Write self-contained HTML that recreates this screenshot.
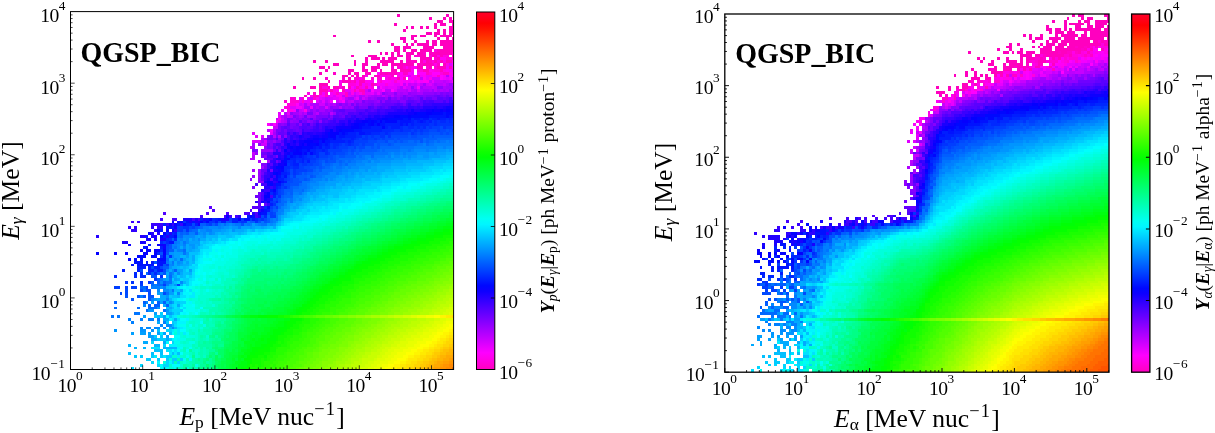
<!DOCTYPE html>
<html><head><meta charset="utf-8"><title>QGSP_BIC gamma-ray yield</title>
<style>html,body{margin:0;padding:0;background:#fff}svg{display:block}text{font-family:"Liberation Serif","Times New Roman",serif;fill:#000}</style>
</head><body>
<svg width="1215" height="433" viewBox="0 0 1215 433">
<rect width="1215" height="433" fill="#fff"/>
<clipPath id="c70"><rect x="70.50" y="11.60" width="383.10" height="357.90"/></clipPath><g clip-path="url(#c70)"><g transform="translate(70.50 369.50) scale(2.8880 -2.8632)" shape-rendering="crispEdges">
<path fill="#ff00bf" d="M86 97h3v1h-3zM90 97h1v1h-1zM94 97h1v1h-1zM98 97h1v1h-1zM100 97h2v1h-2zM77 98h1v1h-1zM83 98h2v1h-2zM86 98h1v1h-1zM89 98h1v1h-1zM91 98h2v1h-2zM94 98h1v1h-1zM96 98h1v1h-1zM99 98h1v1h-1zM102 98h1v1h-1zM86 99h3v1h-3zM100 99h1v1h-1zM104 99h1v1h-1zM89 100h1v1h-1zM94 100h3v1h-3zM98 100h1v1h-1zM100 100h2v1h-2zM80 101h1v1h-1zM84 101h1v1h-1zM96 101h1v1h-1zM113 101h1v1h-1zM115 101h1v1h-1zM94 102h2v1h-2zM97 102h1v1h-1zM99 102h1v1h-1zM101 102h1v1h-1zM106 102h1v1h-1zM86 103h1v1h-1zM96 103h1v1h-1zM98 103h2v1h-2zM103 103h1v1h-1zM107 103h1v1h-1zM109 103h1v1h-1zM112 103h1v1h-1zM88 104h1v1h-1zM96 104h2v1h-2zM101 104h2v1h-2zM104 104h2v1h-2zM107 104h1v1h-1zM111 104h2v1h-2zM114 104h4v1h-4zM122 104h2v1h-2zM128 104h1v1h-1zM86 105h2v1h-2zM89 105h1v1h-1zM101 105h1v1h-1zM104 105h2v1h-2zM114 105h1v1h-1zM120 105h2v1h-2zM124 105h1v1h-1zM127 105h3v1h-3zM131 105h1v1h-1zM91 106h2v1h-2zM98 106h1v1h-1zM101 106h2v1h-2zM106 106h1v1h-1zM108 106h2v1h-2zM111 106h4v1h-4zM116 106h3v1h-3zM120 106h1v1h-1zM122 106h3v1h-3zM129 106h1v1h-1zM84 107h1v1h-1zM88 107h1v1h-1zM98 107h1v1h-1zM102 107h1v1h-1zM108 107h4v1h-4zM114 107h1v1h-1zM117 107h1v1h-1zM119 107h1v1h-1zM121 107h1v1h-1zM123 107h1v1h-1zM126 107h1v1h-1zM128 107h1v1h-1zM130 107h2v1h-2zM102 108h1v1h-1zM104 108h3v1h-3zM108 108h1v1h-1zM110 108h3v1h-3zM116 108h2v1h-2zM121 108h4v1h-4zM127 108h1v1h-1zM132 108h1v1h-1zM97 109h1v1h-1zM103 109h3v1h-3zM111 109h1v1h-1zM113 109h2v1h-2zM116 109h2v1h-2zM121 109h2v1h-2zM125 109h2v1h-2zM128 109h1v1h-1zM132 109h1v1h-1zM107 110h1v1h-1zM109 110h1v1h-1zM111 110h1v1h-1zM113 110h1v1h-1zM116 110h3v1h-3zM120 110h2v1h-2zM124 110h1v1h-1zM126 110h6v1h-6zM112 111h2v1h-2zM115 111h1v1h-1zM118 111h2v1h-2zM121 111h4v1h-4zM128 111h5v1h-5zM112 112h2v1h-2zM115 112h3v1h-3zM122 112h4v1h-4zM129 112h4v1h-4zM111 113h1v1h-1zM116 113h1v1h-1zM118 113h1v1h-1zM120 113h4v1h-4zM125 113h2v1h-2zM128 113h5v1h-5zM103 114h1v1h-1zM106 114h1v1h-1zM115 114h1v1h-1zM119 114h1v1h-1zM123 114h1v1h-1zM125 114h2v1h-2zM128 114h5v1h-5zM114 115h2v1h-2zM118 115h1v1h-1zM127 115h1v1h-1zM130 115h1v1h-1zM132 115h1v1h-1zM91 116h1v1h-1zM118 116h2v1h-2zM121 116h2v1h-2zM126 116h1v1h-1zM128 116h4v1h-4zM123 117h2v1h-2zM126 117h2v1h-2zM129 117h1v1h-1zM131 117h2v1h-2zM115 118h1v1h-1zM127 118h1v1h-1zM129 118h1v1h-1zM131 118h2v1h-2zM116 119h1v1h-1zM118 119h1v1h-1zM121 119h1v1h-1zM123 119h1v1h-1zM126 119h1v1h-1zM131 119h2v1h-2zM112 120h1v1h-1zM126 120h1v1h-1zM128 120h2v1h-2zM132 120h1v1h-1zM127 121h2v1h-2zM131 121h2v1h-2zM124 122h1v1h-1zM129 122h1v1h-1zM131 122h1v1h-1zM113 123h1v1h-1zM130 123h1v1h-1z"/>
<path fill="#ff00ca" d="M81 95h1v1h-1zM84 95h2v1h-2zM88 95h1v1h-1zM95 95h1v1h-1zM84 96h1v1h-1zM86 96h1v1h-1zM88 96h1v1h-1zM92 96h1v1h-1zM95 96h1v1h-1zM101 96h1v1h-1zM105 102h1v1h-1zM111 102h1v1h-1zM120 102h1v1h-1zM127 102h1v1h-1zM91 103h1v1h-1zM102 103h1v1h-1zM108 103h1v1h-1zM110 103h2v1h-2zM115 103h2v1h-2zM123 103h1v1h-1zM129 103h2v1h-2zM115 106h1v1h-1zM121 106h1v1h-1zM125 106h1v1h-1zM127 106h1v1h-1zM107 107h1v1h-1zM116 107h1v1h-1zM118 107h1v1h-1zM124 107h1v1h-1zM122 110h1v1h-1zM125 110h1v1h-1zM127 111h1v1h-1z"/>
<path fill="#ff00d5" d="M74 93h1v1h-1zM76 93h3v1h-3zM80 93h1v1h-1zM83 93h1v1h-1zM76 94h2v1h-2zM80 94h1v1h-1zM84 94h1v1h-1zM97 100h1v1h-1zM107 100h1v1h-1zM112 100h1v1h-1zM88 101h1v1h-1zM94 101h1v1h-1zM98 101h2v1h-2zM101 101h1v1h-1zM104 101h1v1h-1zM106 101h2v1h-2zM110 101h1v1h-1zM106 105h1v1h-1zM111 105h1v1h-1zM113 105h1v1h-1zM115 105h1v1h-1zM117 105h1v1h-1zM123 105h1v1h-1zM126 105h1v1h-1zM126 108h1v1h-1zM130 108h1v1h-1zM119 109h2v1h-2zM132 110h1v1h-1z"/>
<path fill="#ff00e0" d="M74 91h2v1h-2zM75 92h3v1h-3zM87 98h2v1h-2zM93 98h1v1h-1zM100 98h1v1h-1zM104 98h1v1h-1zM93 99h1v1h-1zM96 99h3v1h-3zM102 99h1v1h-1zM105 99h1v1h-1zM109 99h1v1h-1zM113 103h1v1h-1zM124 103h1v1h-1zM128 103h1v1h-1zM120 104h2v1h-2zM126 104h2v1h-2zM132 104h1v1h-1zM125 107h1v1h-1zM127 107h1v1h-1zM131 108h1v1h-1zM124 109h1v1h-1zM129 109h2v1h-2zM126 111h1v1h-1z"/>
<path fill="#ff00eb" d="M75 90h2v1h-2zM81 90h1v1h-1zM82 96h1v1h-1zM91 96h1v1h-1zM94 96h1v1h-1zM97 96h1v1h-1zM100 96h1v1h-1zM91 97h1v1h-1zM97 97h1v1h-1zM99 97h1v1h-1zM100 101h1v1h-1zM109 101h1v1h-1zM111 101h2v1h-2zM119 101h2v1h-2zM124 101h1v1h-1zM107 102h4v1h-4zM113 102h1v1h-1zM115 102h1v1h-1zM125 104h1v1h-1zM129 104h1v1h-1zM118 105h1v1h-1zM126 106h1v1h-1zM130 106h1v1h-1zM122 107h1v1h-1zM129 107h1v1h-1zM127 109h1v1h-1z"/>
<path fill="#ff00f6" d="M72 87h1v1h-1zM85 94h1v1h-1zM93 94h1v1h-1zM83 95h1v1h-1zM87 95h1v1h-1zM92 95h2v1h-2zM99 99h1v1h-1zM106 99h1v1h-1zM114 99h1v1h-1zM93 100h1v1h-1zM99 100h1v1h-1zM102 100h3v1h-3zM108 100h1v1h-1zM110 100h1v1h-1zM113 100h2v1h-2zM116 100h1v1h-1zM122 100h2v1h-2zM102 102h1v1h-1zM114 102h1v1h-1zM118 102h1v1h-1zM122 102h1v1h-1zM125 102h2v1h-2zM132 102h1v1h-1zM131 103h1v1h-1zM118 104h1v1h-1zM124 104h1v1h-1zM130 104h1v1h-1zM116 105h1v1h-1zM119 105h1v1h-1zM132 107h1v1h-1zM128 108h2v1h-2z"/>
<path fill="#fe00ff" d="M68 85h1v1h-1zM70 85h1v1h-1zM71 86h1v1h-1zM78 92h1v1h-1zM90 93h1v1h-1zM94 93h1v1h-1zM89 97h1v1h-1zM92 97h1v1h-1zM104 97h1v1h-1zM108 97h1v1h-1zM111 97h1v1h-1zM97 98h1v1h-1zM103 98h1v1h-1zM107 98h1v1h-1zM120 98h1v1h-1zM106 100h1v1h-1zM109 100h1v1h-1zM118 100h1v1h-1zM120 100h1v1h-1zM114 101h1v1h-1zM117 101h1v1h-1zM122 101h1v1h-1zM128 101h1v1h-1zM116 102h1v1h-1zM119 102h1v1h-1zM128 102h1v1h-1zM106 103h1v1h-1zM114 103h1v1h-1zM117 103h1v1h-1zM120 103h3v1h-3zM125 103h3v1h-3zM132 106h1v1h-1z"/>
<path fill="#f300ff" d="M69 83h1v1h-1zM73 90h1v1h-1zM77 90h1v1h-1zM78 91h2v1h-2zM83 91h1v1h-1zM86 95h1v1h-1zM90 95h1v1h-1zM87 96h1v1h-1zM90 96h1v1h-1zM93 96h1v1h-1zM101 98h1v1h-1zM101 99h1v1h-1zM103 99h1v1h-1zM107 99h2v1h-2zM110 99h2v1h-2zM116 99h1v1h-1zM111 100h1v1h-1zM115 100h1v1h-1zM117 100h1v1h-1zM121 100h1v1h-1zM132 100h1v1h-1zM118 101h1v1h-1zM129 101h1v1h-1zM131 101h1v1h-1zM121 102h1v1h-1zM129 102h1v1h-1zM131 102h1v1h-1zM118 103h1v1h-1zM132 103h1v1h-1zM131 104h1v1h-1zM130 105h1v1h-1zM132 105h1v1h-1z"/>
<path fill="#e800ff" d="M64 81h1v1h-1zM66 81h1v1h-1zM63 82h1v1h-1zM69 82h1v1h-1zM72 88h1v1h-1zM72 89h1v1h-1zM75 89h1v1h-1zM79 93h1v1h-1zM81 93h2v1h-2zM85 93h1v1h-1zM87 93h1v1h-1zM93 93h1v1h-1zM79 94h1v1h-1zM82 94h1v1h-1zM86 94h1v1h-1zM91 94h2v1h-2zM94 94h1v1h-1zM99 94h1v1h-1zM99 96h1v1h-1zM104 96h1v1h-1zM106 96h1v1h-1zM95 97h2v1h-2zM98 98h1v1h-1zM108 98h1v1h-1zM110 98h3v1h-3zM115 98h1v1h-1zM112 99h2v1h-2zM119 100h1v1h-1zM125 100h1v1h-1zM123 101h1v1h-1zM130 101h1v1h-1zM123 102h2v1h-2z"/>
<path fill="#dd00ff" d="M63 79h3v1h-3zM67 79h1v1h-1zM72 86h1v1h-1zM76 91h2v1h-2zM80 91h1v1h-1zM88 91h1v1h-1zM80 92h1v1h-1zM82 92h1v1h-1zM87 94h1v1h-1zM90 94h1v1h-1zM89 95h1v1h-1zM91 95h1v1h-1zM96 95h1v1h-1zM102 96h2v1h-2zM105 97h3v1h-3zM112 97h1v1h-1zM109 98h1v1h-1zM120 99h1v1h-1zM124 99h1v1h-1zM117 102h1v1h-1zM131 106h1v1h-1z"/>
<path fill="#d200ff" d="M62 77h1v1h-1zM66 78h2v1h-2zM69 85h1v1h-1zM71 85h1v1h-1zM80 90h1v1h-1zM79 92h1v1h-1zM86 92h2v1h-2zM89 93h1v1h-1zM92 93h1v1h-1zM83 94h1v1h-1zM89 94h1v1h-1zM98 94h1v1h-1zM101 94h1v1h-1zM97 95h1v1h-1zM99 95h1v1h-1zM102 95h1v1h-1zM96 96h1v1h-1zM98 96h1v1h-1zM102 97h1v1h-1zM117 97h1v1h-1zM120 97h1v1h-1zM113 98h1v1h-1zM116 98h2v1h-2zM118 99h1v1h-1zM123 99h1v1h-1zM131 100h1v1h-1zM125 101h3v1h-3z"/>
<path fill="#c700ff" d="M63 75h1v1h-1zM68 83h1v1h-1zM70 84h2v1h-2zM71 87h1v1h-1zM73 87h1v1h-1zM75 88h1v1h-1zM79 90h1v1h-1zM86 93h1v1h-1zM97 93h1v1h-1zM88 94h1v1h-1zM94 95h1v1h-1zM108 95h1v1h-1zM105 96h1v1h-1zM107 96h1v1h-1zM106 98h1v1h-1zM119 98h1v1h-1zM125 98h1v1h-1zM115 99h1v1h-1zM117 99h1v1h-1zM119 99h1v1h-1zM121 99h1v1h-1zM125 99h1v1h-1zM129 99h1v1h-1zM124 100h1v1h-1zM126 100h3v1h-3zM130 100h1v1h-1zM121 101h1v1h-1zM132 101h1v1h-1z"/>
<path fill="#bc00ff" d="M62 73h2v1h-2zM63 74h1v1h-1zM70 81h1v1h-1zM72 81h1v1h-1zM73 86h1v1h-1zM73 88h1v1h-1zM76 88h1v1h-1zM74 89h1v1h-1zM79 89h1v1h-1zM81 89h1v1h-1zM85 89h1v1h-1zM90 89h1v1h-1zM85 91h1v1h-1zM93 91h1v1h-1zM83 92h1v1h-1zM89 92h1v1h-1zM91 92h1v1h-1zM88 93h1v1h-1zM96 93h1v1h-1zM95 94h1v1h-1zM102 94h1v1h-1zM98 95h1v1h-1zM101 95h1v1h-1zM103 95h1v1h-1zM111 95h1v1h-1zM109 97h2v1h-2zM113 97h3v1h-3zM126 97h1v1h-1zM114 98h1v1h-1zM122 98h3v1h-3zM126 98h1v1h-1zM127 99h2v1h-2zM129 100h1v1h-1zM130 102h1v1h-1z"/>
<path fill="#b100ff" d="M65 72h1v1h-1zM68 72h1v1h-1zM66 79h1v1h-1zM66 80h1v1h-1zM70 83h1v1h-1zM74 86h1v1h-1zM82 90h1v1h-1zM89 91h1v1h-1zM81 92h1v1h-1zM84 92h2v1h-2zM90 92h1v1h-1zM100 95h1v1h-1zM104 95h1v1h-1zM106 95h1v1h-1zM109 95h1v1h-1zM110 96h2v1h-2zM113 96h1v1h-1zM115 96h2v1h-2zM103 97h1v1h-1zM116 97h1v1h-1zM118 97h1v1h-1zM121 97h1v1h-1zM124 97h1v1h-1zM128 97h1v1h-1zM130 97h1v1h-1zM132 97h1v1h-1zM129 98h1v1h-1zM126 99h1v1h-1zM130 99h1v1h-1z"/>
<path fill="#a700ff" d="M63 69h1v1h-1zM65 69h1v1h-1zM66 70h1v1h-1zM63 77h1v1h-1zM63 78h1v1h-1zM70 82h1v1h-1zM74 87h1v1h-1zM74 88h1v1h-1zM79 88h1v1h-1zM82 88h1v1h-1zM77 89h2v1h-2zM80 89h1v1h-1zM84 89h1v1h-1zM84 90h1v1h-1zM86 90h2v1h-2zM81 91h2v1h-2zM84 91h1v1h-1zM86 91h2v1h-2zM88 92h1v1h-1zM96 92h1v1h-1zM95 93h1v1h-1zM100 93h1v1h-1zM96 94h2v1h-2zM100 94h1v1h-1zM104 94h1v1h-1zM105 95h1v1h-1zM107 95h1v1h-1zM113 95h1v1h-1zM109 96h1v1h-1zM114 96h1v1h-1zM120 96h2v1h-2zM119 97h1v1h-1zM122 97h2v1h-2zM127 97h1v1h-1zM129 97h1v1h-1zM121 98h1v1h-1zM130 98h2v1h-2zM122 99h1v1h-1zM132 99h1v1h-1z"/>
<path fill="#9c00ff" d="M63 67h1v1h-1zM65 67h1v1h-1zM65 68h1v1h-1zM64 75h1v1h-1zM66 76h4v1h-4zM70 79h1v1h-1zM67 80h1v1h-1zM76 86h1v1h-1zM77 87h1v1h-1zM80 88h1v1h-1zM83 88h2v1h-2zM91 89h1v1h-1zM89 90h1v1h-1zM91 91h2v1h-2zM95 91h1v1h-1zM97 91h1v1h-1zM92 92h1v1h-1zM94 92h1v1h-1zM98 92h1v1h-1zM98 93h2v1h-2zM106 93h1v1h-1zM103 94h1v1h-1zM105 94h1v1h-1zM109 94h1v1h-1zM113 94h1v1h-1zM110 95h1v1h-1zM112 95h1v1h-1zM114 95h1v1h-1zM117 95h1v1h-1zM118 96h2v1h-2zM125 97h1v1h-1zM118 98h1v1h-1zM131 99h1v1h-1z"/>
<path fill="#9100ff" d="M65 65h2v1h-2zM62 66h1v1h-1zM65 66h1v1h-1zM67 74h1v1h-1zM67 77h1v1h-1zM65 78h1v1h-1zM72 80h1v1h-1zM74 81h1v1h-1zM73 85h1v1h-1zM79 85h1v1h-1zM77 86h2v1h-2zM82 86h1v1h-1zM86 86h1v1h-1zM79 87h1v1h-1zM84 87h1v1h-1zM78 88h1v1h-1zM76 89h1v1h-1zM87 89h2v1h-2zM78 90h1v1h-1zM83 90h1v1h-1zM85 90h1v1h-1zM88 90h1v1h-1zM90 90h1v1h-1zM90 91h1v1h-1zM94 91h1v1h-1zM96 91h1v1h-1zM95 92h1v1h-1zM100 92h1v1h-1zM102 93h1v1h-1zM105 93h1v1h-1zM108 93h1v1h-1zM111 94h1v1h-1zM116 95h1v1h-1zM118 95h1v1h-1zM108 96h1v1h-1zM112 96h1v1h-1zM117 96h1v1h-1zM122 96h4v1h-4zM127 96h1v1h-1zM131 97h1v1h-1zM127 98h2v1h-2zM132 98h1v1h-1z"/>
<path fill="#8600ff" d="M63 63h1v1h-1zM66 71h2v1h-2zM64 76h1v1h-1zM69 78h1v1h-1zM68 79h2v1h-2zM68 81h1v1h-1zM72 85h1v1h-1zM74 85h1v1h-1zM83 86h1v1h-1zM76 87h1v1h-1zM78 87h1v1h-1zM81 87h1v1h-1zM90 88h1v1h-1zM86 89h1v1h-1zM93 92h1v1h-1zM101 92h2v1h-2zM105 92h1v1h-1zM103 93h2v1h-2zM114 93h2v1h-2zM106 94h3v1h-3zM112 94h1v1h-1zM114 94h1v1h-1zM116 94h1v1h-1zM119 94h1v1h-1zM119 95h1v1h-1zM122 95h1v1h-1zM126 96h1v1h-1zM129 96h1v1h-1zM131 96h1v1h-1z"/>
<path fill="#7b00ff" d="M65 61h1v1h-1zM69 69h1v1h-1zM67 70h1v1h-1zM66 74h1v1h-1zM71 74h1v1h-1zM63 76h1v1h-1zM69 77h1v1h-1zM71 79h2v1h-2zM70 80h1v1h-1zM71 81h1v1h-1zM71 82h1v1h-1zM71 83h2v1h-2zM74 83h1v1h-1zM72 84h1v1h-1zM76 84h1v1h-1zM76 85h2v1h-2zM80 86h1v1h-1zM75 87h1v1h-1zM80 87h1v1h-1zM82 87h1v1h-1zM85 87h1v1h-1zM89 87h1v1h-1zM77 88h1v1h-1zM85 88h4v1h-4zM82 89h2v1h-2zM89 89h1v1h-1zM100 91h3v1h-3zM97 92h1v1h-1zM99 92h1v1h-1zM103 92h1v1h-1zM106 92h1v1h-1zM101 93h1v1h-1zM111 93h2v1h-2zM115 94h1v1h-1zM118 94h1v1h-1zM120 94h1v1h-1zM122 94h1v1h-1zM125 94h2v1h-2zM115 95h1v1h-1zM120 95h2v1h-2zM123 95h3v1h-3zM129 95h1v1h-1zM131 95h2v1h-2zM128 96h1v1h-1zM130 96h1v1h-1zM132 96h1v1h-1z"/>
<path fill="#7000ff" d="M65 59h1v1h-1zM64 60h2v1h-2zM66 68h1v1h-1zM71 72h1v1h-1zM66 75h2v1h-2zM68 77h1v1h-1zM71 77h1v1h-1zM68 78h1v1h-1zM68 80h2v1h-2zM73 80h1v1h-1zM69 81h1v1h-1zM74 82h1v1h-1zM78 83h1v1h-1zM77 84h2v1h-2zM83 85h1v1h-1zM75 86h1v1h-1zM81 86h1v1h-1zM84 86h1v1h-1zM86 87h1v1h-1zM90 87h1v1h-1zM81 88h1v1h-1zM94 88h1v1h-1zM93 89h1v1h-1zM95 89h1v1h-1zM91 90h1v1h-1zM95 90h4v1h-4zM98 91h1v1h-1zM105 91h1v1h-1zM104 92h1v1h-1zM107 92h1v1h-1zM115 92h1v1h-1zM107 93h1v1h-1zM109 93h2v1h-2zM113 93h1v1h-1zM120 93h1v1h-1zM110 94h1v1h-1zM117 94h1v1h-1zM126 95h1v1h-1zM128 95h1v1h-1z"/>
<path fill="#6500ff" d="M65 57h1v1h-1zM67 57h1v1h-1zM65 58h1v1h-1zM66 66h1v1h-1zM66 69h2v1h-2zM67 73h2v1h-2zM69 75h1v1h-1zM70 76h1v1h-1zM72 76h1v1h-1zM73 78h1v1h-1zM72 82h2v1h-2zM79 82h1v1h-1zM73 83h1v1h-1zM77 83h1v1h-1zM79 83h1v1h-1zM73 84h1v1h-1zM75 84h1v1h-1zM78 85h1v1h-1zM88 86h1v1h-1zM89 88h1v1h-1zM93 88h1v1h-1zM92 89h1v1h-1zM94 89h1v1h-1zM92 90h1v1h-1zM99 91h1v1h-1zM109 91h1v1h-1zM108 92h4v1h-4zM116 93h1v1h-1zM119 93h1v1h-1zM123 94h2v1h-2zM129 94h1v1h-1zM132 94h1v1h-1zM127 95h1v1h-1zM130 95h1v1h-1z"/>
<path fill="#5a00ff" d="M48 56h1v1h-1zM63 56h3v1h-3zM66 67h1v1h-1zM69 71h1v1h-1zM69 73h1v1h-1zM70 74h1v1h-1zM68 75h1v1h-1zM70 78h1v1h-1zM73 81h1v1h-1zM75 83h2v1h-2zM74 84h1v1h-1zM79 84h1v1h-1zM82 84h2v1h-2zM75 85h1v1h-1zM81 85h1v1h-1zM84 85h1v1h-1zM79 86h1v1h-1zM85 86h1v1h-1zM87 86h1v1h-1zM83 87h1v1h-1zM87 87h2v1h-2zM91 88h2v1h-2zM98 89h1v1h-1zM93 90h2v1h-2zM99 90h3v1h-3zM104 90h1v1h-1zM104 91h1v1h-1zM106 91h1v1h-1zM108 91h1v1h-1zM112 92h1v1h-1zM114 92h1v1h-1zM118 92h2v1h-2zM121 92h1v1h-1zM117 93h2v1h-2zM121 93h1v1h-1zM126 93h3v1h-3zM130 93h1v1h-1zM121 94h1v1h-1zM127 94h2v1h-2zM130 94h1v1h-1z"/>
<path fill="#5000ff" d="M32 54h1v1h-1zM47 54h1v1h-1zM54 54h1v1h-1zM60 54h2v1h-2zM64 54h1v1h-1zM49 55h1v1h-1zM62 55h1v1h-1zM66 61h1v1h-1zM69 66h1v1h-1zM72 72h1v1h-1zM68 74h1v1h-1zM70 77h1v1h-1zM72 77h1v1h-1zM73 79h1v1h-1zM71 80h1v1h-1zM75 80h1v1h-1zM75 81h1v1h-1zM76 82h1v1h-1zM81 83h2v1h-2zM80 84h2v1h-2zM86 84h1v1h-1zM80 85h1v1h-1zM86 85h1v1h-1zM89 86h1v1h-1zM92 86h1v1h-1zM92 87h3v1h-3zM96 88h1v1h-1zM96 89h2v1h-2zM99 89h1v1h-1zM102 89h1v1h-1zM103 90h1v1h-1zM105 90h1v1h-1zM103 91h1v1h-1zM107 91h1v1h-1zM110 91h1v1h-1zM113 92h1v1h-1zM116 92h1v1h-1zM123 93h1v1h-1z"/>
<path fill="#4500ff" d="M31 52h1v1h-1zM35 52h2v1h-2zM42 52h1v1h-1zM44 52h1v1h-1zM45 53h1v1h-1zM53 53h1v1h-1zM55 53h1v1h-1zM57 53h1v1h-1zM64 53h1v1h-1zM66 59h1v1h-1zM66 60h1v1h-1zM69 60h1v1h-1zM64 64h1v1h-1zM66 64h2v1h-2zM67 68h1v1h-1zM68 70h1v1h-1zM68 71h1v1h-1zM69 74h1v1h-1zM73 75h1v1h-1zM71 78h2v1h-2zM77 80h1v1h-1zM78 82h1v1h-1zM83 83h1v1h-1zM86 83h1v1h-1zM84 84h1v1h-1zM82 85h1v1h-1zM87 85h2v1h-2zM90 86h1v1h-1zM91 87h1v1h-1zM95 88h1v1h-1zM99 88h2v1h-2zM101 89h1v1h-1zM102 90h1v1h-1zM107 90h2v1h-2zM113 91h1v1h-1zM115 91h2v1h-2zM120 92h1v1h-1zM122 93h1v1h-1zM124 93h2v1h-2zM129 93h1v1h-1zM131 94h1v1h-1z"/>
<path fill="#3a00ff" d="M28 50h4v1h-4zM33 50h1v1h-1zM35 50h1v1h-1zM38 50h1v1h-1zM21 51h1v1h-1zM23 51h1v1h-1zM68 57h1v1h-1zM67 62h2v1h-2zM69 63h1v1h-1zM70 67h1v1h-1zM69 72h1v1h-1zM73 76h1v1h-1zM74 77h1v1h-1zM75 79h1v1h-1zM78 80h1v1h-1zM77 81h1v1h-1zM75 82h1v1h-1zM80 83h1v1h-1zM84 83h2v1h-2zM87 83h1v1h-1zM85 84h1v1h-1zM87 84h1v1h-1zM85 85h1v1h-1zM89 85h3v1h-3zM91 86h1v1h-1zM95 86h1v1h-1zM95 87h1v1h-1zM98 87h1v1h-1zM101 87h1v1h-1zM97 88h1v1h-1zM101 88h2v1h-2zM100 89h1v1h-1zM103 89h3v1h-3zM107 89h2v1h-2zM106 90h1v1h-1zM109 90h3v1h-3zM111 91h2v1h-2zM114 91h1v1h-1zM119 91h1v1h-1zM121 91h1v1h-1zM117 92h1v1h-1zM122 92h3v1h-3zM131 93h2v1h-2z"/>
<path fill="#2f00ff" d="M21 48h2v1h-2zM29 48h1v1h-1zM36 48h1v1h-1zM20 49h1v1h-1zM22 49h1v1h-1zM28 49h1v1h-1zM30 49h2v1h-2zM65 55h1v1h-1zM66 56h1v1h-1zM70 65h1v1h-1zM67 66h1v1h-1zM67 67h2v1h-2zM68 68h1v1h-1zM69 70h1v1h-1zM71 71h1v1h-1zM70 72h1v1h-1zM70 73h1v1h-1zM73 74h1v1h-1zM71 76h1v1h-1zM73 77h1v1h-1zM78 78h1v1h-1zM76 80h1v1h-1zM80 80h1v1h-1zM76 81h1v1h-1zM78 81h1v1h-1zM81 81h2v1h-2zM77 82h1v1h-1zM81 82h1v1h-1zM84 82h1v1h-1zM89 84h2v1h-2zM92 85h1v1h-1zM95 85h1v1h-1zM93 86h2v1h-2zM97 86h1v1h-1zM96 87h2v1h-2zM100 87h1v1h-1zM98 88h1v1h-1zM104 88h1v1h-1zM106 89h1v1h-1zM109 89h1v1h-1zM112 90h1v1h-1zM115 90h1v1h-1zM117 91h2v1h-2zM120 91h1v1h-1zM125 92h6v1h-6z"/>
<path fill="#2400ff" d="M9 46h1v1h-1zM24 46h2v1h-2zM28 46h2v1h-2zM33 46h1v1h-1zM28 47h1v1h-1zM30 47h1v1h-1zM34 47h1v1h-1zM58 53h1v1h-1zM65 53h1v1h-1zM63 54h1v1h-1zM64 58h1v1h-1zM67 58h1v1h-1zM66 62h1v1h-1zM67 63h2v1h-2zM70 63h1v1h-1zM71 65h1v1h-1zM69 68h1v1h-1zM68 69h1v1h-1zM70 71h1v1h-1zM73 73h1v1h-1zM72 74h1v1h-1zM70 75h3v1h-3zM75 76h1v1h-1zM74 78h1v1h-1zM76 78h1v1h-1zM74 79h1v1h-1zM76 79h1v1h-1zM78 79h1v1h-1zM74 80h1v1h-1zM79 80h1v1h-1zM81 80h1v1h-1zM80 81h1v1h-1zM80 82h1v1h-1zM82 82h2v1h-2zM85 82h2v1h-2zM91 83h1v1h-1zM88 84h1v1h-1zM91 84h1v1h-1zM93 85h1v1h-1zM103 88h1v1h-1zM107 88h1v1h-1zM113 90h2v1h-2zM117 90h1v1h-1zM119 90h2v1h-2zM122 91h4v1h-4zM127 91h2v1h-2zM131 92h1v1h-1z"/>
<path fill="#1900ff" d="M18 44h2v1h-2zM24 44h2v1h-2zM26 45h2v1h-2zM29 45h1v1h-1zM31 45h2v1h-2zM41 51h1v1h-1zM43 51h2v1h-2zM39 52h3v1h-3zM43 52h1v1h-1zM46 52h1v1h-1zM52 52h3v1h-3zM68 59h1v1h-1zM67 61h1v1h-1zM70 64h1v1h-1zM67 65h1v1h-1zM68 66h1v1h-1zM70 66h1v1h-1zM69 67h1v1h-1zM70 69h2v1h-2zM70 70h1v1h-1zM71 73h2v1h-2zM74 75h1v1h-1zM77 78h1v1h-1zM81 78h1v1h-1zM79 81h1v1h-1zM83 81h1v1h-1zM86 81h1v1h-1zM87 82h1v1h-1zM88 83h2v1h-2zM94 85h1v1h-1zM96 85h1v1h-1zM96 86h1v1h-1zM98 86h1v1h-1zM99 87h1v1h-1zM102 87h1v1h-1zM104 87h2v1h-2zM105 88h2v1h-2zM108 88h1v1h-1zM110 89h7v1h-7zM116 90h1v1h-1zM121 90h2v1h-2zM126 91h1v1h-1zM129 91h1v1h-1zM132 92h1v1h-1z"/>
<path fill="#0e00ff" d="M26 42h1v1h-1zM32 42h1v1h-1zM20 43h1v1h-1zM30 43h3v1h-3zM36 49h1v1h-1zM34 50h1v1h-1zM44 50h1v1h-1zM66 55h1v1h-1zM66 58h1v1h-1zM67 59h1v1h-1zM68 64h1v1h-1zM69 65h1v1h-1zM71 66h1v1h-1zM72 68h1v1h-1zM72 69h1v1h-1zM72 71h2v1h-2zM73 72h1v1h-1zM74 74h1v1h-1zM75 75h1v1h-1zM76 76h1v1h-1zM75 77h1v1h-1zM77 77h1v1h-1zM75 78h1v1h-1zM79 78h1v1h-1zM77 79h1v1h-1zM79 79h2v1h-2zM84 79h2v1h-2zM82 80h2v1h-2zM84 81h2v1h-2zM87 81h2v1h-2zM88 82h1v1h-1zM92 83h1v1h-1zM92 84h5v1h-5zM97 85h1v1h-1zM99 86h2v1h-2zM103 87h1v1h-1zM106 87h2v1h-2zM109 88h3v1h-3zM117 89h2v1h-2zM118 90h1v1h-1zM123 90h2v1h-2zM126 90h2v1h-2zM129 90h1v1h-1zM132 90h1v1h-1zM130 91h3v1h-3z"/>
<path fill="#0400ff" d="M9 40h1v1h-1zM15 40h1v1h-1zM19 40h1v1h-1zM25 40h2v1h-2zM29 40h1v1h-1zM32 40h1v1h-1zM24 41h1v1h-1zM26 41h2v1h-2zM29 41h2v1h-2zM32 41h1v1h-1zM27 47h1v1h-1zM32 47h1v1h-1zM30 48h1v1h-1zM33 48h1v1h-1zM35 48h1v1h-1zM48 52h1v1h-1zM58 52h1v1h-1zM54 53h1v1h-1zM68 58h1v1h-1zM67 60h2v1h-2zM68 61h1v1h-1zM70 62h1v1h-1zM72 65h1v1h-1zM71 68h1v1h-1zM73 70h1v1h-1zM74 71h1v1h-1zM75 73h1v1h-1zM77 75h3v1h-3zM74 76h1v1h-1zM78 76h1v1h-1zM76 77h1v1h-1zM78 77h2v1h-2zM80 78h1v1h-1zM82 78h1v1h-1zM85 78h1v1h-1zM81 79h3v1h-3zM87 79h1v1h-1zM84 80h2v1h-2zM87 80h1v1h-1zM90 81h2v1h-2zM90 82h3v1h-3zM90 83h1v1h-1zM93 83h1v1h-1zM97 84h3v1h-3zM98 85h2v1h-2zM104 85h1v1h-1zM106 85h1v1h-1zM101 86h2v1h-2zM104 86h1v1h-1zM107 86h1v1h-1zM108 87h2v1h-2zM112 88h2v1h-2zM117 88h1v1h-1zM119 89h1v1h-1zM123 89h2v1h-2zM125 90h1v1h-1zM128 90h1v1h-1zM130 90h2v1h-2z"/>
<path fill="#0007ff" d="M20 38h1v1h-1zM22 38h1v1h-1zM24 38h1v1h-1zM30 38h3v1h-3zM23 39h3v1h-3zM28 39h2v1h-2zM32 39h1v1h-1zM31 46h1v1h-1zM36 46h1v1h-1zM36 50h1v1h-1zM39 50h1v1h-1zM35 51h1v1h-1zM37 51h2v1h-2zM45 51h1v1h-1zM47 51h1v1h-1zM62 53h1v1h-1zM65 54h1v1h-1zM68 56h1v1h-1zM69 64h1v1h-1zM68 65h1v1h-1zM71 67h1v1h-1zM70 68h1v1h-1zM73 69h1v1h-1zM71 70h2v1h-2zM74 72h1v1h-1zM74 73h1v1h-1zM76 74h1v1h-1zM81 75h1v1h-1zM83 75h1v1h-1zM77 76h1v1h-1zM79 76h1v1h-1zM82 76h1v1h-1zM80 77h4v1h-4zM83 78h2v1h-2zM86 80h1v1h-1zM88 80h1v1h-1zM91 80h1v1h-1zM89 81h1v1h-1zM89 82h1v1h-1zM94 82h1v1h-1zM94 83h4v1h-4zM100 84h1v1h-1zM108 84h1v1h-1zM100 85h2v1h-2zM103 85h1v1h-1zM103 86h1v1h-1zM105 86h1v1h-1zM109 86h4v1h-4zM110 87h5v1h-5zM117 87h1v1h-1zM114 88h3v1h-3zM118 88h6v1h-6zM130 88h1v1h-1zM120 89h3v1h-3zM125 89h4v1h-4zM130 89h3v1h-3z"/>
<path fill="#0012ff" d="M21 36h1v1h-1zM23 36h6v1h-6zM30 36h2v1h-2zM22 37h3v1h-3zM26 37h1v1h-1zM28 37h1v1h-1zM30 37h3v1h-3zM34 44h2v1h-2zM31 48h1v1h-1zM33 49h2v1h-2zM40 51h1v1h-1zM42 51h1v1h-1zM47 52h1v1h-1zM51 52h1v1h-1zM60 52h2v1h-2zM63 53h1v1h-1zM66 54h2v1h-2zM67 55h1v1h-1zM70 61h1v1h-1zM69 62h1v1h-1zM71 64h2v1h-2zM73 65h1v1h-1zM72 67h1v1h-1zM74 67h1v1h-1zM77 74h1v1h-1zM79 74h1v1h-1zM76 75h1v1h-1zM80 75h1v1h-1zM80 76h2v1h-2zM84 77h1v1h-1zM86 77h1v1h-1zM86 78h1v1h-1zM88 78h1v1h-1zM86 79h1v1h-1zM88 79h2v1h-2zM89 80h2v1h-2zM93 81h2v1h-2zM93 82h1v1h-1zM95 82h1v1h-1zM100 82h2v1h-2zM98 83h3v1h-3zM101 84h3v1h-3zM102 85h1v1h-1zM105 85h1v1h-1zM107 85h2v1h-2zM114 85h1v1h-1zM116 85h1v1h-1zM106 86h1v1h-1zM108 86h1v1h-1zM114 86h4v1h-4zM121 86h1v1h-1zM115 87h2v1h-2zM119 87h2v1h-2zM122 87h2v1h-2zM127 87h1v1h-1zM124 88h6v1h-6zM131 88h2v1h-2zM129 89h1v1h-1z"/>
<path fill="#001dff" d="M18 34h1v1h-1zM23 34h1v1h-1zM27 34h2v1h-2zM30 34h2v1h-2zM23 35h3v1h-3zM27 35h1v1h-1zM29 35h2v1h-2zM25 42h1v1h-1zM31 42h1v1h-1zM27 43h1v1h-1zM26 46h1v1h-1zM32 46h1v1h-1zM34 46h2v1h-2zM36 47h1v1h-1zM35 49h1v1h-1zM32 50h1v1h-1zM37 50h1v1h-1zM40 50h2v1h-2zM43 50h1v1h-1zM46 51h1v1h-1zM50 51h1v1h-1zM52 51h2v1h-2zM56 51h2v1h-2zM45 52h1v1h-1zM50 52h1v1h-1zM56 52h2v1h-2zM63 52h1v1h-1zM61 53h1v1h-1zM68 55h1v1h-1zM69 57h1v1h-1zM69 59h1v1h-1zM70 60h1v1h-1zM71 63h1v1h-1zM74 65h1v1h-1zM72 66h2v1h-2zM73 68h2v1h-2zM77 71h2v1h-2zM77 72h1v1h-1zM80 72h1v1h-1zM82 72h1v1h-1zM76 73h2v1h-2zM80 73h1v1h-1zM75 74h1v1h-1zM78 74h1v1h-1zM80 74h1v1h-1zM84 75h1v1h-1zM83 76h2v1h-2zM87 76h1v1h-1zM85 77h1v1h-1zM88 77h2v1h-2zM87 78h1v1h-1zM89 78h1v1h-1zM90 79h5v1h-5zM96 79h1v1h-1zM92 80h2v1h-2zM97 80h1v1h-1zM92 81h1v1h-1zM95 81h4v1h-4zM96 82h3v1h-3zM102 82h2v1h-2zM101 83h7v1h-7zM104 84h4v1h-4zM109 84h1v1h-1zM111 84h3v1h-3zM109 85h5v1h-5zM115 85h1v1h-1zM118 85h1v1h-1zM113 86h1v1h-1zM118 86h1v1h-1zM120 86h1v1h-1zM122 86h1v1h-1zM124 86h1v1h-1zM118 87h1v1h-1zM121 87h1v1h-1zM125 87h2v1h-2zM128 87h2v1h-2zM131 87h1v1h-1z"/>
<path fill="#0028ff" d="M15 32h1v1h-1zM22 32h1v1h-1zM24 32h2v1h-2zM31 32h1v1h-1zM22 33h1v1h-1zM24 33h1v1h-1zM27 33h1v1h-1zM29 33h1v1h-1zM30 40h1v1h-1zM31 41h1v1h-1zM31 44h1v1h-1zM33 44h1v1h-1zM33 45h1v1h-1zM36 45h1v1h-1zM33 47h1v1h-1zM35 47h1v1h-1zM49 52h1v1h-1zM64 52h1v1h-1zM67 53h1v1h-1zM67 56h1v1h-1zM71 58h1v1h-1zM69 61h1v1h-1zM71 61h1v1h-1zM71 62h1v1h-1zM72 63h1v1h-1zM73 67h1v1h-1zM75 68h1v1h-1zM74 69h1v1h-1zM74 70h2v1h-2zM77 70h2v1h-2zM76 71h1v1h-1zM75 72h2v1h-2zM79 72h1v1h-1zM78 73h2v1h-2zM81 73h2v1h-2zM81 74h1v1h-1zM85 74h1v1h-1zM82 75h1v1h-1zM85 75h1v1h-1zM88 75h1v1h-1zM85 76h2v1h-2zM88 76h1v1h-1zM87 77h1v1h-1zM91 77h1v1h-1zM91 78h2v1h-2zM96 78h1v1h-1zM95 79h1v1h-1zM97 79h1v1h-1zM94 80h3v1h-3zM98 80h1v1h-1zM99 81h2v1h-2zM99 82h1v1h-1zM104 82h3v1h-3zM109 82h1v1h-1zM108 83h4v1h-4zM114 83h1v1h-1zM110 84h1v1h-1zM114 84h1v1h-1zM117 84h2v1h-2zM120 84h1v1h-1zM122 84h1v1h-1zM117 85h1v1h-1zM119 85h5v1h-5zM126 85h1v1h-1zM119 86h1v1h-1zM123 86h1v1h-1zM126 86h1v1h-1zM128 86h2v1h-2zM131 86h1v1h-1zM124 87h1v1h-1zM130 87h1v1h-1zM132 87h1v1h-1z"/>
<path fill="#0033ff" d="M19 30h1v1h-1zM21 30h1v1h-1zM24 30h1v1h-1zM27 30h1v1h-1zM29 31h1v1h-1zM31 39h1v1h-1zM34 39h1v1h-1zM34 45h1v1h-1zM40 48h1v1h-1zM39 49h2v1h-2zM39 51h1v1h-1zM48 51h2v1h-2zM59 51h2v1h-2zM64 51h1v1h-1zM66 52h1v1h-1zM70 57h1v1h-1zM69 58h1v1h-1zM72 60h1v1h-1zM74 63h1v1h-1zM73 64h1v1h-1zM74 66h1v1h-1zM77 68h1v1h-1zM75 69h1v1h-1zM77 69h1v1h-1zM76 70h1v1h-1zM75 71h1v1h-1zM80 71h2v1h-2zM78 72h1v1h-1zM81 72h1v1h-1zM83 73h2v1h-2zM82 74h2v1h-2zM89 75h1v1h-1zM90 77h1v1h-1zM92 77h1v1h-1zM90 78h1v1h-1zM93 78h1v1h-1zM95 78h1v1h-1zM97 78h1v1h-1zM99 80h1v1h-1zM101 80h2v1h-2zM105 80h1v1h-1zM102 81h1v1h-1zM104 81h1v1h-1zM107 81h2v1h-2zM110 81h1v1h-1zM107 82h2v1h-2zM110 82h1v1h-1zM118 82h1v1h-1zM112 83h2v1h-2zM115 83h3v1h-3zM119 83h1v1h-1zM121 83h1v1h-1zM115 84h2v1h-2zM119 84h1v1h-1zM121 84h1v1h-1zM124 84h1v1h-1zM129 84h1v1h-1zM124 85h2v1h-2zM127 85h6v1h-6zM125 86h1v1h-1zM127 86h1v1h-1zM130 86h1v1h-1zM132 86h1v1h-1z"/>
<path fill="#003eff" d="M15 28h2v1h-2zM19 28h1v1h-1zM21 28h2v1h-2zM26 28h1v1h-1zM24 29h1v1h-1zM32 29h1v1h-1zM37 29h1v1h-1zM33 36h1v1h-1zM33 43h1v1h-1zM32 44h1v1h-1zM37 48h2v1h-2zM37 49h2v1h-2zM42 49h1v1h-1zM48 50h1v1h-1zM58 51h1v1h-1zM55 52h1v1h-1zM59 52h1v1h-1zM62 52h1v1h-1zM65 52h1v1h-1zM69 53h2v1h-2zM69 54h1v1h-1zM69 56h1v1h-1zM71 56h1v1h-1zM70 58h1v1h-1zM71 59h1v1h-1zM72 61h1v1h-1zM72 62h1v1h-1zM73 63h1v1h-1zM75 66h1v1h-1zM75 67h1v1h-1zM77 67h1v1h-1zM78 68h1v1h-1zM78 69h4v1h-4zM79 70h2v1h-2zM79 71h1v1h-1zM82 71h2v1h-2zM83 72h2v1h-2zM85 73h1v1h-1zM84 74h1v1h-1zM86 74h3v1h-3zM86 75h2v1h-2zM91 75h1v1h-1zM89 76h5v1h-5zM93 77h3v1h-3zM98 77h1v1h-1zM94 78h1v1h-1zM98 78h2v1h-2zM101 78h1v1h-1zM98 79h5v1h-5zM100 80h1v1h-1zM103 80h2v1h-2zM106 80h1v1h-1zM108 80h1v1h-1zM101 81h1v1h-1zM103 81h1v1h-1zM105 81h2v1h-2zM111 82h6v1h-6zM119 82h1v1h-1zM121 82h1v1h-1zM118 83h1v1h-1zM120 83h1v1h-1zM122 83h2v1h-2zM127 83h1v1h-1zM132 83h1v1h-1zM123 84h1v1h-1zM125 84h3v1h-3zM130 84h2v1h-2z"/>
<path fill="#0049ff" d="M17 26h1v1h-1zM19 26h1v1h-1zM27 26h1v1h-1zM32 26h1v1h-1zM19 27h1v1h-1zM24 27h1v1h-1zM26 27h2v1h-2zM24 34h1v1h-1zM29 34h1v1h-1zM32 34h1v1h-1zM28 35h1v1h-1zM31 35h1v1h-1zM33 41h1v1h-1zM33 42h1v1h-1zM41 49h1v1h-1zM42 50h1v1h-1zM47 50h1v1h-1zM50 50h1v1h-1zM51 51h1v1h-1zM55 51h1v1h-1zM67 52h1v1h-1zM66 53h1v1h-1zM70 54h1v1h-1zM69 55h1v1h-1zM70 59h1v1h-1zM71 60h1v1h-1zM73 61h1v1h-1zM73 62h1v1h-1zM75 63h1v1h-1zM74 64h2v1h-2zM75 65h2v1h-2zM76 66h1v1h-1zM76 68h1v1h-1zM79 68h1v1h-1zM76 69h1v1h-1zM82 69h2v1h-2zM81 70h2v1h-2zM84 71h2v1h-2zM85 72h1v1h-1zM88 72h1v1h-1zM86 73h3v1h-3zM90 73h1v1h-1zM89 74h2v1h-2zM90 75h1v1h-1zM92 75h3v1h-3zM94 76h2v1h-2zM97 76h1v1h-1zM96 77h2v1h-2zM100 77h2v1h-2zM100 78h1v1h-1zM102 78h3v1h-3zM103 79h3v1h-3zM109 79h1v1h-1zM107 80h1v1h-1zM109 80h3v1h-3zM113 80h1v1h-1zM109 81h1v1h-1zM111 81h6v1h-6zM118 81h2v1h-2zM117 82h1v1h-1zM120 82h1v1h-1zM122 82h2v1h-2zM128 82h1v1h-1zM130 82h1v1h-1zM124 83h3v1h-3zM128 83h2v1h-2zM131 83h1v1h-1zM128 84h1v1h-1zM132 84h1v1h-1z"/>
<path fill="#0053ff" d="M21 24h1v1h-1zM27 24h1v1h-1zM19 25h1v1h-1zM23 25h1v1h-1zM25 25h1v1h-1zM27 25h2v1h-2zM28 32h2v1h-2zM28 33h1v1h-1zM30 33h1v1h-1zM32 33h1v1h-1zM32 36h1v1h-1zM29 37h1v1h-1zM31 40h1v1h-1zM33 40h1v1h-1zM34 42h1v1h-1zM34 43h1v1h-1zM43 49h1v1h-1zM59 50h1v1h-1zM54 51h1v1h-1zM65 51h1v1h-1zM67 51h1v1h-1zM68 54h1v1h-1zM70 56h1v1h-1zM72 58h1v1h-1zM72 59h1v1h-1zM76 64h3v1h-3zM77 65h3v1h-3zM77 66h2v1h-2zM81 66h1v1h-1zM76 67h1v1h-1zM83 67h1v1h-1zM81 68h1v1h-1zM83 70h2v1h-2zM86 70h1v1h-1zM86 71h1v1h-1zM86 72h1v1h-1zM89 72h3v1h-3zM89 73h1v1h-1zM91 73h1v1h-1zM91 74h1v1h-1zM93 74h2v1h-2zM95 75h1v1h-1zM97 75h1v1h-1zM96 76h1v1h-1zM98 76h1v1h-1zM100 76h1v1h-1zM99 77h1v1h-1zM104 77h1v1h-1zM106 77h1v1h-1zM106 78h1v1h-1zM110 78h1v1h-1zM106 79h3v1h-3zM112 79h1v1h-1zM114 79h1v1h-1zM121 79h1v1h-1zM112 80h1v1h-1zM114 80h8v1h-8zM117 81h1v1h-1zM120 81h4v1h-4zM125 81h1v1h-1zM124 82h4v1h-4zM129 82h1v1h-1zM131 82h2v1h-2zM130 83h1v1h-1z"/>
<path fill="#005eff" d="M27 22h1v1h-1zM29 22h2v1h-2zM33 22h1v1h-1zM15 23h1v1h-1zM25 23h1v1h-1zM30 23h1v1h-1zM32 23h1v1h-1zM28 30h1v1h-1zM30 30h1v1h-1zM32 30h1v1h-1zM30 31h1v1h-1zM36 34h1v1h-1zM32 35h2v1h-2zM34 41h2v1h-2zM35 45h1v1h-1zM38 47h1v1h-1zM40 47h1v1h-1zM43 47h1v1h-1zM39 48h1v1h-1zM41 48h1v1h-1zM44 49h1v1h-1zM45 50h2v1h-2zM49 50h1v1h-1zM62 51h2v1h-2zM68 51h1v1h-1zM68 52h1v1h-1zM70 55h2v1h-2zM71 57h1v1h-1zM73 60h1v1h-1zM74 61h1v1h-1zM76 61h1v1h-1zM74 62h3v1h-3zM76 63h1v1h-1zM79 66h2v1h-2zM82 66h1v1h-1zM78 67h4v1h-4zM84 67h1v1h-1zM80 68h1v1h-1zM82 68h2v1h-2zM84 69h1v1h-1zM86 69h1v1h-1zM85 70h1v1h-1zM87 70h1v1h-1zM88 71h2v1h-2zM87 72h1v1h-1zM93 72h1v1h-1zM92 73h1v1h-1zM92 74h1v1h-1zM95 74h4v1h-4zM96 75h1v1h-1zM99 75h1v1h-1zM99 76h1v1h-1zM101 76h5v1h-5zM102 77h2v1h-2zM105 77h1v1h-1zM105 78h1v1h-1zM107 78h3v1h-3zM111 78h1v1h-1zM110 79h2v1h-2zM113 79h1v1h-1zM115 79h2v1h-2zM119 79h1v1h-1zM123 79h1v1h-1zM123 80h4v1h-4zM124 81h1v1h-1zM126 81h7v1h-7z"/>
<path fill="#0069ff" d="M26 20h1v1h-1zM32 20h1v1h-1zM15 21h1v1h-1zM23 21h1v1h-1zM27 21h3v1h-3zM24 28h2v1h-2zM28 29h1v1h-1zM30 29h2v1h-2zM34 32h1v1h-1zM26 33h1v1h-1zM33 38h1v1h-1zM38 38h1v1h-1zM39 41h1v1h-1zM38 46h1v1h-1zM39 47h1v1h-1zM42 48h2v1h-2zM45 49h1v1h-1zM53 50h1v1h-1zM68 53h1v1h-1zM72 56h1v1h-1zM72 57h2v1h-2zM73 58h2v1h-2zM73 59h1v1h-1zM74 60h3v1h-3zM75 61h1v1h-1zM80 62h1v1h-1zM77 63h2v1h-2zM79 64h1v1h-1zM82 67h1v1h-1zM84 68h2v1h-2zM85 69h1v1h-1zM88 70h2v1h-2zM87 71h1v1h-1zM90 71h1v1h-1zM93 71h1v1h-1zM95 71h1v1h-1zM92 72h1v1h-1zM94 72h1v1h-1zM96 72h1v1h-1zM93 73h5v1h-5zM100 74h1v1h-1zM104 74h1v1h-1zM98 75h1v1h-1zM100 75h5v1h-5zM106 76h1v1h-1zM108 76h1v1h-1zM107 77h7v1h-7zM112 78h8v1h-8zM123 78h1v1h-1zM117 79h2v1h-2zM120 79h1v1h-1zM122 79h1v1h-1zM124 79h2v1h-2zM127 79h1v1h-1zM122 80h1v1h-1zM127 80h6v1h-6z"/>
<path fill="#0074ff" d="M14 18h1v1h-1zM16 18h1v1h-1zM22 19h2v1h-2zM33 26h1v1h-1zM25 27h1v1h-1zM35 27h1v1h-1zM33 30h2v1h-2zM31 31h1v1h-1zM34 31h1v1h-1zM31 33h1v1h-1zM34 33h1v1h-1zM33 37h1v1h-1zM35 37h1v1h-1zM39 40h1v1h-1zM36 42h1v1h-1zM36 44h1v1h-1zM39 44h1v1h-1zM37 46h1v1h-1zM37 47h1v1h-1zM51 50h1v1h-1zM57 50h2v1h-2zM61 50h1v1h-1zM66 50h2v1h-2zM61 51h1v1h-1zM66 51h1v1h-1zM69 51h1v1h-1zM69 52h1v1h-1zM71 52h1v1h-1zM71 53h1v1h-1zM71 54h1v1h-1zM76 58h1v1h-1zM74 59h1v1h-1zM76 59h1v1h-1zM79 61h1v1h-1zM77 62h3v1h-3zM79 63h3v1h-3zM80 64h2v1h-2zM80 65h3v1h-3zM83 66h1v1h-1zM85 67h2v1h-2zM86 68h3v1h-3zM87 69h4v1h-4zM90 70h1v1h-1zM92 70h2v1h-2zM91 71h2v1h-2zM94 71h1v1h-1zM95 72h1v1h-1zM97 72h2v1h-2zM98 73h4v1h-4zM99 74h1v1h-1zM101 74h1v1h-1zM105 75h5v1h-5zM107 76h1v1h-1zM109 76h5v1h-5zM117 76h1v1h-1zM114 77h5v1h-5zM120 78h2v1h-2zM124 78h2v1h-2zM126 79h1v1h-1zM128 79h2v1h-2zM131 79h1v1h-1z"/>
<path fill="#007fff" d="M21 16h1v1h-1zM32 16h1v1h-1zM20 17h1v1h-1zM24 17h1v1h-1zM27 17h2v1h-2zM30 17h1v1h-1zM28 24h1v1h-1zM33 24h1v1h-1zM24 25h1v1h-1zM28 28h3v1h-3zM32 28h1v1h-1zM29 29h1v1h-1zM33 29h1v1h-1zM35 36h1v1h-1zM33 39h1v1h-1zM37 41h2v1h-2zM35 42h1v1h-1zM35 43h2v1h-2zM39 43h1v1h-1zM37 44h1v1h-1zM38 45h1v1h-1zM41 47h2v1h-2zM47 48h2v1h-2zM46 49h2v1h-2zM51 49h1v1h-1zM58 49h1v1h-1zM52 50h1v1h-1zM54 50h1v1h-1zM56 50h1v1h-1zM60 50h1v1h-1zM62 50h1v1h-1zM65 50h1v1h-1zM70 51h1v1h-1zM70 52h1v1h-1zM72 54h1v1h-1zM72 55h2v1h-2zM73 56h1v1h-1zM74 57h1v1h-1zM75 59h1v1h-1zM77 61h2v1h-2zM81 62h1v1h-1zM82 63h1v1h-1zM82 64h1v1h-1zM83 65h2v1h-2zM84 66h3v1h-3zM88 66h1v1h-1zM87 67h1v1h-1zM89 68h1v1h-1zM92 68h1v1h-1zM91 69h3v1h-3zM91 70h1v1h-1zM94 70h1v1h-1zM96 70h1v1h-1zM96 71h3v1h-3zM99 72h2v1h-2zM103 72h1v1h-1zM102 73h1v1h-1zM104 73h2v1h-2zM102 74h2v1h-2zM105 74h4v1h-4zM110 74h1v1h-1zM110 75h1v1h-1zM112 75h2v1h-2zM115 75h1v1h-1zM114 76h3v1h-3zM118 76h1v1h-1zM123 76h1v1h-1zM119 77h8v1h-8zM129 77h1v1h-1zM122 78h1v1h-1zM126 78h7v1h-7zM130 79h1v1h-1zM132 79h1v1h-1z"/>
<path fill="#008aff" d="M24 14h1v1h-1zM26 14h2v1h-2zM29 14h2v1h-2zM32 14h1v1h-1zM35 14h1v1h-1zM31 15h1v1h-1zM33 15h2v1h-2zM25 22h1v1h-1zM26 23h1v1h-1zM34 23h1v1h-1zM37 26h1v1h-1zM30 27h1v1h-1zM32 27h2v1h-2zM31 30h1v1h-1zM38 30h1v1h-1zM35 33h1v1h-1zM37 33h1v1h-1zM33 34h1v1h-1zM35 34h1v1h-1zM34 36h1v1h-1zM37 37h1v1h-1zM36 38h1v1h-1zM35 39h1v1h-1zM37 42h1v1h-1zM39 42h1v1h-1zM37 43h1v1h-1zM40 44h1v1h-1zM37 45h1v1h-1zM40 45h1v1h-1zM44 45h1v1h-1zM39 46h4v1h-4zM44 47h1v1h-1zM46 47h1v1h-1zM48 47h1v1h-1zM45 48h2v1h-2zM48 49h3v1h-3zM52 49h1v1h-1zM55 50h1v1h-1zM64 50h1v1h-1zM69 50h1v1h-1zM73 54h1v1h-1zM74 56h1v1h-1zM75 58h1v1h-1zM77 59h1v1h-1zM79 59h1v1h-1zM77 60h2v1h-2zM80 61h1v1h-1zM82 62h1v1h-1zM83 63h1v1h-1zM83 64h3v1h-3zM85 65h1v1h-1zM87 66h1v1h-1zM90 66h1v1h-1zM88 67h4v1h-4zM90 68h2v1h-2zM93 68h1v1h-1zM94 69h2v1h-2zM95 70h1v1h-1zM97 70h3v1h-3zM99 71h3v1h-3zM101 72h2v1h-2zM105 72h2v1h-2zM103 73h1v1h-1zM106 73h6v1h-6zM109 74h1v1h-1zM112 74h2v1h-2zM115 74h1v1h-1zM117 74h1v1h-1zM111 75h1v1h-1zM114 75h1v1h-1zM116 75h4v1h-4zM119 76h4v1h-4zM124 76h3v1h-3zM127 77h2v1h-2zM130 77h2v1h-2z"/>
<path fill="#0095ff" d="M15 13h1v1h-1zM24 13h2v1h-2zM28 13h1v1h-1zM27 20h2v1h-2zM33 20h1v1h-1zM30 21h1v1h-1zM29 24h1v1h-1zM33 25h1v1h-1zM31 28h1v1h-1zM36 29h1v1h-1zM32 31h1v1h-1zM34 35h1v1h-1zM37 36h1v1h-1zM34 37h1v1h-1zM38 37h1v1h-1zM34 40h2v1h-2zM40 40h1v1h-1zM36 41h1v1h-1zM42 42h1v1h-1zM38 43h1v1h-1zM41 43h2v1h-2zM38 44h1v1h-1zM39 45h1v1h-1zM42 45h1v1h-1zM46 46h1v1h-1zM45 47h1v1h-1zM49 47h1v1h-1zM49 48h3v1h-3zM56 48h1v1h-1zM53 49h2v1h-2zM56 49h2v1h-2zM62 49h1v1h-1zM68 50h1v1h-1zM70 50h1v1h-1zM71 51h1v1h-1zM72 52h1v1h-1zM72 53h1v1h-1zM75 56h1v1h-1zM75 57h1v1h-1zM77 58h1v1h-1zM78 59h1v1h-1zM79 60h2v1h-2zM81 61h1v1h-1zM83 62h2v1h-2zM84 63h2v1h-2zM86 64h2v1h-2zM86 65h3v1h-3zM89 66h1v1h-1zM91 66h1v1h-1zM92 67h1v1h-1zM95 67h1v1h-1zM94 68h2v1h-2zM97 68h1v1h-1zM96 69h4v1h-4zM102 69h1v1h-1zM100 70h4v1h-4zM102 71h4v1h-4zM104 72h1v1h-1zM107 72h4v1h-4zM112 73h3v1h-3zM117 73h1v1h-1zM111 74h1v1h-1zM114 74h1v1h-1zM116 74h1v1h-1zM118 74h2v1h-2zM122 74h2v1h-2zM120 75h4v1h-4zM126 75h1v1h-1zM127 76h3v1h-3zM131 76h1v1h-1zM132 77h1v1h-1z"/>
<path fill="#00a0ff" d="M27 11h2v1h-2zM33 11h1v1h-1zM21 12h1v1h-1zM24 12h2v1h-2zM27 12h1v1h-1zM30 12h1v1h-1zM32 12h1v1h-1zM25 18h1v1h-1zM32 18h1v1h-1zM29 19h1v1h-1zM33 19h2v1h-2zM28 23h1v1h-1zM31 23h1v1h-1zM35 23h1v1h-1zM30 26h2v1h-2zM34 26h2v1h-2zM34 27h1v1h-1zM33 31h1v1h-1zM36 31h1v1h-1zM33 32h1v1h-1zM35 32h1v1h-1zM37 34h2v1h-2zM41 34h1v1h-1zM38 36h1v1h-1zM40 37h1v1h-1zM35 38h1v1h-1zM37 38h1v1h-1zM39 38h1v1h-1zM36 39h2v1h-2zM40 39h1v1h-1zM36 40h3v1h-3zM41 41h1v1h-1zM41 42h1v1h-1zM44 43h1v1h-1zM41 44h4v1h-4zM43 45h1v1h-1zM43 46h1v1h-1zM45 46h1v1h-1zM47 47h1v1h-1zM44 48h1v1h-1zM52 48h2v1h-2zM55 49h1v1h-1zM59 49h3v1h-3zM63 49h1v1h-1zM66 49h1v1h-1zM63 50h1v1h-1zM74 55h2v1h-2zM77 56h1v1h-1zM76 57h1v1h-1zM78 57h1v1h-1zM78 58h2v1h-2zM80 59h1v1h-1zM81 60h1v1h-1zM83 61h1v1h-1zM86 63h2v1h-2zM88 64h4v1h-4zM89 65h4v1h-4zM92 66h2v1h-2zM95 66h1v1h-1zM93 67h2v1h-2zM96 67h2v1h-2zM96 68h1v1h-1zM98 68h1v1h-1zM100 68h1v1h-1zM100 69h2v1h-2zM104 69h2v1h-2zM104 70h2v1h-2zM106 71h5v1h-5zM111 72h4v1h-4zM115 73h2v1h-2zM118 73h6v1h-6zM120 74h2v1h-2zM124 74h4v1h-4zM124 75h2v1h-2zM127 75h3v1h-3zM130 76h1v1h-1zM132 76h1v1h-1z"/>
<path fill="#00aaff" d="M25 9h2v1h-2zM32 9h1v1h-1zM28 10h2v1h-2zM33 10h1v1h-1zM30 16h1v1h-1zM32 17h2v1h-2zM36 17h1v1h-1zM34 21h1v1h-1zM32 22h1v1h-1zM37 22h1v1h-1zM30 24h3v1h-3zM31 25h2v1h-2zM38 27h1v1h-1zM34 29h1v1h-1zM35 30h1v1h-1zM37 31h1v1h-1zM36 32h1v1h-1zM33 33h1v1h-1zM38 33h1v1h-1zM34 34h1v1h-1zM35 35h2v1h-2zM36 36h1v1h-1zM39 36h2v1h-2zM36 37h1v1h-1zM34 38h1v1h-1zM42 38h1v1h-1zM42 39h1v1h-1zM40 41h1v1h-1zM42 41h1v1h-1zM38 42h1v1h-1zM40 42h1v1h-1zM43 42h1v1h-1zM40 43h1v1h-1zM43 43h1v1h-1zM41 45h1v1h-1zM45 45h2v1h-2zM44 46h1v1h-1zM50 47h1v1h-1zM52 47h1v1h-1zM54 48h1v1h-1zM57 48h3v1h-3zM64 49h2v1h-2zM67 49h1v1h-1zM70 49h1v1h-1zM73 53h1v1h-1zM74 54h1v1h-1zM76 56h1v1h-1zM78 56h1v1h-1zM77 57h1v1h-1zM79 57h1v1h-1zM80 58h2v1h-2zM81 59h2v1h-2zM82 60h1v1h-1zM84 60h1v1h-1zM82 61h1v1h-1zM84 61h2v1h-2zM85 62h3v1h-3zM88 63h2v1h-2zM91 63h1v1h-1zM94 64h1v1h-1zM93 65h4v1h-4zM94 66h1v1h-1zM96 66h2v1h-2zM98 67h1v1h-1zM100 67h2v1h-2zM99 68h1v1h-1zM101 68h4v1h-4zM106 68h1v1h-1zM103 69h1v1h-1zM106 69h3v1h-3zM106 70h5v1h-5zM111 71h5v1h-5zM115 72h5v1h-5zM124 73h1v1h-1zM128 74h2v1h-2zM130 75h3v1h-3z"/>
<path fill="#00b5ff" d="M22 7h1v1h-1zM25 7h1v1h-1zM32 7h5v1h-5zM20 8h1v1h-1zM29 8h2v1h-2zM34 14h1v1h-1zM36 14h1v1h-1zM35 15h1v1h-1zM35 19h1v1h-1zM33 23h1v1h-1zM34 24h1v1h-1zM37 25h1v1h-1zM33 28h1v1h-1zM35 29h1v1h-1zM38 29h1v1h-1zM39 30h1v1h-1zM38 32h1v1h-1zM36 33h1v1h-1zM41 33h1v1h-1zM37 35h1v1h-1zM39 35h1v1h-1zM39 37h1v1h-1zM42 37h1v1h-1zM40 38h1v1h-1zM38 39h2v1h-2zM43 41h2v1h-2zM48 45h1v1h-1zM47 46h4v1h-4zM51 47h1v1h-1zM53 47h2v1h-2zM58 47h1v1h-1zM55 48h1v1h-1zM60 48h1v1h-1zM63 48h1v1h-1zM68 49h1v1h-1zM71 50h1v1h-1zM72 51h1v1h-1zM73 52h1v1h-1zM74 53h1v1h-1zM76 55h2v1h-2zM80 57h1v1h-1zM82 58h1v1h-1zM84 59h1v1h-1zM83 60h1v1h-1zM85 60h1v1h-1zM86 61h3v1h-3zM88 62h2v1h-2zM90 63h1v1h-1zM92 63h2v1h-2zM92 64h2v1h-2zM95 64h2v1h-2zM97 65h4v1h-4zM98 66h3v1h-3zM102 66h2v1h-2zM99 67h1v1h-1zM102 67h5v1h-5zM105 68h1v1h-1zM107 68h1v1h-1zM109 69h3v1h-3zM111 70h5v1h-5zM116 71h6v1h-6zM120 72h6v1h-6zM125 73h6v1h-6zM130 74h3v1h-3z"/>
<path fill="#00c0ff" d="M20 5h1v1h-1zM28 5h1v1h-1zM31 5h1v1h-1zM35 5h1v1h-1zM37 5h1v1h-1zM29 6h3v1h-3zM34 12h1v1h-1zM30 13h1v1h-1zM30 18h1v1h-1zM34 18h1v1h-1zM34 20h1v1h-1zM33 21h1v1h-1zM35 21h1v1h-1zM34 22h1v1h-1zM35 25h2v1h-2zM36 27h2v1h-2zM34 28h1v1h-1zM36 30h1v1h-1zM39 32h1v1h-1zM39 33h2v1h-2zM39 34h1v1h-1zM38 35h1v1h-1zM40 35h1v1h-1zM41 36h1v1h-1zM41 37h1v1h-1zM41 38h1v1h-1zM41 39h1v1h-1zM41 40h3v1h-3zM44 42h1v1h-1zM45 43h1v1h-1zM46 44h1v1h-1zM47 45h1v1h-1zM50 45h1v1h-1zM54 46h2v1h-2zM55 47h3v1h-3zM59 47h1v1h-1zM62 48h1v1h-1zM69 49h1v1h-1zM72 50h1v1h-1zM75 53h1v1h-1zM75 54h1v1h-1zM79 56h2v1h-2zM81 57h1v1h-1zM83 58h1v1h-1zM83 59h1v1h-1zM85 59h3v1h-3zM86 60h1v1h-1zM88 60h1v1h-1zM91 60h2v1h-2zM89 61h4v1h-4zM90 62h4v1h-4zM94 63h2v1h-2zM97 63h1v1h-1zM97 64h4v1h-4zM101 65h1v1h-1zM101 66h1v1h-1zM104 66h3v1h-3zM107 67h1v1h-1zM109 67h1v1h-1zM108 68h4v1h-4zM112 69h4v1h-4zM117 69h1v1h-1zM116 70h6v1h-6zM122 71h4v1h-4zM126 72h4v1h-4zM131 73h2v1h-2z"/>
<path fill="#00cbff" d="M26 3h2v1h-2zM30 3h1v1h-1zM33 3h1v1h-1zM35 3h2v1h-2zM38 3h1v1h-1zM22 4h1v1h-1zM24 4h1v1h-1zM28 4h1v1h-1zM31 4h1v1h-1zM33 4h2v1h-2zM30 10h3v1h-3zM34 10h1v1h-1zM29 11h1v1h-1zM31 11h1v1h-1zM33 16h1v1h-1zM35 16h1v1h-1zM29 18h1v1h-1zM31 18h1v1h-1zM31 19h1v1h-1zM37 19h1v1h-1zM38 20h1v1h-1zM37 23h1v1h-1zM34 25h1v1h-1zM35 28h2v1h-2zM40 29h1v1h-1zM40 30h1v1h-1zM35 31h1v1h-1zM39 31h2v1h-2zM37 32h1v1h-1zM41 32h1v1h-1zM44 40h1v1h-1zM45 42h1v1h-1zM45 44h1v1h-1zM47 44h1v1h-1zM49 44h1v1h-1zM49 45h1v1h-1zM52 45h2v1h-2zM51 46h3v1h-3zM56 46h1v1h-1zM60 47h1v1h-1zM61 48h1v1h-1zM65 48h2v1h-2zM73 51h1v1h-1zM76 53h1v1h-1zM76 54h3v1h-3zM78 55h2v1h-2zM82 55h1v1h-1zM81 56h1v1h-1zM82 57h2v1h-2zM84 58h3v1h-3zM88 58h1v1h-1zM88 59h1v1h-1zM87 60h1v1h-1zM89 60h2v1h-2zM93 61h2v1h-2zM94 62h2v1h-2zM98 62h1v1h-1zM96 63h1v1h-1zM98 63h3v1h-3zM101 64h3v1h-3zM102 65h6v1h-6zM107 66h1v1h-1zM108 67h1v1h-1zM110 67h3v1h-3zM112 68h5v1h-5zM116 69h1v1h-1zM118 69h5v1h-5zM122 70h2v1h-2zM126 71h3v1h-3zM130 72h3v1h-3z"/>
<path fill="#00d6ff" d="M24 1h1v1h-1zM30 1h1v1h-1zM32 1h2v1h-2zM28 2h1v1h-1zM33 2h1v1h-1zM35 2h1v1h-1zM37 2h1v1h-1zM32 8h1v1h-1zM28 9h1v1h-1zM35 9h1v1h-1zM33 13h2v1h-2zM36 16h1v1h-1zM36 19h1v1h-1zM35 20h3v1h-3zM37 21h1v1h-1zM35 22h1v1h-1zM36 23h1v1h-1zM38 23h2v1h-2zM35 24h1v1h-1zM36 26h1v1h-1zM38 26h1v1h-1zM37 30h1v1h-1zM38 31h1v1h-1zM40 34h1v1h-1zM42 34h1v1h-1zM41 35h2v1h-2zM43 36h1v1h-1zM43 38h1v1h-1zM43 39h1v1h-1zM46 42h2v1h-2zM46 43h1v1h-1zM48 44h1v1h-1zM50 44h1v1h-1zM54 45h1v1h-1zM64 48h1v1h-1zM67 48h1v1h-1zM69 48h1v1h-1zM71 49h1v1h-1zM73 50h1v1h-1zM74 52h3v1h-3zM77 53h1v1h-1zM80 54h2v1h-2zM80 55h2v1h-2zM82 56h1v1h-1zM84 56h1v1h-1zM84 57h5v1h-5zM87 58h1v1h-1zM89 58h1v1h-1zM89 59h4v1h-4zM93 60h4v1h-4zM95 61h4v1h-4zM96 62h2v1h-2zM99 62h1v1h-1zM101 63h5v1h-5zM104 64h4v1h-4zM108 65h3v1h-3zM108 66h6v1h-6zM113 67h5v1h-5zM117 68h4v1h-4zM123 69h2v1h-2zM124 70h5v1h-5zM129 71h3v1h-3z"/>
<path fill="#00e1ff" d="M21 0h1v1h-1zM32 0h1v1h-1zM33 6h2v1h-2zM36 6h1v1h-1zM28 7h3v1h-3zM37 14h1v1h-1zM36 15h1v1h-1zM35 17h1v1h-1zM37 17h1v1h-1zM35 18h1v1h-1zM36 21h1v1h-1zM39 21h1v1h-1zM36 22h1v1h-1zM38 22h1v1h-1zM36 24h1v1h-1zM38 25h2v1h-2zM41 27h1v1h-1zM41 31h1v1h-1zM40 32h1v1h-1zM42 32h1v1h-1zM42 33h1v1h-1zM43 35h1v1h-1zM42 36h1v1h-1zM43 37h1v1h-1zM44 39h1v1h-1zM45 40h1v1h-1zM45 41h1v1h-1zM47 43h2v1h-2zM51 44h1v1h-1zM53 44h1v1h-1zM51 45h1v1h-1zM56 45h2v1h-2zM57 46h2v1h-2zM61 47h2v1h-2zM65 47h1v1h-1zM68 48h1v1h-1zM70 48h2v1h-2zM74 51h2v1h-2zM77 52h3v1h-3zM78 53h3v1h-3zM79 54h1v1h-1zM82 54h1v1h-1zM83 55h3v1h-3zM83 56h1v1h-1zM85 56h2v1h-2zM88 56h1v1h-1zM89 57h2v1h-2zM90 58h5v1h-5zM93 59h2v1h-2zM96 59h1v1h-1zM97 60h2v1h-2zM99 61h3v1h-3zM100 62h5v1h-5zM106 62h1v1h-1zM106 63h1v1h-1zM108 64h3v1h-3zM111 65h3v1h-3zM114 66h2v1h-2zM118 67h3v1h-3zM121 68h5v1h-5zM125 69h3v1h-3zM129 69h1v1h-1zM129 70h3v1h-3zM132 71h1v1h-1z"/>
<path fill="#00ecff" d="M29 4h1v1h-1zM32 4h1v1h-1zM37 4h1v1h-1zM34 5h1v1h-1zM36 5h1v1h-1zM31 12h1v1h-1zM37 12h1v1h-1zM39 12h1v1h-1zM35 13h1v1h-1zM37 13h1v1h-1zM38 14h1v1h-1zM36 18h1v1h-1zM41 25h2v1h-2zM42 26h1v1h-1zM39 27h1v1h-1zM37 28h1v1h-1zM39 29h1v1h-1zM41 29h1v1h-1zM41 30h1v1h-1zM42 31h1v1h-1zM44 37h1v1h-1zM44 38h1v1h-1zM45 39h1v1h-1zM47 40h1v1h-1zM46 41h3v1h-3zM48 42h1v1h-1zM49 43h1v1h-1zM52 44h1v1h-1zM55 45h1v1h-1zM63 47h2v1h-2zM66 47h1v1h-1zM72 49h1v1h-1zM74 50h1v1h-1zM76 51h1v1h-1zM80 52h1v1h-1zM81 53h1v1h-1zM83 54h4v1h-4zM86 55h4v1h-4zM87 56h1v1h-1zM89 56h4v1h-4zM91 57h2v1h-2zM95 58h3v1h-3zM95 59h1v1h-1zM97 59h2v1h-2zM99 60h4v1h-4zM102 61h3v1h-3zM105 62h1v1h-1zM107 62h1v1h-1zM107 63h4v1h-4zM111 64h3v1h-3zM114 65h3v1h-3zM116 66h6v1h-6zM121 67h4v1h-4zM126 68h3v1h-3zM128 69h1v1h-1zM130 69h2v1h-2zM132 70h1v1h-1z"/>
<path fill="#00f6ff" d="M30 2h1v1h-1zM34 2h1v1h-1zM41 3h1v1h-1zM37 7h1v1h-1zM34 8h3v1h-3zM35 10h1v1h-1zM37 10h1v1h-1zM39 14h1v1h-1zM37 15h1v1h-1zM37 16h3v1h-3zM34 17h1v1h-1zM40 17h1v1h-1zM39 19h1v1h-1zM41 23h1v1h-1zM37 24h2v1h-2zM40 25h1v1h-1zM39 26h2v1h-2zM38 28h1v1h-1zM40 28h1v1h-1zM43 29h1v1h-1zM43 32h2v1h-2zM43 34h1v1h-1zM44 35h1v1h-1zM45 37h1v1h-1zM45 38h1v1h-1zM47 39h1v1h-1zM46 40h1v1h-1zM50 41h1v1h-1zM51 43h3v1h-3zM54 44h1v1h-1zM59 45h1v1h-1zM59 46h3v1h-3zM64 46h1v1h-1zM67 47h2v1h-2zM72 48h1v1h-1zM75 50h1v1h-1zM77 51h3v1h-3zM81 52h2v1h-2zM82 53h4v1h-4zM87 54h3v1h-3zM91 54h1v1h-1zM90 55h3v1h-3zM94 56h2v1h-2zM93 57h4v1h-4zM98 58h2v1h-2zM101 58h1v1h-1zM99 59h5v1h-5zM103 60h4v1h-4zM105 61h3v1h-3zM108 62h3v1h-3zM111 63h2v1h-2zM115 63h1v1h-1zM114 64h3v1h-3zM117 65h4v1h-4zM122 66h2v1h-2zM125 67h3v1h-3zM129 68h3v1h-3zM132 69h1v1h-1z"/>
<path fill="#00fffd" d="M31 1h1v1h-1zM35 1h3v1h-3zM38 5h1v1h-1zM35 6h1v1h-1zM37 6h1v1h-1zM33 9h1v1h-1zM36 10h1v1h-1zM36 11h2v1h-2zM35 12h1v1h-1zM38 13h2v1h-2zM38 17h2v1h-2zM33 18h1v1h-1zM38 19h1v1h-1zM40 19h1v1h-1zM43 19h1v1h-1zM39 20h1v1h-1zM38 21h1v1h-1zM45 21h1v1h-1zM39 22h1v1h-1zM42 22h1v1h-1zM39 24h1v1h-1zM40 27h1v1h-1zM39 28h1v1h-1zM42 29h1v1h-1zM42 30h3v1h-3zM43 31h1v1h-1zM46 31h1v1h-1zM44 33h1v1h-1zM46 33h1v1h-1zM44 34h1v1h-1zM44 36h1v1h-1zM46 37h3v1h-3zM49 38h1v1h-1zM46 39h1v1h-1zM48 39h1v1h-1zM51 40h1v1h-1zM49 42h3v1h-3zM55 42h1v1h-1zM50 43h1v1h-1zM54 43h1v1h-1zM58 43h1v1h-1zM55 44h2v1h-2zM58 44h1v1h-1zM58 45h1v1h-1zM60 45h2v1h-2zM62 46h2v1h-2zM65 46h1v1h-1zM68 46h1v1h-1zM69 47h5v1h-5zM73 49h4v1h-4zM78 49h1v1h-1zM76 50h3v1h-3zM80 51h5v1h-5zM83 52h3v1h-3zM87 52h1v1h-1zM86 53h3v1h-3zM90 54h1v1h-1zM93 55h1v1h-1zM93 56h1v1h-1zM96 56h3v1h-3zM97 57h4v1h-4zM100 58h1v1h-1zM102 58h2v1h-2zM104 59h2v1h-2zM107 60h1v1h-1zM108 61h3v1h-3zM111 62h2v1h-2zM113 63h2v1h-2zM116 63h2v1h-2zM117 64h3v1h-3zM121 64h1v1h-1zM121 65h4v1h-4zM124 66h3v1h-3zM128 66h1v1h-1zM128 67h3v1h-3zM132 68h1v1h-1z"/>
<path fill="#00fff2" d="M31 0h1v1h-1zM33 0h1v1h-1zM36 0h1v1h-1zM39 3h1v1h-1zM40 4h1v1h-1zM40 6h1v1h-1zM38 7h1v1h-1zM41 7h1v1h-1zM36 9h2v1h-2zM40 12h1v1h-1zM38 15h2v1h-2zM41 15h1v1h-1zM45 16h1v1h-1zM40 20h3v1h-3zM44 20h1v1h-1zM40 21h3v1h-3zM40 22h2v1h-2zM40 23h1v1h-1zM41 26h1v1h-1zM43 27h1v1h-1zM47 27h1v1h-1zM41 28h1v1h-1zM44 29h1v1h-1zM46 29h1v1h-1zM45 30h1v1h-1zM46 32h1v1h-1zM43 33h1v1h-1zM45 33h1v1h-1zM48 33h1v1h-1zM45 34h1v1h-1zM49 34h1v1h-1zM45 35h1v1h-1zM45 36h2v1h-2zM49 37h1v1h-1zM46 38h2v1h-2zM50 38h1v1h-1zM52 38h1v1h-1zM49 39h1v1h-1zM51 39h1v1h-1zM53 39h1v1h-1zM48 40h3v1h-3zM52 40h2v1h-2zM55 40h1v1h-1zM49 41h1v1h-1zM51 41h1v1h-1zM53 41h3v1h-3zM52 42h3v1h-3zM56 42h2v1h-2zM59 42h1v1h-1zM55 43h3v1h-3zM59 43h1v1h-1zM57 44h1v1h-1zM59 44h2v1h-2zM65 44h1v1h-1zM62 45h5v1h-5zM68 45h2v1h-2zM71 45h2v1h-2zM66 46h2v1h-2zM69 46h5v1h-5zM74 47h1v1h-1zM73 48h4v1h-4zM77 49h1v1h-1zM80 49h1v1h-1zM79 50h5v1h-5zM85 51h2v1h-2zM86 52h1v1h-1zM88 52h1v1h-1zM89 53h3v1h-3zM92 54h1v1h-1zM94 54h2v1h-2zM94 55h4v1h-4zM99 56h2v1h-2zM101 57h1v1h-1zM104 58h1v1h-1zM106 59h2v1h-2zM108 60h3v1h-3zM111 61h1v1h-1zM113 62h5v1h-5zM118 63h3v1h-3zM120 64h1v1h-1zM122 64h1v1h-1zM125 65h3v1h-3zM127 66h1v1h-1zM129 66h1v1h-1zM131 67h2v1h-2z"/>
<path fill="#00ffe7" d="M43 1h1v1h-1zM37 8h2v1h-2zM41 9h2v1h-2zM38 10h2v1h-2zM40 11h1v1h-1zM36 13h1v1h-1zM46 15h1v1h-1zM42 19h1v1h-1zM43 20h1v1h-1zM42 23h1v1h-1zM40 24h1v1h-1zM43 25h1v1h-1zM43 26h2v1h-2zM42 27h1v1h-1zM44 27h1v1h-1zM42 28h1v1h-1zM48 29h1v1h-1zM46 30h1v1h-1zM44 31h2v1h-2zM48 31h2v1h-2zM51 31h1v1h-1zM45 32h1v1h-1zM47 33h1v1h-1zM49 33h1v1h-1zM46 34h3v1h-3zM50 34h1v1h-1zM46 35h2v1h-2zM50 35h1v1h-1zM47 36h2v1h-2zM50 36h3v1h-3zM50 37h4v1h-4zM48 38h1v1h-1zM51 38h1v1h-1zM53 38h2v1h-2zM50 39h1v1h-1zM54 39h4v1h-4zM54 40h1v1h-1zM56 40h2v1h-2zM52 41h1v1h-1zM56 41h2v1h-2zM60 41h1v1h-1zM58 42h1v1h-1zM60 42h1v1h-1zM60 43h3v1h-3zM64 43h1v1h-1zM61 44h4v1h-4zM66 44h3v1h-3zM70 44h1v1h-1zM67 45h1v1h-1zM70 45h1v1h-1zM74 46h2v1h-2zM75 47h5v1h-5zM77 48h5v1h-5zM79 49h1v1h-1zM81 49h3v1h-3zM84 50h2v1h-2zM87 50h1v1h-1zM87 51h2v1h-2zM90 51h1v1h-1zM89 52h3v1h-3zM92 53h3v1h-3zM93 54h1v1h-1zM96 54h2v1h-2zM98 55h2v1h-2zM101 56h2v1h-2zM102 57h4v1h-4zM105 58h3v1h-3zM108 59h3v1h-3zM111 60h1v1h-1zM112 61h4v1h-4zM118 62h2v1h-2zM121 63h2v1h-2zM123 64h4v1h-4zM128 65h2v1h-2zM130 66h3v1h-3z"/>
<path fill="#00ffdc" d="M35 0h1v1h-1zM40 0h1v1h-1zM32 2h1v1h-1zM39 2h1v1h-1zM34 3h1v1h-1zM40 5h1v1h-1zM39 8h3v1h-3zM38 11h1v1h-1zM41 11h2v1h-2zM36 12h1v1h-1zM38 12h1v1h-1zM40 13h1v1h-1zM40 14h3v1h-3zM45 14h1v1h-1zM43 15h1v1h-1zM40 16h1v1h-1zM41 17h1v1h-1zM45 17h1v1h-1zM37 18h1v1h-1zM41 19h1v1h-1zM44 19h1v1h-1zM46 20h1v1h-1zM43 22h1v1h-1zM49 22h1v1h-1zM42 24h2v1h-2zM46 26h1v1h-1zM46 27h1v1h-1zM48 27h1v1h-1zM44 28h1v1h-1zM45 29h1v1h-1zM47 29h1v1h-1zM48 30h1v1h-1zM50 30h2v1h-2zM47 31h1v1h-1zM47 32h1v1h-1zM49 32h2v1h-2zM50 33h1v1h-1zM53 33h2v1h-2zM51 34h3v1h-3zM48 35h2v1h-2zM52 35h1v1h-1zM54 35h1v1h-1zM49 36h1v1h-1zM53 36h3v1h-3zM54 37h3v1h-3zM55 38h3v1h-3zM52 39h1v1h-1zM58 40h2v1h-2zM58 41h2v1h-2zM61 41h1v1h-1zM61 42h4v1h-4zM69 42h1v1h-1zM63 43h1v1h-1zM65 43h3v1h-3zM70 43h2v1h-2zM69 44h1v1h-1zM71 44h3v1h-3zM73 45h4v1h-4zM76 46h3v1h-3zM80 47h2v1h-2zM82 48h2v1h-2zM84 49h3v1h-3zM86 50h1v1h-1zM88 50h2v1h-2zM89 51h1v1h-1zM91 51h2v1h-2zM92 52h3v1h-3zM95 53h2v1h-2zM98 54h2v1h-2zM100 55h3v1h-3zM103 56h2v1h-2zM106 57h1v1h-1zM108 58h2v1h-2zM111 59h1v1h-1zM112 60h3v1h-3zM116 61h3v1h-3zM120 62h3v1h-3zM123 63h3v1h-3zM127 64h2v1h-2zM130 65h3v1h-3z"/>
<path fill="#00ffd2" d="M34 0h1v1h-1zM34 1h1v1h-1zM38 1h1v1h-1zM35 4h2v1h-2zM38 4h1v1h-1zM41 4h1v1h-1zM43 4h1v1h-1zM39 5h1v1h-1zM43 5h1v1h-1zM38 6h1v1h-1zM43 6h1v1h-1zM40 7h1v1h-1zM38 9h1v1h-1zM40 9h1v1h-1zM43 10h1v1h-1zM39 11h1v1h-1zM43 11h1v1h-1zM47 11h1v1h-1zM43 12h1v1h-1zM42 13h2v1h-2zM43 14h1v1h-1zM40 15h1v1h-1zM43 16h2v1h-2zM42 17h3v1h-3zM38 18h1v1h-1zM40 18h1v1h-1zM45 20h1v1h-1zM47 20h1v1h-1zM43 21h2v1h-2zM44 22h3v1h-3zM43 23h2v1h-2zM46 23h1v1h-1zM48 23h1v1h-1zM41 24h1v1h-1zM45 24h2v1h-2zM44 25h6v1h-6zM45 26h1v1h-1zM47 26h2v1h-2zM50 26h1v1h-1zM45 27h1v1h-1zM49 27h1v1h-1zM51 27h1v1h-1zM43 28h1v1h-1zM47 28h1v1h-1zM49 29h1v1h-1zM52 29h1v1h-1zM49 30h1v1h-1zM53 31h1v1h-1zM48 32h1v1h-1zM51 32h1v1h-1zM53 32h2v1h-2zM56 32h1v1h-1zM51 33h2v1h-2zM54 34h1v1h-1zM51 35h1v1h-1zM53 35h1v1h-1zM55 35h2v1h-2zM56 36h2v1h-2zM57 37h1v1h-1zM58 38h1v1h-1zM58 39h2v1h-2zM60 40h2v1h-2zM66 40h1v1h-1zM62 41h1v1h-1zM64 41h2v1h-2zM68 41h1v1h-1zM65 42h4v1h-4zM70 42h3v1h-3zM68 43h2v1h-2zM72 43h2v1h-2zM74 44h4v1h-4zM77 45h2v1h-2zM80 45h1v1h-1zM79 46h2v1h-2zM82 46h2v1h-2zM82 47h3v1h-3zM84 48h3v1h-3zM87 49h1v1h-1zM90 50h2v1h-2zM93 51h1v1h-1zM95 52h2v1h-2zM97 53h2v1h-2zM100 54h2v1h-2zM103 55h2v1h-2zM105 56h3v1h-3zM107 57h2v1h-2zM110 58h1v1h-1zM112 59h4v1h-4zM115 60h4v1h-4zM119 61h3v1h-3zM123 62h2v1h-2zM126 63h3v1h-3zM129 64h2v1h-2zM132 64h1v1h-1z"/>
<path fill="#00ffc7" d="M38 2h1v1h-1zM40 2h1v1h-1zM39 4h1v1h-1zM44 4h1v1h-1zM46 4h1v1h-1zM41 5h1v1h-1zM42 6h1v1h-1zM44 6h1v1h-1zM42 7h1v1h-1zM44 7h1v1h-1zM43 8h1v1h-1zM39 9h1v1h-1zM43 9h1v1h-1zM40 10h2v1h-2zM47 10h1v1h-1zM41 12h1v1h-1zM41 13h1v1h-1zM45 13h1v1h-1zM44 14h1v1h-1zM42 15h1v1h-1zM44 15h2v1h-2zM41 16h2v1h-2zM48 17h1v1h-1zM39 18h1v1h-1zM41 18h1v1h-1zM47 19h1v1h-1zM49 19h1v1h-1zM47 22h2v1h-2zM45 23h1v1h-1zM47 23h1v1h-1zM44 24h1v1h-1zM47 24h1v1h-1zM51 25h1v1h-1zM49 26h1v1h-1zM51 26h1v1h-1zM50 27h1v1h-1zM52 27h1v1h-1zM45 28h2v1h-2zM48 28h1v1h-1zM50 29h2v1h-2zM47 30h1v1h-1zM52 30h1v1h-1zM50 31h1v1h-1zM52 31h1v1h-1zM52 32h1v1h-1zM55 32h1v1h-1zM55 33h2v1h-2zM55 34h2v1h-2zM57 35h2v1h-2zM58 36h1v1h-1zM58 37h2v1h-2zM59 38h2v1h-2zM60 39h4v1h-4zM62 40h4v1h-4zM68 40h1v1h-1zM63 41h1v1h-1zM66 41h2v1h-2zM69 41h4v1h-4zM73 42h3v1h-3zM74 43h4v1h-4zM78 44h1v1h-1zM79 45h1v1h-1zM81 45h2v1h-2zM81 46h1v1h-1zM85 47h2v1h-2zM87 48h3v1h-3zM88 49h4v1h-4zM92 50h3v1h-3zM94 51h3v1h-3zM97 52h2v1h-2zM99 53h2v1h-2zM102 54h2v1h-2zM105 55h2v1h-2zM108 56h1v1h-1zM109 57h3v1h-3zM111 58h3v1h-3zM116 59h1v1h-1zM119 60h2v1h-2zM122 61h3v1h-3zM125 62h3v1h-3zM129 63h2v1h-2zM131 64h1v1h-1z"/>
<path fill="#00ffbc" d="M37 0h2v1h-2zM41 1h1v1h-1zM44 1h1v1h-1zM36 2h1v1h-1zM41 2h1v1h-1zM46 5h1v1h-1zM39 6h1v1h-1zM46 6h1v1h-1zM39 7h1v1h-1zM46 7h1v1h-1zM42 8h1v1h-1zM42 10h1v1h-1zM44 10h1v1h-1zM46 10h1v1h-1zM44 11h1v1h-1zM42 12h1v1h-1zM44 12h3v1h-3zM46 14h2v1h-2zM48 15h2v1h-2zM48 16h1v1h-1zM46 17h1v1h-1zM42 18h1v1h-1zM45 19h2v1h-2zM46 21h3v1h-3zM50 22h1v1h-1zM49 23h3v1h-3zM50 25h1v1h-1zM53 26h1v1h-1zM49 28h4v1h-4zM54 28h1v1h-1zM53 29h2v1h-2zM53 30h4v1h-4zM54 31h2v1h-2zM57 32h1v1h-1zM57 33h1v1h-1zM57 34h2v1h-2zM59 35h1v1h-1zM60 37h2v1h-2zM61 38h1v1h-1zM64 38h1v1h-1zM64 39h2v1h-2zM68 39h3v1h-3zM67 40h1v1h-1zM69 40h5v1h-5zM73 41h4v1h-4zM76 42h3v1h-3zM80 42h1v1h-1zM78 43h3v1h-3zM79 44h3v1h-3zM83 45h1v1h-1zM84 46h3v1h-3zM87 47h3v1h-3zM90 48h2v1h-2zM92 49h2v1h-2zM95 49h1v1h-1zM95 50h2v1h-2zM97 51h2v1h-2zM99 52h2v1h-2zM101 53h3v1h-3zM104 54h2v1h-2zM107 55h2v1h-2zM109 56h2v1h-2zM112 57h2v1h-2zM114 58h3v1h-3zM117 59h4v1h-4zM121 60h2v1h-2zM125 61h2v1h-2zM128 62h2v1h-2zM131 63h2v1h-2z"/>
<path fill="#00ffb1" d="M43 0h1v1h-1zM40 1h1v1h-1zM42 2h1v1h-1zM37 3h1v1h-1zM40 3h1v1h-1zM42 3h1v1h-1zM45 4h1v1h-1zM42 5h1v1h-1zM44 5h2v1h-2zM47 5h1v1h-1zM45 6h1v1h-1zM47 6h1v1h-1zM43 7h1v1h-1zM45 9h1v1h-1zM45 10h1v1h-1zM46 11h1v1h-1zM47 12h2v1h-2zM44 13h1v1h-1zM46 13h3v1h-3zM48 14h1v1h-1zM47 15h1v1h-1zM46 16h2v1h-2zM49 16h1v1h-1zM49 17h1v1h-1zM43 18h1v1h-1zM48 19h1v1h-1zM51 19h1v1h-1zM48 20h3v1h-3zM49 21h2v1h-2zM52 23h1v1h-1zM48 24h1v1h-1zM52 24h1v1h-1zM52 25h1v1h-1zM54 25h1v1h-1zM52 26h1v1h-1zM54 26h1v1h-1zM53 27h1v1h-1zM56 28h1v1h-1zM55 29h2v1h-2zM57 30h1v1h-1zM58 33h2v1h-2zM59 34h1v1h-1zM60 35h1v1h-1zM59 36h4v1h-4zM62 37h2v1h-2zM65 37h1v1h-1zM68 37h1v1h-1zM62 38h2v1h-2zM66 38h5v1h-5zM74 38h1v1h-1zM66 39h2v1h-2zM71 39h4v1h-4zM76 39h1v1h-1zM74 40h3v1h-3zM77 41h1v1h-1zM79 42h1v1h-1zM81 43h2v1h-2zM82 44h3v1h-3zM84 45h3v1h-3zM87 46h2v1h-2zM90 47h1v1h-1zM92 48h2v1h-2zM94 49h1v1h-1zM97 50h2v1h-2zM99 51h1v1h-1zM101 52h2v1h-2zM104 53h2v1h-2zM106 54h2v1h-2zM109 55h2v1h-2zM111 56h2v1h-2zM114 57h2v1h-2zM117 58h3v1h-3zM121 59h2v1h-2zM123 60h3v1h-3zM127 61h3v1h-3zM130 62h3v1h-3z"/>
<path fill="#00ffa7" d="M41 0h2v1h-2zM39 1h1v1h-1zM43 2h3v1h-3zM47 2h1v1h-1zM43 3h1v1h-1zM45 3h1v1h-1zM45 7h1v1h-1zM48 7h1v1h-1zM44 8h5v1h-5zM44 9h1v1h-1zM47 9h1v1h-1zM48 10h1v1h-1zM45 11h1v1h-1zM50 11h1v1h-1zM49 14h2v1h-2zM52 16h1v1h-1zM47 17h1v1h-1zM50 17h2v1h-2zM44 18h1v1h-1zM50 19h1v1h-1zM52 19h1v1h-1zM51 20h1v1h-1zM51 21h2v1h-2zM51 22h2v1h-2zM53 23h2v1h-2zM49 24h2v1h-2zM53 25h1v1h-1zM55 25h1v1h-1zM54 27h3v1h-3zM53 28h1v1h-1zM56 31h3v1h-3zM58 32h2v1h-2zM60 34h1v1h-1zM61 35h2v1h-2zM63 36h2v1h-2zM66 36h1v1h-1zM64 37h1v1h-1zM66 37h2v1h-2zM69 37h1v1h-1zM71 37h1v1h-1zM65 38h1v1h-1zM71 38h3v1h-3zM75 38h1v1h-1zM75 39h1v1h-1zM77 40h3v1h-3zM78 41h3v1h-3zM81 42h3v1h-3zM83 43h2v1h-2zM85 44h2v1h-2zM87 45h2v1h-2zM89 46h2v1h-2zM91 47h2v1h-2zM94 48h2v1h-2zM96 49h2v1h-2zM99 50h2v1h-2zM100 51h3v1h-3zM103 52h2v1h-2zM106 53h2v1h-2zM108 54h3v1h-3zM111 55h1v1h-1zM113 56h3v1h-3zM116 57h4v1h-4zM120 58h3v1h-3zM123 59h3v1h-3zM126 60h3v1h-3zM130 61h2v1h-2z"/>
<path fill="#00ff9c" d="M39 0h1v1h-1zM44 0h1v1h-1zM48 0h1v1h-1zM42 1h1v1h-1zM45 1h2v1h-2zM48 2h1v1h-1zM48 3h1v1h-1zM47 4h1v1h-1zM50 5h1v1h-1zM41 6h1v1h-1zM48 6h2v1h-2zM47 7h1v1h-1zM46 9h1v1h-1zM48 9h1v1h-1zM49 10h1v1h-1zM51 10h1v1h-1zM49 13h1v1h-1zM50 16h1v1h-1zM52 17h2v1h-2zM45 18h2v1h-2zM53 19h1v1h-1zM52 20h2v1h-2zM54 21h1v1h-1zM53 22h3v1h-3zM56 23h1v1h-1zM51 24h1v1h-1zM53 24h2v1h-2zM57 25h1v1h-1zM55 26h2v1h-2zM57 27h1v1h-1zM55 28h1v1h-1zM57 29h1v1h-1zM58 30h2v1h-2zM61 32h1v1h-1zM60 33h2v1h-2zM61 34h1v1h-1zM65 34h1v1h-1zM63 35h1v1h-1zM65 35h2v1h-2zM69 35h1v1h-1zM65 36h1v1h-1zM67 36h7v1h-7zM70 37h1v1h-1zM72 37h5v1h-5zM76 38h1v1h-1zM77 39h3v1h-3zM80 40h2v1h-2zM81 41h3v1h-3zM85 43h2v1h-2zM87 44h2v1h-2zM89 45h2v1h-2zM91 46h3v1h-3zM93 47h3v1h-3zM96 48h2v1h-2zM98 49h2v1h-2zM101 50h1v1h-1zM103 51h2v1h-2zM105 52h3v1h-3zM108 53h2v1h-2zM111 54h1v1h-1zM112 55h4v1h-4zM116 56h2v1h-2zM120 57h2v1h-2zM123 58h2v1h-2zM126 59h2v1h-2zM129 60h3v1h-3zM132 61h1v1h-1z"/>
<path fill="#00ff91" d="M46 0h1v1h-1zM48 1h1v1h-1zM44 3h1v1h-1zM46 3h1v1h-1zM42 4h1v1h-1zM49 8h1v1h-1zM51 8h2v1h-2zM50 10h1v1h-1zM48 11h1v1h-1zM49 12h1v1h-1zM50 13h2v1h-2zM51 14h2v1h-2zM50 15h1v1h-1zM52 15h2v1h-2zM51 16h1v1h-1zM47 18h2v1h-2zM54 19h1v1h-1zM54 20h1v1h-1zM53 21h1v1h-1zM55 21h1v1h-1zM55 23h1v1h-1zM55 24h1v1h-1zM56 25h1v1h-1zM58 27h1v1h-1zM57 28h2v1h-2zM58 29h2v1h-2zM59 31h2v1h-2zM60 32h1v1h-1zM62 33h1v1h-1zM62 34h1v1h-1zM68 34h1v1h-1zM64 35h1v1h-1zM67 35h2v1h-2zM70 35h1v1h-1zM72 35h3v1h-3zM74 36h2v1h-2zM77 37h2v1h-2zM77 38h3v1h-3zM80 39h3v1h-3zM82 40h1v1h-1zM84 41h1v1h-1zM84 42h3v1h-3zM87 43h2v1h-2zM89 44h2v1h-2zM91 45h2v1h-2zM94 46h1v1h-1zM96 47h1v1h-1zM98 48h2v1h-2zM100 49h3v1h-3zM102 50h2v1h-2zM105 51h2v1h-2zM108 52h2v1h-2zM110 53h2v1h-2zM112 54h3v1h-3zM116 55h2v1h-2zM118 56h3v1h-3zM122 57h2v1h-2zM125 58h3v1h-3zM128 59h4v1h-4zM132 60h1v1h-1z"/>
<path fill="#00ff86" d="M45 0h1v1h-1zM47 0h1v1h-1zM46 2h1v1h-1zM49 2h1v1h-1zM49 4h1v1h-1zM48 5h1v1h-1zM49 9h4v1h-4zM49 11h1v1h-1zM51 11h1v1h-1zM50 12h3v1h-3zM52 13h1v1h-1zM53 14h1v1h-1zM51 15h1v1h-1zM53 16h1v1h-1zM54 17h1v1h-1zM49 18h1v1h-1zM55 19h1v1h-1zM55 20h2v1h-2zM56 22h1v1h-1zM56 24h2v1h-2zM58 25h1v1h-1zM57 26h2v1h-2zM60 30h1v1h-1zM62 32h1v1h-1zM63 33h2v1h-2zM66 33h1v1h-1zM68 33h3v1h-3zM72 33h1v1h-1zM63 34h2v1h-2zM66 34h2v1h-2zM69 34h5v1h-5zM71 35h1v1h-1zM75 35h3v1h-3zM76 36h2v1h-2zM79 37h1v1h-1zM80 38h2v1h-2zM83 39h1v1h-1zM83 40h2v1h-2zM85 41h2v1h-2zM87 42h3v1h-3zM89 43h2v1h-2zM91 44h2v1h-2zM93 45h3v1h-3zM95 46h2v1h-2zM97 47h2v1h-2zM100 48h2v1h-2zM103 49h1v1h-1zM104 50h2v1h-2zM107 51h2v1h-2zM110 52h2v1h-2zM112 53h3v1h-3zM115 54h3v1h-3zM118 55h2v1h-2zM121 56h2v1h-2zM124 57h3v1h-3zM128 58h2v1h-2zM132 59h1v1h-1z"/>
<path fill="#00ff7c" d="M49 1h1v1h-1zM47 3h1v1h-1zM49 3h1v1h-1zM51 4h1v1h-1zM49 5h1v1h-1zM50 6h1v1h-1zM49 7h1v1h-1zM51 7h1v1h-1zM50 8h1v1h-1zM52 11h1v1h-1zM54 14h2v1h-2zM54 15h1v1h-1zM54 16h2v1h-2zM55 17h2v1h-2zM50 18h1v1h-1zM56 19h1v1h-1zM56 21h2v1h-2zM57 22h1v1h-1zM57 23h2v1h-2zM59 27h1v1h-1zM59 28h2v1h-2zM60 29h1v1h-1zM61 30h3v1h-3zM68 30h1v1h-1zM61 31h6v1h-6zM63 32h8v1h-8zM72 32h1v1h-1zM74 32h1v1h-1zM65 33h1v1h-1zM67 33h1v1h-1zM71 33h1v1h-1zM73 33h1v1h-1zM75 33h2v1h-2zM74 34h4v1h-4zM78 35h2v1h-2zM78 36h3v1h-3zM80 37h3v1h-3zM82 38h2v1h-2zM84 39h2v1h-2zM85 40h2v1h-2zM87 41h2v1h-2zM90 42h1v1h-1zM91 43h3v1h-3zM93 44h2v1h-2zM96 45h2v1h-2zM97 46h2v1h-2zM99 47h2v1h-2zM102 48h2v1h-2zM104 49h2v1h-2zM106 50h3v1h-3zM109 51h2v1h-2zM112 52h2v1h-2zM115 53h2v1h-2zM118 54h2v1h-2zM120 55h3v1h-3zM123 56h3v1h-3zM127 57h3v1h-3zM130 58h3v1h-3z"/>
<path fill="#00ff71" d="M49 0h2v1h-2zM47 1h1v1h-1zM48 4h1v1h-1zM50 7h1v1h-1zM52 7h1v1h-1zM52 10h1v1h-1zM54 11h1v1h-1zM53 12h1v1h-1zM53 13h3v1h-3zM55 15h1v1h-1zM51 18h2v1h-2zM58 20h1v1h-1zM58 21h1v1h-1zM58 22h1v1h-1zM59 23h1v1h-1zM58 24h1v1h-1zM59 25h2v1h-2zM59 26h2v1h-2zM60 27h1v1h-1zM62 27h2v1h-2zM61 28h1v1h-1zM63 28h1v1h-1zM66 28h1v1h-1zM61 29h6v1h-6zM68 29h2v1h-2zM64 30h4v1h-4zM69 30h3v1h-3zM73 30h1v1h-1zM67 31h6v1h-6zM74 31h1v1h-1zM71 32h1v1h-1zM73 32h1v1h-1zM75 32h2v1h-2zM74 33h1v1h-1zM77 33h1v1h-1zM78 34h2v1h-2zM80 35h2v1h-2zM81 36h3v1h-3zM83 37h2v1h-2zM84 38h2v1h-2zM86 39h1v1h-1zM87 40h3v1h-3zM89 41h3v1h-3zM91 42h2v1h-2zM94 43h2v1h-2zM95 44h2v1h-2zM98 45h1v1h-1zM99 46h2v1h-2zM101 47h3v1h-3zM104 48h3v1h-3zM106 49h3v1h-3zM109 50h2v1h-2zM111 51h3v1h-3zM114 52h2v1h-2zM117 53h3v1h-3zM120 54h3v1h-3zM123 55h3v1h-3zM126 56h3v1h-3zM130 57h3v1h-3z"/>
<path fill="#00ff66" d="M50 2h1v1h-1zM51 3h1v1h-1zM52 4h1v1h-1zM51 5h2v1h-2zM51 6h2v1h-2zM53 9h2v1h-2zM53 10h1v1h-1zM53 11h1v1h-1zM54 12h1v1h-1zM56 14h1v1h-1zM56 15h1v1h-1zM56 16h2v1h-2zM57 17h1v1h-1zM53 18h1v1h-1zM57 19h1v1h-1zM59 19h1v1h-1zM57 20h1v1h-1zM59 21h1v1h-1zM60 23h1v1h-1zM59 24h2v1h-2zM61 25h2v1h-2zM61 26h4v1h-4zM67 26h1v1h-1zM61 27h1v1h-1zM66 27h3v1h-3zM62 28h1v1h-1zM64 28h2v1h-2zM67 28h4v1h-4zM72 28h1v1h-1zM67 29h1v1h-1zM70 29h3v1h-3zM74 29h1v1h-1zM72 30h1v1h-1zM74 30h2v1h-2zM73 31h1v1h-1zM75 31h3v1h-3zM77 32h2v1h-2zM78 33h2v1h-2zM80 34h2v1h-2zM82 35h1v1h-1zM84 36h1v1h-1zM85 37h1v1h-1zM86 38h2v1h-2zM87 39h3v1h-3zM90 40h2v1h-2zM92 41h2v1h-2zM93 42h3v1h-3zM96 43h1v1h-1zM97 44h2v1h-2zM99 45h2v1h-2zM101 46h3v1h-3zM104 47h2v1h-2zM107 48h2v1h-2zM109 49h2v1h-2zM111 50h2v1h-2zM114 51h3v1h-3zM116 52h4v1h-4zM120 53h2v1h-2zM123 54h2v1h-2zM126 55h3v1h-3zM129 56h4v1h-4z"/>
<path fill="#00ff5b" d="M50 1h1v1h-1zM51 2h1v1h-1zM50 3h1v1h-1zM50 4h1v1h-1zM53 7h1v1h-1zM53 8h2v1h-2zM55 9h1v1h-1zM54 10h3v1h-3zM55 11h2v1h-2zM55 12h2v1h-2zM56 13h2v1h-2zM57 14h1v1h-1zM57 15h1v1h-1zM58 16h1v1h-1zM58 17h1v1h-1zM58 19h1v1h-1zM59 20h2v1h-2zM62 21h1v1h-1zM59 22h3v1h-3zM61 23h3v1h-3zM61 24h3v1h-3zM63 25h5v1h-5zM65 26h2v1h-2zM68 26h2v1h-2zM64 27h2v1h-2zM69 27h4v1h-4zM71 28h1v1h-1zM73 28h3v1h-3zM73 29h1v1h-1zM75 29h3v1h-3zM76 30h2v1h-2zM78 31h2v1h-2zM79 32h3v1h-3zM80 33h2v1h-2zM82 34h2v1h-2zM83 35h2v1h-2zM85 36h1v1h-1zM86 37h3v1h-3zM88 38h2v1h-2zM90 39h2v1h-2zM92 40h2v1h-2zM94 41h2v1h-2zM96 42h2v1h-2zM97 43h2v1h-2zM99 44h2v1h-2zM101 45h3v1h-3zM104 46h2v1h-2zM106 47h3v1h-3zM109 48h2v1h-2zM111 49h3v1h-3zM113 50h3v1h-3zM117 51h2v1h-2zM120 52h2v1h-2zM122 53h3v1h-3zM125 54h3v1h-3zM129 55h3v1h-3z"/>
<path fill="#00ff51" d="M51 0h1v1h-1zM51 1h1v1h-1zM53 1h1v1h-1zM52 3h2v1h-2zM53 5h1v1h-1zM53 6h1v1h-1zM55 6h1v1h-1zM54 7h2v1h-2zM55 8h1v1h-1zM57 10h1v1h-1zM57 11h1v1h-1zM57 12h1v1h-1zM58 14h1v1h-1zM58 15h1v1h-1zM59 16h1v1h-1zM59 17h1v1h-1zM54 18h2v1h-2zM60 19h1v1h-1zM61 20h1v1h-1zM64 20h1v1h-1zM60 21h2v1h-2zM63 21h3v1h-3zM62 22h3v1h-3zM67 22h2v1h-2zM64 23h3v1h-3zM68 23h1v1h-1zM64 24h7v1h-7zM68 25h4v1h-4zM73 25h1v1h-1zM70 26h5v1h-5zM73 27h3v1h-3zM76 28h1v1h-1zM78 29h1v1h-1zM78 30h2v1h-2zM80 31h2v1h-2zM82 32h1v1h-1zM82 33h2v1h-2zM84 34h1v1h-1zM85 35h2v1h-2zM86 36h3v1h-3zM89 37h2v1h-2zM90 38h2v1h-2zM92 39h2v1h-2zM94 40h2v1h-2zM96 41h1v1h-1zM98 42h1v1h-1zM99 43h3v1h-3zM101 44h3v1h-3zM104 45h2v1h-2zM106 46h2v1h-2zM109 47h2v1h-2zM111 48h1v1h-1zM114 49h2v1h-2zM116 50h3v1h-3zM119 51h3v1h-3zM122 52h3v1h-3zM125 53h2v1h-2zM128 54h3v1h-3zM132 55h1v1h-1z"/>
<path fill="#00ff46" d="M52 0h2v1h-2zM52 1h1v1h-1zM52 2h2v1h-2zM53 4h2v1h-2zM54 5h1v1h-1zM54 6h1v1h-1zM57 6h1v1h-1zM56 7h1v1h-1zM56 8h2v1h-2zM56 9h2v1h-2zM58 13h2v1h-2zM59 14h1v1h-1zM59 15h2v1h-2zM60 16h1v1h-1zM60 17h1v1h-1zM56 18h1v1h-1zM61 19h4v1h-4zM66 19h1v1h-1zM62 20h2v1h-2zM65 20h1v1h-1zM66 21h2v1h-2zM69 21h1v1h-1zM65 22h2v1h-2zM69 22h1v1h-1zM67 23h1v1h-1zM69 23h3v1h-3zM71 24h3v1h-3zM72 25h1v1h-1zM74 25h2v1h-2zM75 26h1v1h-1zM76 27h2v1h-2zM77 28h3v1h-3zM79 29h2v1h-2zM80 30h2v1h-2zM82 31h1v1h-1zM83 32h2v1h-2zM84 33h2v1h-2zM85 34h3v1h-3zM87 35h2v1h-2zM89 36h1v1h-1zM91 37h1v1h-1zM92 38h2v1h-2zM94 39h1v1h-1zM96 40h1v1h-1zM97 41h2v1h-2zM99 42h2v1h-2zM102 43h2v1h-2zM104 44h2v1h-2zM106 45h3v1h-3zM108 46h3v1h-3zM111 47h2v1h-2zM112 48h4v1h-4zM116 49h3v1h-3zM119 50h3v1h-3zM122 51h3v1h-3zM125 52h3v1h-3zM127 53h4v1h-4zM131 54h2v1h-2z"/>
<path fill="#00ff3b" d="M54 0h1v1h-1zM54 1h1v1h-1zM54 2h2v1h-2zM54 3h2v1h-2zM57 3h1v1h-1zM55 4h1v1h-1zM55 5h3v1h-3zM56 6h1v1h-1zM57 7h1v1h-1zM59 8h1v1h-1zM58 9h2v1h-2zM58 10h1v1h-1zM58 11h2v1h-2zM58 12h3v1h-3zM60 13h1v1h-1zM60 14h1v1h-1zM61 15h1v1h-1zM61 16h2v1h-2zM61 17h3v1h-3zM65 17h1v1h-1zM57 18h2v1h-2zM65 19h1v1h-1zM67 19h1v1h-1zM66 20h4v1h-4zM68 21h1v1h-1zM70 21h1v1h-1zM70 22h4v1h-4zM72 23h3v1h-3zM74 24h2v1h-2zM76 25h2v1h-2zM76 26h3v1h-3zM78 27h2v1h-2zM80 28h1v1h-1zM81 29h2v1h-2zM82 30h1v1h-1zM83 31h2v1h-2zM85 32h1v1h-1zM86 33h1v1h-1zM88 34h1v1h-1zM89 35h2v1h-2zM90 36h3v1h-3zM92 37h2v1h-2zM94 38h2v1h-2zM95 39h3v1h-3zM97 40h3v1h-3zM99 41h2v1h-2zM101 42h2v1h-2zM104 43h2v1h-2zM106 44h2v1h-2zM109 45h2v1h-2zM111 46h2v1h-2zM113 47h3v1h-3zM116 48h2v1h-2zM119 49h2v1h-2zM122 50h2v1h-2zM125 51h2v1h-2zM128 52h2v1h-2zM131 53h2v1h-2z"/>
<path fill="#00ff30" d="M55 0h1v1h-1zM55 1h1v1h-1zM56 2h1v1h-1zM56 4h2v1h-2zM58 6h1v1h-1zM58 7h1v1h-1zM58 8h1v1h-1zM60 10h1v1h-1zM60 11h1v1h-1zM61 12h1v1h-1zM61 13h2v1h-2zM61 14h3v1h-3zM62 15h2v1h-2zM65 15h1v1h-1zM63 16h5v1h-5zM64 17h1v1h-1zM66 17h2v1h-2zM68 19h4v1h-4zM70 20h4v1h-4zM71 21h3v1h-3zM74 22h2v1h-2zM75 23h2v1h-2zM76 24h2v1h-2zM78 25h1v1h-1zM79 26h1v1h-1zM80 27h2v1h-2zM81 28h2v1h-2zM83 29h1v1h-1zM83 30h2v1h-2zM85 31h1v1h-1zM86 32h1v1h-1zM87 33h3v1h-3zM89 34h2v1h-2zM91 35h2v1h-2zM93 36h1v1h-1zM94 37h2v1h-2zM96 38h2v1h-2zM98 39h1v1h-1zM100 40h2v1h-2zM101 41h3v1h-3zM103 42h3v1h-3zM106 43h2v1h-2zM108 44h2v1h-2zM111 45h2v1h-2zM113 46h2v1h-2zM116 47h2v1h-2zM118 48h3v1h-3zM121 49h3v1h-3zM124 50h3v1h-3zM127 51h3v1h-3zM130 52h3v1h-3z"/>
<path fill="#00ff26" d="M56 0h1v1h-1zM56 1h2v1h-2zM56 3h1v1h-1zM59 3h1v1h-1zM58 5h2v1h-2zM59 7h2v1h-2zM60 8h1v1h-1zM59 10h1v1h-1zM61 10h1v1h-1zM61 11h1v1h-1zM63 11h1v1h-1zM62 12h1v1h-1zM65 12h1v1h-1zM63 13h4v1h-4zM64 14h3v1h-3zM64 15h1v1h-1zM66 15h3v1h-3zM68 16h2v1h-2zM68 17h3v1h-3zM59 18h1v1h-1zM72 19h3v1h-3zM74 20h1v1h-1zM74 21h3v1h-3zM76 22h1v1h-1zM77 23h2v1h-2zM78 24h2v1h-2zM79 25h2v1h-2zM80 26h2v1h-2zM82 27h1v1h-1zM83 28h1v1h-1zM84 29h1v1h-1zM85 30h2v1h-2zM86 31h2v1h-2zM87 32h3v1h-3zM90 33h1v1h-1zM91 34h2v1h-2zM93 35h1v1h-1zM94 36h2v1h-2zM96 37h2v1h-2zM98 38h2v1h-2zM99 39h2v1h-2zM102 40h2v1h-2zM104 41h2v1h-2zM106 42h2v1h-2zM108 43h2v1h-2zM110 44h3v1h-3zM113 45h2v1h-2zM115 46h3v1h-3zM118 47h3v1h-3zM121 48h3v1h-3zM124 49h3v1h-3zM127 50h3v1h-3zM130 51h2v1h-2z"/>
<path fill="#00ff1b" d="M57 0h1v1h-1zM57 2h2v1h-2zM58 3h1v1h-1zM58 4h1v1h-1zM60 4h1v1h-1zM59 6h2v1h-2zM61 7h1v1h-1zM61 8h1v1h-1zM63 8h1v1h-1zM60 9h4v1h-4zM62 10h1v1h-1zM64 10h1v1h-1zM62 11h1v1h-1zM64 11h2v1h-2zM63 12h2v1h-2zM66 12h2v1h-2zM67 13h2v1h-2zM67 14h2v1h-2zM69 15h2v1h-2zM70 16h2v1h-2zM71 17h3v1h-3zM60 18h2v1h-2zM75 19h1v1h-1zM75 20h2v1h-2zM77 21h1v1h-1zM77 22h3v1h-3zM79 23h2v1h-2zM80 24h2v1h-2zM81 25h2v1h-2zM82 26h1v1h-1zM83 27h1v1h-1zM84 28h2v1h-2zM85 29h2v1h-2zM87 30h2v1h-2zM88 31h2v1h-2zM90 32h2v1h-2zM91 33h2v1h-2zM93 34h2v1h-2zM94 35h3v1h-3zM96 36h2v1h-2zM98 37h1v1h-1zM100 38h2v1h-2zM101 39h2v1h-2zM104 40h2v1h-2zM106 41h2v1h-2zM108 42h2v1h-2zM110 43h2v1h-2zM113 44h2v1h-2zM115 45h2v1h-2zM118 46h2v1h-2zM121 47h2v1h-2zM124 48h2v1h-2zM127 49h2v1h-2zM130 50h2v1h-2zM132 51h1v1h-1z"/>
<path fill="#00ff10" d="M58 0h1v1h-1zM58 1h3v1h-3zM59 2h2v1h-2zM59 4h1v1h-1zM60 5h2v1h-2zM61 6h2v1h-2zM62 7h1v1h-1zM62 8h1v1h-1zM64 8h2v1h-2zM64 9h4v1h-4zM63 10h1v1h-1zM65 10h1v1h-1zM67 10h1v1h-1zM66 11h3v1h-3zM68 12h2v1h-2zM69 13h1v1h-1zM69 14h3v1h-3zM71 15h3v1h-3zM72 16h2v1h-2zM74 17h2v1h-2zM62 18h3v1h-3zM76 19h2v1h-2zM77 20h1v1h-1zM78 21h1v1h-1zM81 23h1v1h-1zM82 24h1v1h-1zM83 25h1v1h-1zM83 26h2v1h-2zM84 27h2v1h-2zM86 28h1v1h-1zM87 29h1v1h-1zM89 30h1v1h-1zM90 31h1v1h-1zM92 32h1v1h-1zM93 33h2v1h-2zM95 34h1v1h-1zM97 35h1v1h-1zM98 36h1v1h-1zM99 37h2v1h-2zM102 38h1v1h-1zM103 39h3v1h-3zM106 40h2v1h-2zM108 41h2v1h-2zM110 42h2v1h-2zM112 43h3v1h-3zM115 44h3v1h-3zM117 45h3v1h-3zM120 46h3v1h-3zM123 47h3v1h-3zM126 48h3v1h-3zM129 49h3v1h-3zM132 50h1v1h-1z"/>
<path fill="#00ff05" d="M59 0h1v1h-1zM61 2h1v1h-1zM60 3h2v1h-2zM61 4h1v1h-1zM62 5h2v1h-2zM63 6h2v1h-2zM63 7h4v1h-4zM66 8h2v1h-2zM68 9h1v1h-1zM66 10h1v1h-1zM68 10h3v1h-3zM69 11h2v1h-2zM70 12h3v1h-3zM70 13h4v1h-4zM72 14h3v1h-3zM74 15h1v1h-1zM74 16h1v1h-1zM65 18h3v1h-3zM78 19h1v1h-1zM78 20h2v1h-2zM79 21h2v1h-2zM80 22h2v1h-2zM82 23h1v1h-1zM83 24h1v1h-1zM84 25h1v1h-1zM85 26h1v1h-1zM86 27h2v1h-2zM87 28h2v1h-2zM88 29h2v1h-2zM90 30h2v1h-2zM91 31h2v1h-2zM93 32h2v1h-2zM95 33h1v1h-1zM96 34h2v1h-2zM98 35h2v1h-2zM99 36h2v1h-2zM101 37h3v1h-3zM103 38h3v1h-3zM106 39h2v1h-2zM108 40h2v1h-2zM110 41h2v1h-2zM112 42h3v1h-3zM115 43h2v1h-2zM118 44h2v1h-2zM120 45h3v1h-3zM123 46h3v1h-3zM126 47h3v1h-3zM129 48h2v1h-2zM132 49h1v1h-1z"/>
<path fill="#05ff00" d="M60 0h2v1h-2zM61 1h1v1h-1zM62 2h1v1h-1zM62 3h1v1h-1zM62 4h3v1h-3zM67 4h1v1h-1zM64 5h3v1h-3zM65 6h4v1h-4zM67 7h2v1h-2zM68 8h2v1h-2zM69 9h2v1h-2zM71 10h1v1h-1zM71 11h1v1h-1zM73 12h1v1h-1zM74 13h1v1h-1zM75 14h1v1h-1zM75 15h2v1h-2zM75 16h3v1h-3zM76 17h4v1h-4zM68 18h4v1h-4zM79 19h1v1h-1zM80 20h2v1h-2zM81 21h2v1h-2zM82 22h2v1h-2zM83 23h2v1h-2zM84 24h2v1h-2zM85 25h2v1h-2zM86 26h3v1h-3zM88 27h2v1h-2zM89 28h2v1h-2zM90 29h3v1h-3zM92 30h2v1h-2zM93 31h4v1h-4zM95 32h2v1h-2zM96 33h3v1h-3zM98 34h3v1h-3zM100 35h3v1h-3zM101 36h4v1h-4zM104 37h3v1h-3zM106 38h3v1h-3zM108 39h3v1h-3zM110 40h3v1h-3zM112 41h4v1h-4zM115 42h4v1h-4zM117 43h4v1h-4zM120 44h4v1h-4zM123 45h3v1h-3zM126 46h3v1h-3zM129 47h3v1h-3zM131 48h2v1h-2z"/>
<path fill="#10ff00" d="M63 1h1v1h-1zM65 1h1v1h-1zM63 2h3v1h-3zM63 3h3v1h-3zM67 3h1v1h-1zM65 4h2v1h-2zM67 5h2v1h-2zM69 6h2v1h-2zM69 7h2v1h-2zM70 8h3v1h-3zM71 9h1v1h-1zM73 9h1v1h-1zM72 10h2v1h-2zM72 11h3v1h-3zM74 12h3v1h-3zM75 13h2v1h-2zM76 14h3v1h-3zM77 15h2v1h-2zM78 16h2v1h-2zM80 17h1v1h-1zM72 18h2v1h-2zM80 19h3v1h-3zM82 20h2v1h-2zM83 21h2v1h-2zM84 22h2v1h-2zM85 23h3v1h-3zM86 24h3v1h-3zM87 25h4v1h-4zM89 26h3v1h-3zM90 27h4v1h-4zM91 28h3v1h-3zM93 29h3v1h-3zM94 30h4v1h-4zM97 31h1v1h-1zM97 32h4v1h-4zM99 33h4v1h-4zM101 34h4v1h-4zM103 35h4v1h-4zM105 36h3v1h-3zM107 37h3v1h-3zM109 38h3v1h-3zM111 39h3v1h-3zM113 40h4v1h-4zM116 41h4v1h-4zM119 42h4v1h-4zM121 43h4v1h-4zM124 44h4v1h-4zM126 45h4v1h-4zM129 46h4v1h-4zM132 47h1v1h-1z"/>
<path fill="#1bff00" d="M62 0h4v1h-4zM62 1h1v1h-1zM64 1h1v1h-1zM66 1h1v1h-1zM66 2h1v1h-1zM66 3h1v1h-1zM68 3h1v1h-1zM68 4h2v1h-2zM69 5h2v1h-2zM71 7h1v1h-1zM73 8h2v1h-2zM72 9h1v1h-1zM74 9h1v1h-1zM74 10h2v1h-2zM75 11h2v1h-2zM77 12h2v1h-2zM77 13h3v1h-3zM79 14h1v1h-1zM79 15h2v1h-2zM80 16h3v1h-3zM81 17h2v1h-2zM74 18h2v1h-2zM83 19h2v1h-2zM84 20h2v1h-2zM85 21h3v1h-3zM86 22h2v1h-2zM88 23h2v1h-2zM89 24h3v1h-3zM91 25h2v1h-2zM92 26h3v1h-3zM94 27h2v1h-2zM94 28h4v1h-4zM96 29h2v1h-2zM98 30h2v1h-2zM98 31h4v1h-4zM101 32h3v1h-3zM103 33h3v1h-3zM105 34h3v1h-3zM107 35h3v1h-3zM108 36h4v1h-4zM110 37h4v1h-4zM112 38h5v1h-5zM114 39h5v1h-5zM117 40h4v1h-4zM120 41h4v1h-4zM123 42h4v1h-4zM125 43h4v1h-4zM128 44h3v1h-3zM130 45h3v1h-3z"/>
<path fill="#26ff00" d="M66 0h3v1h-3zM67 1h2v1h-2zM70 1h1v1h-1zM67 2h3v1h-3zM69 3h2v1h-2zM70 4h2v1h-2zM71 5h3v1h-3zM71 6h4v1h-4zM72 7h4v1h-4zM75 8h1v1h-1zM75 9h2v1h-2zM76 10h3v1h-3zM77 11h3v1h-3zM79 12h1v1h-1zM80 13h2v1h-2zM80 14h3v1h-3zM81 15h3v1h-3zM83 16h2v1h-2zM83 17h3v1h-3zM76 18h1v1h-1zM85 19h2v1h-2zM86 20h4v1h-4zM88 21h2v1h-2zM88 22h4v1h-4zM90 23h3v1h-3zM92 24h2v1h-2zM93 25h4v1h-4zM95 26h2v1h-2zM96 27h3v1h-3zM98 28h2v1h-2zM98 29h4v1h-4zM100 30h4v1h-4zM102 31h4v1h-4zM104 32h4v1h-4zM106 33h3v1h-3zM108 34h3v1h-3zM110 35h3v1h-3zM112 36h4v1h-4zM114 37h4v1h-4zM117 38h3v1h-3zM119 39h4v1h-4zM121 40h4v1h-4zM124 41h4v1h-4zM127 42h3v1h-3zM129 43h3v1h-3zM131 44h2v1h-2z"/>
<path fill="#31ff00" d="M69 0h2v1h-2zM69 1h1v1h-1zM70 2h2v1h-2zM71 3h3v1h-3zM72 4h3v1h-3zM74 5h1v1h-1zM75 6h2v1h-2zM76 7h2v1h-2zM76 8h3v1h-3zM77 9h3v1h-3zM79 10h2v1h-2zM80 11h2v1h-2zM80 12h2v1h-2zM82 13h2v1h-2zM83 14h2v1h-2zM84 15h2v1h-2zM85 16h2v1h-2zM86 17h2v1h-2zM77 18h2v1h-2zM87 19h3v1h-3zM91 19h1v1h-1zM90 20h2v1h-2zM90 21h4v1h-4zM92 22h3v1h-3zM93 23h4v1h-4zM94 24h3v1h-3zM97 25h2v1h-2zM97 26h3v1h-3zM99 27h3v1h-3zM100 28h4v1h-4zM102 29h4v1h-4zM104 30h3v1h-3zM106 31h3v1h-3zM108 32h3v1h-3zM109 33h4v1h-4zM111 34h4v1h-4zM113 35h5v1h-5zM116 36h3v1h-3zM118 37h4v1h-4zM120 38h4v1h-4zM123 39h4v1h-4zM125 40h4v1h-4zM128 41h3v1h-3zM130 42h3v1h-3zM132 43h1v1h-1z"/>
<path fill="#3bff00" d="M71 0h3v1h-3zM71 1h3v1h-3zM72 2h3v1h-3zM74 3h2v1h-2zM75 4h2v1h-2zM75 5h3v1h-3zM77 6h2v1h-2zM78 7h2v1h-2zM79 8h3v1h-3zM80 9h3v1h-3zM81 10h2v1h-2zM82 11h2v1h-2zM82 12h3v1h-3zM84 13h2v1h-2zM85 14h2v1h-2zM86 15h2v1h-2zM87 16h3v1h-3zM88 17h2v1h-2zM79 18h2v1h-2zM90 19h1v1h-1zM92 19h1v1h-1zM92 20h3v1h-3zM94 21h2v1h-2zM95 22h3v1h-3zM97 23h2v1h-2zM97 24h3v1h-3zM99 25h3v1h-3zM100 26h4v1h-4zM102 27h3v1h-3zM104 28h3v1h-3zM106 29h3v1h-3zM107 30h3v1h-3zM109 31h3v1h-3zM111 32h3v1h-3zM113 33h4v1h-4zM115 34h4v1h-4zM118 35h3v1h-3zM119 36h4v1h-4zM122 37h4v1h-4zM124 38h4v1h-4zM127 39h3v1h-3zM129 40h3v1h-3zM131 41h2v1h-2z"/>
<path fill="#46ff00" d="M74 0h2v1h-2zM74 1h3v1h-3zM75 2h3v1h-3zM76 3h3v1h-3zM77 4h2v1h-2zM78 5h3v1h-3zM79 6h2v1h-2zM80 7h2v1h-2zM82 8h2v1h-2zM83 9h2v1h-2zM83 10h2v1h-2zM84 11h2v1h-2zM85 12h2v1h-2zM86 13h2v1h-2zM87 14h2v1h-2zM88 15h3v1h-3zM90 16h2v1h-2zM90 17h3v1h-3zM81 18h3v1h-3zM93 19h3v1h-3zM95 20h2v1h-2zM96 21h3v1h-3zM98 22h2v1h-2zM99 23h3v1h-3zM100 24h4v1h-4zM102 25h3v1h-3zM104 26h3v1h-3zM105 27h4v1h-4zM107 28h3v1h-3zM109 29h3v1h-3zM110 30h3v1h-3zM112 31h4v1h-4zM114 32h4v1h-4zM117 33h3v1h-3zM119 34h3v1h-3zM121 35h4v1h-4zM123 36h3v1h-3zM126 37h2v1h-2zM128 38h2v1h-2zM130 39h3v1h-3zM132 40h1v1h-1z"/>
<path fill="#51ff00" d="M76 0h2v1h-2zM77 1h3v1h-3zM78 2h1v1h-1zM79 3h2v1h-2zM79 4h3v1h-3zM81 5h1v1h-1zM81 6h3v1h-3zM82 7h3v1h-3zM84 8h2v1h-2zM85 9h1v1h-1zM85 10h3v1h-3zM86 11h2v1h-2zM87 12h3v1h-3zM88 13h3v1h-3zM89 14h3v1h-3zM91 15h2v1h-2zM92 16h3v1h-3zM93 17h3v1h-3zM84 18h1v1h-1zM96 19h3v1h-3zM97 20h3v1h-3zM99 21h3v1h-3zM100 22h4v1h-4zM102 23h3v1h-3zM104 24h3v1h-3zM105 25h3v1h-3zM107 26h3v1h-3zM109 27h3v1h-3zM110 28h3v1h-3zM112 29h3v1h-3zM113 30h4v1h-4zM116 31h4v1h-4zM118 32h3v1h-3zM120 33h3v1h-3zM122 34h4v1h-4zM125 35h2v1h-2zM126 36h3v1h-3zM128 37h3v1h-3zM130 38h3v1h-3z"/>
<path fill="#5cff00" d="M78 0h1v1h-1zM80 1h1v1h-1zM79 2h3v1h-3zM81 3h2v1h-2zM82 4h2v1h-2zM82 5h2v1h-2zM84 6h2v1h-2zM85 7h1v1h-1zM86 8h1v1h-1zM86 9h3v1h-3zM88 10h2v1h-2zM88 11h3v1h-3zM90 12h2v1h-2zM91 13h3v1h-3zM92 14h3v1h-3zM93 15h4v1h-4zM95 16h3v1h-3zM96 17h3v1h-3zM85 18h3v1h-3zM99 19h3v1h-3zM100 20h3v1h-3zM102 21h2v1h-2zM104 22h2v1h-2zM105 23h3v1h-3zM107 24h3v1h-3zM108 25h3v1h-3zM110 26h2v1h-2zM112 27h2v1h-2zM113 28h3v1h-3zM115 29h3v1h-3zM117 30h3v1h-3zM120 31h3v1h-3zM121 32h4v1h-4zM123 33h4v1h-4zM126 34h2v1h-2zM127 35h3v1h-3zM129 36h3v1h-3zM131 37h2v1h-2z"/>
<path fill="#67ff00" d="M79 0h2v1h-2zM81 1h2v1h-2zM82 2h2v1h-2zM83 3h2v1h-2zM84 4h2v1h-2zM84 5h2v1h-2zM86 6h1v1h-1zM86 7h3v1h-3zM87 8h3v1h-3zM89 9h3v1h-3zM90 10h3v1h-3zM91 11h3v1h-3zM92 12h3v1h-3zM94 13h3v1h-3zM95 14h2v1h-2zM97 15h2v1h-2zM98 16h3v1h-3zM99 17h2v1h-2zM88 18h3v1h-3zM102 19h2v1h-2zM103 20h3v1h-3zM104 21h3v1h-3zM106 22h3v1h-3zM108 23h2v1h-2zM110 24h2v1h-2zM111 25h3v1h-3zM112 26h4v1h-4zM114 27h4v1h-4zM116 28h4v1h-4zM118 29h4v1h-4zM120 30h4v1h-4zM123 31h3v1h-3zM125 32h3v1h-3zM127 33h2v1h-2zM128 34h3v1h-3zM130 35h3v1h-3zM132 36h1v1h-1z"/>
<path fill="#72ff00" d="M81 0h3v1h-3zM83 1h2v1h-2zM84 2h2v1h-2zM85 3h2v1h-2zM86 4h2v1h-2zM86 5h3v1h-3zM87 6h3v1h-3zM89 7h3v1h-3zM90 8h3v1h-3zM92 9h2v1h-2zM93 10h2v1h-2zM94 11h2v1h-2zM95 12h3v1h-3zM97 13h2v1h-2zM97 14h3v1h-3zM99 15h3v1h-3zM101 16h2v1h-2zM101 17h3v1h-3zM91 18h2v1h-2zM104 19h3v1h-3zM106 20h3v1h-3zM107 21h3v1h-3zM109 22h3v1h-3zM110 23h3v1h-3zM112 24h3v1h-3zM114 25h3v1h-3zM116 26h3v1h-3zM118 27h3v1h-3zM120 28h3v1h-3zM122 29h3v1h-3zM124 30h2v1h-2zM126 31h2v1h-2zM128 32h2v1h-2zM129 33h3v1h-3zM131 34h2v1h-2z"/>
<path fill="#7cff00" d="M84 0h2v1h-2zM85 1h2v1h-2zM86 2h1v1h-1zM87 3h2v1h-2zM88 4h3v1h-3zM89 5h3v1h-3zM90 6h3v1h-3zM92 7h1v1h-1zM93 8h3v1h-3zM94 9h2v1h-2zM95 10h3v1h-3zM96 11h2v1h-2zM98 12h2v1h-2zM99 13h2v1h-2zM100 14h3v1h-3zM102 15h2v1h-2zM103 16h3v1h-3zM104 17h3v1h-3zM93 18h3v1h-3zM107 19h3v1h-3zM109 20h2v1h-2zM110 21h2v1h-2zM112 22h2v1h-2zM113 23h3v1h-3zM115 24h3v1h-3zM117 25h3v1h-3zM119 26h3v1h-3zM121 27h3v1h-3zM123 28h3v1h-3zM125 29h2v1h-2zM126 30h3v1h-3zM128 31h3v1h-3zM130 32h2v1h-2zM132 33h1v1h-1z"/>
<path fill="#87ff00" d="M86 0h2v1h-2zM87 1h2v1h-2zM87 2h4v1h-4zM89 3h3v1h-3zM91 4h2v1h-2zM92 5h2v1h-2zM93 6h2v1h-2zM93 7h3v1h-3zM96 8h1v1h-1zM96 9h2v1h-2zM98 10h2v1h-2zM98 11h3v1h-3zM100 12h2v1h-2zM101 13h3v1h-3zM103 14h2v1h-2zM104 15h2v1h-2zM106 16h2v1h-2zM107 17h2v1h-2zM96 18h3v1h-3zM110 19h2v1h-2zM111 20h3v1h-3zM112 21h3v1h-3zM114 22h4v1h-4zM116 23h3v1h-3zM118 24h3v1h-3zM120 25h3v1h-3zM122 26h3v1h-3zM124 27h3v1h-3zM126 28h2v1h-2zM127 29h3v1h-3zM129 30h3v1h-3zM131 31h2v1h-2zM132 32h1v1h-1z"/>
<path fill="#92ff00" d="M88 0h3v1h-3zM89 1h3v1h-3zM91 2h1v1h-1zM92 3h2v1h-2zM93 4h2v1h-2zM94 5h2v1h-2zM95 6h2v1h-2zM96 7h2v1h-2zM97 8h2v1h-2zM98 9h3v1h-3zM100 10h2v1h-2zM101 11h3v1h-3zM102 12h3v1h-3zM104 13h2v1h-2zM105 14h3v1h-3zM106 15h3v1h-3zM108 16h2v1h-2zM109 17h3v1h-3zM99 18h3v1h-3zM112 19h3v1h-3zM114 20h3v1h-3zM115 21h4v1h-4zM118 22h3v1h-3zM119 23h3v1h-3zM121 24h3v1h-3zM123 25h3v1h-3zM125 26h2v1h-2zM127 27h2v1h-2zM128 28h3v1h-3zM130 29h2v1h-2zM132 30h1v1h-1z"/>
<path fill="#9dff00" d="M91 0h1v1h-1zM92 1h1v1h-1zM92 2h3v1h-3zM94 3h2v1h-2zM95 4h2v1h-2zM96 5h2v1h-2zM97 6h2v1h-2zM98 7h3v1h-3zM99 8h3v1h-3zM101 9h2v1h-2zM102 10h2v1h-2zM104 11h2v1h-2zM105 12h2v1h-2zM106 13h3v1h-3zM108 14h2v1h-2zM109 15h2v1h-2zM110 16h3v1h-3zM112 17h2v1h-2zM102 18h2v1h-2zM115 19h3v1h-3zM117 20h3v1h-3zM119 21h3v1h-3zM121 22h2v1h-2zM122 23h3v1h-3zM124 24h3v1h-3zM126 25h2v1h-2zM127 26h3v1h-3zM129 27h2v1h-2zM131 28h2v1h-2zM132 29h1v1h-1z"/>
<path fill="#a8ff00" d="M92 0h2v1h-2zM93 1h2v1h-2zM95 2h2v1h-2zM96 3h1v1h-1zM97 4h2v1h-2zM98 5h2v1h-2zM99 6h3v1h-3zM101 7h1v1h-1zM102 8h2v1h-2zM103 9h2v1h-2zM104 10h3v1h-3zM106 11h2v1h-2zM107 12h3v1h-3zM109 13h2v1h-2zM110 14h2v1h-2zM111 15h3v1h-3zM113 16h2v1h-2zM114 17h3v1h-3zM104 18h3v1h-3zM118 19h3v1h-3zM120 20h2v1h-2zM122 21h3v1h-3zM123 22h3v1h-3zM125 23h2v1h-2zM127 24h2v1h-2zM128 25h2v1h-2zM130 26h2v1h-2zM131 27h2v1h-2z"/>
<path fill="#b2ff00" d="M94 0h3v1h-3zM95 1h2v1h-2zM97 2h1v1h-1zM97 3h3v1h-3zM99 4h2v1h-2zM100 5h2v1h-2zM102 6h2v1h-2zM102 7h3v1h-3zM104 8h2v1h-2zM105 9h3v1h-3zM107 10h2v1h-2zM108 11h2v1h-2zM110 12h2v1h-2zM111 13h2v1h-2zM112 14h3v1h-3zM114 15h3v1h-3zM115 16h3v1h-3zM117 17h3v1h-3zM107 18h3v1h-3zM121 19h3v1h-3zM122 20h3v1h-3zM125 21h2v1h-2zM126 22h2v1h-2zM127 23h3v1h-3zM129 24h2v1h-2zM130 25h3v1h-3zM132 26h1v1h-1z"/>
<path fill="#bdff00" d="M97 0h2v1h-2zM97 1h3v1h-3zM98 2h3v1h-3zM100 3h1v1h-1zM101 4h2v1h-2zM102 5h2v1h-2zM104 6h2v1h-2zM105 7h2v1h-2zM106 8h2v1h-2zM108 9h2v1h-2zM109 10h2v1h-2zM110 11h3v1h-3zM112 12h2v1h-2zM113 13h3v1h-3zM115 14h3v1h-3zM117 15h3v1h-3zM118 16h3v1h-3zM120 17h3v1h-3zM110 18h2v1h-2zM124 19h2v1h-2zM125 20h3v1h-3zM127 21h2v1h-2zM128 22h3v1h-3zM130 23h2v1h-2zM131 24h2v1h-2z"/>
<path fill="#c8ff00" d="M99 0h1v1h-1zM100 1h2v1h-2zM101 2h2v1h-2zM101 3h4v1h-4zM103 4h3v1h-3zM104 5h3v1h-3zM106 6h2v1h-2zM107 7h2v1h-2zM108 8h3v1h-3zM110 9h2v1h-2zM111 10h3v1h-3zM113 11h2v1h-2zM114 12h3v1h-3zM116 13h3v1h-3zM118 14h3v1h-3zM120 15h2v1h-2zM121 16h3v1h-3zM123 17h3v1h-3zM112 18h3v1h-3zM126 19h3v1h-3zM128 20h2v1h-2zM129 21h2v1h-2zM131 22h2v1h-2zM132 23h1v1h-1z"/>
<path fill="#d3ff00" d="M100 0h3v1h-3zM102 1h2v1h-2zM103 2h2v1h-2zM105 3h1v1h-1zM106 4h2v1h-2zM107 5h2v1h-2zM108 6h2v1h-2zM109 7h2v1h-2zM111 8h2v1h-2zM112 9h2v1h-2zM114 10h2v1h-2zM115 11h3v1h-3zM117 12h3v1h-3zM119 13h3v1h-3zM121 14h2v1h-2zM122 15h3v1h-3zM124 16h2v1h-2zM126 17h2v1h-2zM115 18h3v1h-3zM129 19h2v1h-2zM130 20h2v1h-2zM131 21h2v1h-2z"/>
<path fill="#deff00" d="M103 0h2v1h-2zM104 1h2v1h-2zM105 2h2v1h-2zM106 3h3v1h-3zM108 4h2v1h-2zM109 5h2v1h-2zM110 6h2v1h-2zM111 7h3v1h-3zM113 8h3v1h-3zM114 9h3v1h-3zM116 10h3v1h-3zM118 11h3v1h-3zM120 12h2v1h-2zM122 13h2v1h-2zM123 14h3v1h-3zM125 15h2v1h-2zM126 16h3v1h-3zM128 17h2v1h-2zM118 18h2v1h-2zM131 19h2v1h-2zM132 20h1v1h-1z"/>
<path fill="#e8ff00" d="M105 0h2v1h-2zM106 1h2v1h-2zM107 2h3v1h-3zM109 3h2v1h-2zM110 4h2v1h-2zM111 5h2v1h-2zM112 6h3v1h-3zM114 7h3v1h-3zM116 8h3v1h-3zM117 9h3v1h-3zM119 10h3v1h-3zM121 11h3v1h-3zM122 12h3v1h-3zM124 13h3v1h-3zM126 14h2v1h-2zM127 15h2v1h-2zM129 16h1v1h-1zM130 17h2v1h-2zM120 18h3v1h-3z"/>
<path fill="#f3ff00" d="M107 0h2v1h-2zM108 1h2v1h-2zM110 2h2v1h-2zM111 3h2v1h-2zM112 4h3v1h-3zM113 5h3v1h-3zM115 6h3v1h-3zM117 7h3v1h-3zM119 8h2v1h-2zM120 9h3v1h-3zM122 10h3v1h-3zM124 11h2v1h-2zM125 12h2v1h-2zM127 13h2v1h-2zM128 14h2v1h-2zM129 15h2v1h-2zM130 16h3v1h-3zM132 17h1v1h-1zM123 18h3v1h-3z"/>
<path fill="#feff00" d="M109 0h2v1h-2zM110 1h2v1h-2zM112 2h2v1h-2zM113 3h3v1h-3zM115 4h2v1h-2zM116 5h3v1h-3zM118 6h2v1h-2zM120 7h2v1h-2zM121 8h3v1h-3zM123 9h2v1h-2zM125 10h2v1h-2zM126 11h2v1h-2zM127 12h2v1h-2zM129 13h2v1h-2zM130 14h2v1h-2zM131 15h2v1h-2zM126 18h2v1h-2z"/>
<path fill="#fff500" d="M111 0h2v1h-2zM112 1h2v1h-2zM114 2h2v1h-2zM116 3h1v1h-1zM117 4h2v1h-2zM119 5h2v1h-2zM120 6h2v1h-2zM122 7h2v1h-2zM124 8h2v1h-2zM125 9h2v1h-2zM127 10h1v1h-1zM128 11h2v1h-2zM129 12h2v1h-2zM131 13h1v1h-1zM132 14h1v1h-1zM128 18h2v1h-2z"/>
<path fill="#ffea00" d="M113 0h2v1h-2zM114 1h2v1h-2zM116 2h2v1h-2zM117 3h3v1h-3zM119 4h2v1h-2zM121 5h2v1h-2zM122 6h2v1h-2zM124 7h2v1h-2zM126 8h1v1h-1zM127 9h2v1h-2zM128 10h2v1h-2zM130 11h1v1h-1zM131 12h2v1h-2zM132 13h1v1h-1zM130 18h2v1h-2z"/>
<path fill="#ffe000" d="M115 0h2v1h-2zM116 1h3v1h-3zM118 2h2v1h-2zM120 3h2v1h-2zM121 4h2v1h-2zM123 5h2v1h-2zM124 6h2v1h-2zM126 7h2v1h-2zM127 8h2v1h-2zM129 9h1v1h-1zM130 10h1v1h-1zM131 11h2v1h-2zM132 18h1v1h-1z"/>
<path fill="#ffd500" d="M117 0h2v1h-2zM119 1h2v1h-2zM120 2h2v1h-2zM122 3h2v1h-2zM123 4h2v1h-2zM125 5h1v1h-1zM126 6h2v1h-2zM128 7h1v1h-1zM129 8h2v1h-2zM130 9h2v1h-2zM131 10h2v1h-2z"/>
<path fill="#ffca00" d="M119 0h2v1h-2zM121 1h2v1h-2zM122 2h2v1h-2zM124 3h1v1h-1zM125 4h2v1h-2zM126 5h2v1h-2zM128 6h1v1h-1zM129 7h2v1h-2zM131 8h1v1h-1zM132 9h1v1h-1z"/>
<path fill="#ffbf00" d="M121 0h2v1h-2zM123 1h1v1h-1zM124 2h2v1h-2zM125 3h2v1h-2zM127 4h1v1h-1zM128 5h2v1h-2zM129 6h2v1h-2zM131 7h2v1h-2zM132 8h1v1h-1z"/>
<path fill="#ffb400" d="M123 0h2v1h-2zM124 1h2v1h-2zM126 2h1v1h-1zM127 3h2v1h-2zM128 4h2v1h-2zM130 5h2v1h-2zM131 6h2v1h-2z"/>
<path fill="#ffa900" d="M125 0h1v1h-1zM126 1h2v1h-2zM127 2h2v1h-2zM129 3h2v1h-2zM130 4h2v1h-2zM132 5h1v1h-1z"/>
<path fill="#ff9f00" d="M126 0h2v1h-2zM128 1h1v1h-1zM129 2h2v1h-2zM131 3h1v1h-1zM132 4h1v1h-1z"/>
<path fill="#ff9400" d="M128 0h2v1h-2zM129 1h2v1h-2zM131 2h2v1h-2zM132 3h1v1h-1z"/>
<path fill="#ff8900" d="M130 0h2v1h-2zM131 1h2v1h-2z"/>
<path fill="#ff7e00" d="M132 0h1v1h-1z"/>
</g></g>
<path d="M70.50 369.50v-4.2M92.23 369.50v-2.1M104.95 369.50v-2.1M113.97 369.50v-2.1M120.97 369.50v-2.1M126.68 369.50v-2.1M131.52 369.50v-2.1M135.70 369.50v-2.1M139.40 369.50v-2.1M142.70 369.50v-4.2M164.43 369.50v-2.1M177.15 369.50v-2.1M186.17 369.50v-2.1M193.17 369.50v-2.1M198.88 369.50v-2.1M203.72 369.50v-2.1M207.90 369.50v-2.1M211.60 369.50v-2.1M214.90 369.50v-4.2M236.63 369.50v-2.1M249.35 369.50v-2.1M258.37 369.50v-2.1M265.37 369.50v-2.1M271.08 369.50v-2.1M275.92 369.50v-2.1M280.10 369.50v-2.1M283.80 369.50v-2.1M287.10 369.50v-4.2M308.83 369.50v-2.1M321.55 369.50v-2.1M330.57 369.50v-2.1M337.57 369.50v-2.1M343.28 369.50v-2.1M348.12 369.50v-2.1M352.30 369.50v-2.1M356.00 369.50v-2.1M359.30 369.50v-4.2M381.03 369.50v-2.1M393.75 369.50v-2.1M402.77 369.50v-2.1M409.77 369.50v-2.1M415.48 369.50v-2.1M420.32 369.50v-2.1M424.50 369.50v-2.1M428.20 369.50v-2.1M431.50 369.50v-4.2M453.23 369.50v-2.1M70.50 369.50h4.2M70.50 347.95h2.1M70.50 335.35h2.1M70.50 326.40h2.1M70.50 319.47h2.1M70.50 313.80h2.1M70.50 309.01h2.1M70.50 304.86h2.1M70.50 301.20h2.1M70.50 297.92h4.2M70.50 276.37h2.1M70.50 263.77h2.1M70.50 254.82h2.1M70.50 247.89h2.1M70.50 242.22h2.1M70.50 237.43h2.1M70.50 233.28h2.1M70.50 229.62h2.1M70.50 226.34h4.2M70.50 204.79h2.1M70.50 192.19h2.1M70.50 183.24h2.1M70.50 176.31h2.1M70.50 170.64h2.1M70.50 165.85h2.1M70.50 161.70h2.1M70.50 158.04h2.1M70.50 154.76h4.2M70.50 133.21h2.1M70.50 120.61h2.1M70.50 111.66h2.1M70.50 104.73h2.1M70.50 99.06h2.1M70.50 94.27h2.1M70.50 90.12h2.1M70.50 86.46h2.1M70.50 83.18h4.2M70.50 61.63h2.1M70.50 49.03h2.1M70.50 40.08h2.1M70.50 33.15h2.1M70.50 27.48h2.1M70.50 22.69h2.1M70.50 18.54h2.1M70.50 14.88h2.1" stroke="#111" stroke-width="0.75" fill="none"/>
<rect x="70.50" y="11.60" width="383.10" height="357.90" fill="none" stroke="#000" stroke-width="1.00"/>
<text x="65.5" y="380.0" font-size="19.6" text-anchor="end"><tspan letter-spacing="-0.5">10</tspan><tspan dy="-12.2" font-size="13.3" letter-spacing="0.6">−1</tspan></text>
<text x="65.5" y="308.4" font-size="19.6" text-anchor="end"><tspan letter-spacing="-0.5">10</tspan><tspan dy="-12.2" font-size="13.3">0</tspan></text>
<text x="65.5" y="236.8" font-size="19.6" text-anchor="end"><tspan letter-spacing="-0.5">10</tspan><tspan dy="-12.2" font-size="13.3">1</tspan></text>
<text x="65.5" y="165.3" font-size="19.6" text-anchor="end"><tspan letter-spacing="-0.5">10</tspan><tspan dy="-12.2" font-size="13.3">2</tspan></text>
<text x="65.5" y="93.7" font-size="19.6" text-anchor="end"><tspan letter-spacing="-0.5">10</tspan><tspan dy="-12.2" font-size="13.3">3</tspan></text>
<text x="65.5" y="22.1" font-size="19.6" text-anchor="end"><tspan letter-spacing="-0.5">10</tspan><tspan dy="-12.2" font-size="13.3">4</tspan></text>
<text x="70.0" y="392.0" font-size="19.6" text-anchor="middle"><tspan letter-spacing="-0.5">10</tspan><tspan dy="-12.2" font-size="13.3">0</tspan></text>
<text x="142.2" y="392.0" font-size="19.6" text-anchor="middle"><tspan letter-spacing="-0.5">10</tspan><tspan dy="-12.2" font-size="13.3">1</tspan></text>
<text x="214.5" y="392.0" font-size="19.6" text-anchor="middle"><tspan letter-spacing="-0.5">10</tspan><tspan dy="-12.2" font-size="13.3">2</tspan></text>
<text x="286.7" y="392.0" font-size="19.6" text-anchor="middle"><tspan letter-spacing="-0.5">10</tspan><tspan dy="-12.2" font-size="13.3">3</tspan></text>
<text x="358.9" y="392.0" font-size="19.6" text-anchor="middle"><tspan letter-spacing="-0.5">10</tspan><tspan dy="-12.2" font-size="13.3">4</tspan></text>
<text x="431.1" y="392.0" font-size="19.6" text-anchor="middle"><tspan letter-spacing="-0.5">10</tspan><tspan dy="-12.2" font-size="13.3">5</tspan></text>
<linearGradient id="cb0" x1="0" y1="0" x2="0" y2="1"><stop offset="0.0000" stop-color="#ff0029"/><stop offset="0.0156" stop-color="#ff0019"/><stop offset="0.0312" stop-color="#ff0003"/><stop offset="0.0469" stop-color="#ff1200"/><stop offset="0.0625" stop-color="#ff2800"/><stop offset="0.0781" stop-color="#ff3d00"/><stop offset="0.0938" stop-color="#ff5300"/><stop offset="0.1094" stop-color="#ff6900"/><stop offset="0.1250" stop-color="#ff7e00"/><stop offset="0.1406" stop-color="#ff9400"/><stop offset="0.1562" stop-color="#ffa900"/><stop offset="0.1719" stop-color="#ffbf00"/><stop offset="0.1875" stop-color="#ffd500"/><stop offset="0.2031" stop-color="#ffea00"/><stop offset="0.2188" stop-color="#feff00"/><stop offset="0.2344" stop-color="#e8ff00"/><stop offset="0.2500" stop-color="#d3ff00"/><stop offset="0.2656" stop-color="#bdff00"/><stop offset="0.2812" stop-color="#a8ff00"/><stop offset="0.2969" stop-color="#92ff00"/><stop offset="0.3125" stop-color="#7cff00"/><stop offset="0.3281" stop-color="#67ff00"/><stop offset="0.3438" stop-color="#51ff00"/><stop offset="0.3594" stop-color="#3bff00"/><stop offset="0.3750" stop-color="#26ff00"/><stop offset="0.3906" stop-color="#10ff00"/><stop offset="0.4062" stop-color="#00ff05"/><stop offset="0.4219" stop-color="#00ff1b"/><stop offset="0.4375" stop-color="#00ff30"/><stop offset="0.4531" stop-color="#00ff46"/><stop offset="0.4688" stop-color="#00ff5b"/><stop offset="0.4844" stop-color="#00ff71"/><stop offset="0.5000" stop-color="#00ff86"/><stop offset="0.5156" stop-color="#00ff9c"/><stop offset="0.5312" stop-color="#00ffb1"/><stop offset="0.5469" stop-color="#00ffc7"/><stop offset="0.5625" stop-color="#00ffdc"/><stop offset="0.5781" stop-color="#00fff2"/><stop offset="0.5938" stop-color="#00f6ff"/><stop offset="0.6094" stop-color="#00e1ff"/><stop offset="0.6250" stop-color="#00cbff"/><stop offset="0.6406" stop-color="#00b5ff"/><stop offset="0.6562" stop-color="#00a0ff"/><stop offset="0.6719" stop-color="#008aff"/><stop offset="0.6875" stop-color="#0074ff"/><stop offset="0.7031" stop-color="#005eff"/><stop offset="0.7188" stop-color="#0049ff"/><stop offset="0.7344" stop-color="#0033ff"/><stop offset="0.7500" stop-color="#001dff"/><stop offset="0.7656" stop-color="#0007ff"/><stop offset="0.7812" stop-color="#0e00ff"/><stop offset="0.7969" stop-color="#2400ff"/><stop offset="0.8125" stop-color="#3a00ff"/><stop offset="0.8281" stop-color="#5000ff"/><stop offset="0.8438" stop-color="#6500ff"/><stop offset="0.8594" stop-color="#7b00ff"/><stop offset="0.8750" stop-color="#9100ff"/><stop offset="0.8906" stop-color="#a700ff"/><stop offset="0.9062" stop-color="#bc00ff"/><stop offset="0.9219" stop-color="#d200ff"/><stop offset="0.9375" stop-color="#e800ff"/><stop offset="0.9531" stop-color="#fe00ff"/><stop offset="0.9688" stop-color="#ff00eb"/><stop offset="0.9844" stop-color="#ff00d5"/><stop offset="1.0000" stop-color="#ff00bf"/></linearGradient>
<rect x="476.50" y="12.00" width="18.30" height="357.50" fill="url(#cb0)" stroke="#000" stroke-width="1.00"/>
<text x="498.9" y="379.3" font-size="19.6" text-anchor="start"><tspan letter-spacing="-0.5">10</tspan><tspan dy="-12.2" font-size="13.3" letter-spacing="0.6">−6</tspan></text>
<text x="498.9" y="307.8" font-size="19.6" text-anchor="start"><tspan letter-spacing="-0.5">10</tspan><tspan dy="-12.2" font-size="13.3" letter-spacing="0.6">−4</tspan></text>
<text x="498.9" y="236.3" font-size="19.6" text-anchor="start"><tspan letter-spacing="-0.5">10</tspan><tspan dy="-12.2" font-size="13.3" letter-spacing="0.6">−2</tspan></text>
<text x="498.9" y="164.8" font-size="19.6" text-anchor="start"><tspan letter-spacing="-0.5">10</tspan><tspan dy="-12.2" font-size="13.3">0</tspan></text>
<text x="498.9" y="93.3" font-size="19.6" text-anchor="start"><tspan letter-spacing="-0.5">10</tspan><tspan dy="-12.2" font-size="13.3">2</tspan></text>
<text x="498.9" y="21.8" font-size="19.6" text-anchor="start"><tspan letter-spacing="-0.5">10</tspan><tspan dy="-12.2" font-size="13.3">4</tspan></text>
<path d="M494.80 298.00h-4M494.80 226.50h-4M494.80 155.00h-4M494.80 83.50h-4" stroke="#000" stroke-width="0.80" fill="none"/>
<text x="262.1" y="424.8" font-size="25.6" text-anchor="middle"><tspan font-style="italic">E</tspan><tspan dy="3.3" font-size="17.4" font-style="normal">p</tspan><tspan dy="-3.3"> [MeV nuc</tspan><tspan dy="-9.5" font-size="18.4" letter-spacing="1.2">−1</tspan><tspan dy="9.5">]</tspan></text>
<text transform="translate(19.0 190.6) rotate(-90)" font-size="25.6" text-anchor="middle"><tspan font-style="italic">E</tspan><tspan dy="3.3" font-size="17.4" font-style="italic">γ</tspan><tspan dy="-3.3"> [MeV]</tspan></text>
<text transform="translate(80.5 62.3) scale(1 1.05)" font-size="28.0" font-weight="bold">QGSP_BIC</text>
<text transform="translate(554.3 190.8) rotate(-90)" font-size="19.4" text-anchor="middle"><tspan font-weight="bold" font-style="italic">Y</tspan><tspan dy="2.9" font-size="13.6" font-weight="normal" font-style="italic">p</tspan><tspan dy="-2.9">(</tspan><tspan font-weight="bold" font-style="italic">E</tspan><tspan dy="2.9" font-size="13.6" font-weight="normal" font-style="italic">γ</tspan><tspan dy="-2.9">|</tspan><tspan font-weight="bold" font-style="italic">E</tspan><tspan dy="2.9" font-size="13.6" font-weight="normal" font-style="normal">p</tspan><tspan dy="-2.9">) [ph MeV</tspan><tspan dy="-6.6" font-size="14.0" letter-spacing="1.0">−1</tspan><tspan dy="6.6"> proton</tspan><tspan dy="-6.6" font-size="14.0" letter-spacing="1.0">−1</tspan><tspan dy="6.6">]</tspan></text>
<clipPath id="c724"><rect x="724.80" y="14.00" width="384.20" height="358.20"/></clipPath><g clip-path="url(#c724)"><g transform="translate(724.80 372.20) scale(2.8960 -2.8656)" shape-rendering="crispEdges">
<path fill="#ff00bf" d="M73 97h3v1h-3zM77 98h1v1h-1zM81 98h2v1h-2zM73 99h1v1h-1zM77 99h1v1h-1zM80 99h1v1h-1zM82 99h2v1h-2zM90 99h1v1h-1zM82 100h2v1h-2zM86 100h1v1h-1zM84 101h1v1h-1zM85 102h3v1h-3zM90 102h2v1h-2zM79 103h1v1h-1zM83 103h1v1h-1zM86 103h1v1h-1zM88 103h1v1h-1zM90 103h1v1h-1zM93 103h1v1h-1zM95 103h1v1h-1zM97 103h1v1h-1zM83 104h1v1h-1zM86 104h1v1h-1zM92 104h4v1h-4zM85 105h1v1h-1zM91 105h1v1h-1zM93 105h1v1h-1zM96 105h3v1h-3zM101 105h1v1h-1zM103 105h1v1h-1zM105 105h1v1h-1zM113 105h1v1h-1zM93 106h1v1h-1zM96 106h4v1h-4zM101 106h1v1h-1zM103 106h1v1h-1zM107 106h2v1h-2zM112 106h1v1h-1zM91 107h2v1h-2zM96 107h1v1h-1zM98 107h5v1h-5zM108 107h1v1h-1zM113 107h1v1h-1zM88 108h1v1h-1zM92 108h1v1h-1zM97 108h4v1h-4zM102 108h1v1h-1zM104 108h1v1h-1zM108 108h3v1h-3zM87 109h1v1h-1zM89 109h1v1h-1zM94 109h1v1h-1zM97 109h1v1h-1zM102 109h1v1h-1zM104 109h3v1h-3zM109 109h1v1h-1zM113 109h1v1h-1zM115 109h1v1h-1zM102 110h4v1h-4zM107 110h2v1h-2zM111 110h6v1h-6zM119 110h1v1h-1zM84 111h1v1h-1zM96 111h2v1h-2zM99 111h1v1h-1zM101 111h2v1h-2zM104 111h3v1h-3zM109 111h6v1h-6zM116 111h2v1h-2zM122 111h1v1h-1zM125 111h1v1h-1zM94 112h1v1h-1zM98 112h1v1h-1zM102 112h1v1h-1zM109 112h4v1h-4zM114 112h9v1h-9zM124 112h1v1h-1zM126 112h1v1h-1zM130 112h1v1h-1zM97 113h2v1h-2zM106 113h1v1h-1zM108 113h1v1h-1zM110 113h3v1h-3zM114 113h3v1h-3zM118 113h3v1h-3zM122 113h2v1h-2zM125 113h1v1h-1zM98 114h1v1h-1zM101 114h1v1h-1zM109 114h1v1h-1zM111 114h3v1h-3zM115 114h3v1h-3zM119 114h11v1h-11zM131 114h2v1h-2zM106 115h1v1h-1zM111 115h1v1h-1zM113 115h2v1h-2zM116 115h10v1h-10zM127 115h2v1h-2zM130 115h1v1h-1zM132 115h1v1h-1zM105 116h1v1h-1zM107 116h3v1h-3zM112 116h4v1h-4zM117 116h4v1h-4zM122 116h9v1h-9zM132 116h1v1h-1zM103 117h1v1h-1zM105 117h1v1h-1zM109 117h1v1h-1zM114 117h1v1h-1zM116 117h6v1h-6zM123 117h2v1h-2zM126 117h7v1h-7zM112 118h1v1h-1zM114 118h3v1h-3zM118 118h3v1h-3zM124 118h1v1h-1zM126 118h7v1h-7zM111 119h2v1h-2zM114 119h2v1h-2zM117 119h1v1h-1zM119 119h1v1h-1zM121 119h9v1h-9zM131 119h2v1h-2zM111 120h1v1h-1zM117 120h1v1h-1zM121 120h2v1h-2zM125 120h2v1h-2zM128 120h3v1h-3zM132 120h1v1h-1zM117 121h1v1h-1zM119 121h5v1h-5zM125 121h1v1h-1zM128 121h4v1h-4zM113 122h1v1h-1zM117 122h1v1h-1zM122 122h1v1h-1zM124 122h2v1h-2zM128 122h5v1h-5zM118 123h1v1h-1zM123 123h1v1h-1zM125 123h2v1h-2zM132 123h1v1h-1zM120 124h1v1h-1zM122 124h2v1h-2zM131 124h2v1h-2z"/>
<path fill="#ff00ca" d="M75 95h2v1h-2zM79 95h1v1h-1zM74 96h1v1h-1zM76 96h1v1h-1zM79 96h1v1h-1zM99 103h2v1h-2zM102 103h1v1h-1zM100 106h1v1h-1zM102 106h1v1h-1zM104 106h1v1h-1zM104 107h1v1h-1zM109 107h1v1h-1zM110 110h1v1h-1zM124 110h1v1h-1zM126 110h1v1h-1zM115 111h1v1h-1zM118 111h2v1h-2zM121 111h1v1h-1zM123 112h1v1h-1zM121 113h1v1h-1zM124 113h1v1h-1zM128 113h1v1h-1zM131 115h1v1h-1z"/>
<path fill="#ff00d5" d="M75 94h1v1h-1zM89 100h1v1h-1zM85 101h1v1h-1zM87 101h2v1h-2zM91 101h1v1h-1zM93 101h2v1h-2zM92 105h1v1h-1zM105 108h1v1h-1zM107 108h1v1h-1zM112 108h3v1h-3zM118 108h1v1h-1zM121 108h1v1h-1zM107 109h2v1h-2zM110 109h1v1h-1zM117 109h1v1h-1zM119 109h3v1h-3zM117 110h2v1h-2zM126 113h1v1h-1zM129 115h1v1h-1z"/>
<path fill="#ff00e0" d="M72 91h1v1h-1zM72 92h2v1h-2zM80 98h1v1h-1zM83 98h1v1h-1zM86 98h1v1h-1zM88 98h1v1h-1zM84 99h1v1h-1zM87 99h1v1h-1zM106 103h1v1h-1zM98 104h1v1h-1zM101 104h1v1h-1zM105 106h1v1h-1zM107 107h1v1h-1zM106 108h1v1h-1zM111 108h1v1h-1zM117 108h1v1h-1zM114 109h1v1h-1zM109 110h1v1h-1zM120 110h2v1h-2zM123 110h1v1h-1zM125 110h1v1h-1zM123 111h1v1h-1zM126 111h1v1h-1zM132 111h1v1h-1zM130 113h3v1h-3zM130 114h1v1h-1z"/>
<path fill="#ff00eb" d="M70 89h1v1h-1zM70 90h1v1h-1zM78 96h1v1h-1zM82 96h1v1h-1zM79 97h2v1h-2zM84 97h1v1h-1zM89 101h2v1h-2zM93 102h2v1h-2zM96 102h3v1h-3zM96 104h2v1h-2zM99 104h1v1h-1zM104 105h1v1h-1zM111 106h1v1h-1zM116 106h1v1h-1zM106 107h1v1h-1zM117 107h1v1h-1zM116 108h1v1h-1zM122 108h1v1h-1zM112 109h1v1h-1zM118 109h1v1h-1zM124 109h1v1h-1zM122 110h1v1h-1zM120 111h1v1h-1zM124 111h1v1h-1zM128 111h1v1h-1zM131 111h1v1h-1zM125 112h1v1h-1zM131 112h1v1h-1z"/>
<path fill="#ff00f6" d="M66 87h2v1h-2zM67 88h2v1h-2zM73 94h1v1h-1zM77 94h1v1h-1zM78 95h1v1h-1zM85 99h1v1h-1zM85 100h1v1h-1zM87 100h1v1h-1zM90 100h1v1h-1zM92 100h1v1h-1zM95 102h1v1h-1zM100 104h1v1h-1zM103 104h1v1h-1zM102 105h1v1h-1zM106 106h1v1h-1zM115 107h2v1h-2zM128 108h1v1h-1zM116 109h1v1h-1zM127 109h1v1h-1zM130 109h1v1h-1zM127 110h1v1h-1zM129 111h1v1h-1zM127 112h1v1h-1zM127 113h1v1h-1zM129 113h1v1h-1z"/>
<path fill="#fe00ff" d="M66 85h1v1h-1zM65 86h1v1h-1zM67 86h1v1h-1zM83 97h1v1h-1zM85 97h2v1h-2zM85 98h1v1h-1zM87 98h1v1h-1zM94 98h1v1h-1zM91 100h1v1h-1zM98 101h1v1h-1zM100 102h1v1h-1zM104 102h1v1h-1zM94 103h1v1h-1zM96 103h1v1h-1zM104 103h1v1h-1zM104 104h1v1h-1zM116 104h1v1h-1zM110 105h1v1h-1zM109 106h2v1h-2zM119 106h1v1h-1zM112 107h1v1h-1zM114 107h1v1h-1zM126 107h1v1h-1zM115 108h1v1h-1zM119 108h1v1h-1zM123 109h1v1h-1zM125 109h1v1h-1zM128 110h1v1h-1zM130 110h3v1h-3zM130 111h1v1h-1zM128 112h1v1h-1zM132 112h1v1h-1z"/>
<path fill="#f300ff" d="M64 83h1v1h-1zM67 83h1v1h-1zM64 84h1v1h-1zM66 84h1v1h-1zM71 91h1v1h-1zM77 95h1v1h-1zM80 96h1v1h-1zM95 101h1v1h-1zM102 102h2v1h-2zM105 102h1v1h-1zM101 103h1v1h-1zM103 103h1v1h-1zM105 103h1v1h-1zM105 104h1v1h-1zM109 104h1v1h-1zM118 105h1v1h-1zM120 105h1v1h-1zM113 106h1v1h-1zM115 106h1v1h-1zM121 106h1v1h-1zM120 108h1v1h-1zM123 108h2v1h-2zM126 109h1v1h-1zM128 109h2v1h-2zM131 109h1v1h-1zM129 110h1v1h-1zM127 111h1v1h-1z"/>
<path fill="#e800ff" d="M66 81h1v1h-1zM66 82h1v1h-1zM76 93h1v1h-1zM78 93h1v1h-1zM74 94h1v1h-1zM76 94h1v1h-1zM78 94h1v1h-1zM84 96h1v1h-1zM88 99h2v1h-2zM91 99h1v1h-1zM94 100h2v1h-2zM99 101h1v1h-1zM109 103h2v1h-2zM106 105h2v1h-2zM111 105h2v1h-2zM114 105h1v1h-1zM116 105h1v1h-1zM125 106h1v1h-1zM118 107h3v1h-3zM122 107h1v1h-1zM125 108h2v1h-2zM131 108h1v1h-1zM122 109h1v1h-1z"/>
<path fill="#dd00ff" d="M67 79h1v1h-1zM63 80h1v1h-1zM65 80h1v1h-1zM73 91h1v1h-1zM82 97h1v1h-1zM84 98h1v1h-1zM98 100h1v1h-1zM101 101h1v1h-1zM101 102h1v1h-1zM107 103h1v1h-1zM106 104h3v1h-3zM111 104h2v1h-2zM108 105h2v1h-2zM115 105h1v1h-1zM118 106h1v1h-1zM121 107h1v1h-1zM128 107h1v1h-1zM129 108h1v1h-1zM132 108h1v1h-1zM132 109h1v1h-1z"/>
<path fill="#d200ff" d="M64 77h1v1h-1zM66 77h1v1h-1zM65 78h1v1h-1zM71 89h1v1h-1zM73 90h1v1h-1zM76 92h1v1h-1zM77 93h1v1h-1zM89 98h1v1h-1zM93 99h2v1h-2zM96 101h2v1h-2zM100 101h1v1h-1zM99 102h1v1h-1zM98 103h1v1h-1zM111 103h1v1h-1zM102 104h1v1h-1zM110 104h1v1h-1zM114 104h1v1h-1zM125 105h1v1h-1zM114 106h1v1h-1zM117 106h1v1h-1zM120 106h1v1h-1zM123 106h1v1h-1zM123 107h1v1h-1zM127 107h1v1h-1zM127 108h1v1h-1zM130 108h1v1h-1z"/>
<path fill="#c700ff" d="M65 75h2v1h-2zM64 76h1v1h-1zM66 83h1v1h-1zM69 87h1v1h-1zM72 90h1v1h-1zM75 93h1v1h-1zM79 93h1v1h-1zM79 94h1v1h-1zM81 94h1v1h-1zM80 95h1v1h-1zM83 96h1v1h-1zM90 97h1v1h-1zM95 99h1v1h-1zM93 100h1v1h-1zM96 100h1v1h-1zM102 101h2v1h-2zM106 102h1v1h-1zM111 102h1v1h-1zM108 103h1v1h-1zM117 103h1v1h-1zM113 104h1v1h-1zM117 104h2v1h-2zM121 104h3v1h-3zM117 105h1v1h-1zM122 105h2v1h-2zM130 105h1v1h-1zM122 106h1v1h-1zM124 106h1v1h-1zM129 106h1v1h-1zM124 107h2v1h-2zM130 107h1v1h-1zM132 107h1v1h-1z"/>
<path fill="#bc00ff" d="M64 73h1v1h-1zM65 74h1v1h-1zM68 82h1v1h-1zM68 85h1v1h-1zM75 92h1v1h-1zM81 95h3v1h-3zM86 95h1v1h-1zM85 96h2v1h-2zM87 97h2v1h-2zM90 98h2v1h-2zM92 99h1v1h-1zM96 99h1v1h-1zM99 100h3v1h-3zM107 102h2v1h-2zM112 102h1v1h-1zM115 102h1v1h-1zM112 103h1v1h-1zM116 103h1v1h-1zM119 104h2v1h-2zM126 105h1v1h-1zM129 105h1v1h-1zM127 106h2v1h-2zM131 106h1v1h-1zM129 107h1v1h-1z"/>
<path fill="#b100ff" d="M63 71h1v1h-1zM66 71h1v1h-1zM64 72h1v1h-1zM68 79h1v1h-1zM66 80h1v1h-1zM68 86h1v1h-1zM77 92h1v1h-1zM88 96h1v1h-1zM95 96h1v1h-1zM91 97h1v1h-1zM92 98h1v1h-1zM97 99h1v1h-1zM97 100h1v1h-1zM102 100h2v1h-2zM105 101h1v1h-1zM113 103h2v1h-2zM119 103h1v1h-1zM127 103h1v1h-1zM115 104h1v1h-1zM124 104h2v1h-2zM119 105h1v1h-1zM121 105h1v1h-1zM124 105h1v1h-1zM127 105h1v1h-1zM126 106h1v1h-1z"/>
<path fill="#a700ff" d="M65 69h1v1h-1zM65 70h1v1h-1zM66 78h1v1h-1zM68 84h2v1h-2zM69 85h1v1h-1zM70 87h1v1h-1zM69 88h2v1h-2zM80 94h1v1h-1zM84 95h2v1h-2zM89 97h1v1h-1zM93 97h1v1h-1zM93 98h1v1h-1zM96 98h1v1h-1zM98 98h1v1h-1zM98 99h2v1h-2zM107 99h1v1h-1zM109 100h1v1h-1zM104 101h1v1h-1zM106 101h2v1h-2zM113 101h1v1h-1zM109 102h2v1h-2zM113 102h2v1h-2zM120 102h1v1h-1zM124 102h1v1h-1zM120 103h1v1h-1zM122 103h1v1h-1zM126 104h2v1h-2zM132 105h1v1h-1zM130 106h1v1h-1zM132 106h1v1h-1zM131 107h1v1h-1z"/>
<path fill="#9c00ff" d="M64 67h1v1h-1zM64 68h1v1h-1zM67 75h1v1h-1zM68 80h1v1h-1zM67 82h1v1h-1zM68 83h1v1h-1zM76 91h1v1h-1zM74 92h1v1h-1zM87 96h1v1h-1zM91 96h1v1h-1zM94 97h1v1h-1zM95 98h1v1h-1zM100 98h1v1h-1zM103 99h1v1h-1zM108 99h1v1h-1zM104 100h4v1h-4zM108 101h4v1h-4zM116 102h2v1h-2zM115 103h1v1h-1zM124 103h1v1h-1zM128 104h3v1h-3zM132 104h1v1h-1zM128 105h1v1h-1zM131 105h1v1h-1z"/>
<path fill="#9100ff" d="M62 65h1v1h-1zM64 65h1v1h-1zM66 65h1v1h-1zM62 66h1v1h-1zM64 66h1v1h-1zM65 73h2v1h-2zM67 78h1v1h-1zM67 80h1v1h-1zM68 81h1v1h-1zM69 86h1v1h-1zM72 89h1v1h-1zM74 91h2v1h-2zM78 91h1v1h-1zM80 92h1v1h-1zM80 93h2v1h-2zM82 94h1v1h-1zM89 96h2v1h-2zM92 96h1v1h-1zM92 97h1v1h-1zM97 98h1v1h-1zM101 98h1v1h-1zM100 99h3v1h-3zM104 99h2v1h-2zM108 100h1v1h-1zM111 100h1v1h-1zM112 101h1v1h-1zM114 101h2v1h-2zM117 101h1v1h-1zM119 101h3v1h-3zM121 102h1v1h-1zM118 103h1v1h-1zM121 103h1v1h-1zM123 103h1v1h-1zM126 103h1v1h-1z"/>
<path fill="#8600ff" d="M64 63h2v1h-2zM63 64h1v1h-1zM65 64h1v1h-1zM65 72h1v1h-1zM66 76h1v1h-1zM68 78h1v1h-1zM70 86h1v1h-1zM72 86h1v1h-1zM71 87h1v1h-1zM71 88h1v1h-1zM73 89h1v1h-1zM74 90h1v1h-1zM78 92h2v1h-2zM83 94h2v1h-2zM87 94h1v1h-1zM87 95h1v1h-1zM93 96h1v1h-1zM96 97h1v1h-1zM99 98h1v1h-1zM102 98h1v1h-1zM110 100h1v1h-1zM112 100h2v1h-2zM115 100h1v1h-1zM118 101h1v1h-1zM118 102h2v1h-2zM122 102h2v1h-2zM125 102h1v1h-1zM125 103h1v1h-1zM128 103h1v1h-1zM130 103h1v1h-1zM131 104h1v1h-1z"/>
<path fill="#7b00ff" d="M65 61h1v1h-1zM64 62h2v1h-2zM66 69h1v1h-1zM66 74h1v1h-1zM68 74h1v1h-1zM67 77h1v1h-1zM69 81h1v1h-1zM73 87h1v1h-1zM74 89h1v1h-1zM81 91h1v1h-1zM82 93h2v1h-2zM85 94h1v1h-1zM88 94h2v1h-2zM91 94h1v1h-1zM89 95h1v1h-1zM92 95h2v1h-2zM94 96h1v1h-1zM95 97h1v1h-1zM97 97h1v1h-1zM99 97h2v1h-2zM103 98h2v1h-2zM106 99h1v1h-1zM111 99h2v1h-2zM114 100h1v1h-1zM117 100h1v1h-1zM119 100h1v1h-1zM116 101h1v1h-1zM126 102h2v1h-2zM131 102h1v1h-1zM129 103h1v1h-1zM131 103h2v1h-2z"/>
<path fill="#7000ff" d="M62 59h1v1h-1zM64 60h1v1h-1zM67 74h1v1h-1zM68 77h1v1h-1zM69 80h1v1h-1zM69 83h1v1h-1zM71 84h1v1h-1zM71 85h1v1h-1zM71 86h1v1h-1zM75 90h1v1h-1zM77 90h1v1h-1zM80 91h1v1h-1zM84 93h1v1h-1zM88 95h1v1h-1zM90 95h2v1h-2zM94 95h1v1h-1zM96 96h3v1h-3zM98 97h1v1h-1zM101 97h1v1h-1zM105 98h5v1h-5zM109 99h2v1h-2zM113 99h3v1h-3zM118 100h1v1h-1zM121 100h1v1h-1zM122 101h6v1h-6zM128 102h1v1h-1z"/>
<path fill="#6500ff" d="M62 57h4v1h-4zM63 65h1v1h-1zM65 65h1v1h-1zM64 69h1v1h-1zM65 76h1v1h-1zM67 76h1v1h-1zM69 76h1v1h-1zM70 83h1v1h-1zM70 84h1v1h-1zM72 88h3v1h-3zM76 90h1v1h-1zM77 91h1v1h-1zM79 91h1v1h-1zM81 92h2v1h-2zM88 92h1v1h-1zM85 93h1v1h-1zM86 94h1v1h-1zM92 94h1v1h-1zM96 95h2v1h-2zM99 96h1v1h-1zM102 97h3v1h-3zM106 97h1v1h-1zM111 97h1v1h-1zM111 98h2v1h-2zM116 99h1v1h-1zM118 99h1v1h-1zM116 100h1v1h-1zM120 100h1v1h-1zM122 100h5v1h-5zM128 101h2v1h-2zM132 101h1v1h-1zM129 102h1v1h-1zM132 102h1v1h-1z"/>
<path fill="#5a00ff" d="M63 56h3v1h-3zM66 63h1v1h-1zM66 64h1v1h-1zM65 67h1v1h-1zM67 68h1v1h-1zM68 71h1v1h-1zM66 72h2v1h-2zM70 79h1v1h-1zM70 80h1v1h-1zM69 82h1v1h-1zM70 85h1v1h-1zM73 86h1v1h-1zM72 87h1v1h-1zM75 89h1v1h-1zM77 89h1v1h-1zM82 91h1v1h-1zM83 92h4v1h-4zM86 93h3v1h-3zM90 93h1v1h-1zM90 94h1v1h-1zM94 94h1v1h-1zM96 94h2v1h-2zM95 95h1v1h-1zM98 95h2v1h-2zM100 96h3v1h-3zM106 96h2v1h-2zM105 97h1v1h-1zM113 98h1v1h-1zM115 98h1v1h-1zM117 98h1v1h-1zM117 99h1v1h-1zM119 99h4v1h-4zM127 100h1v1h-1zM130 100h1v1h-1zM130 101h2v1h-2zM130 102h1v1h-1z"/>
<path fill="#5000ff" d="M51 54h1v1h-1zM56 54h2v1h-2zM65 54h1v1h-1zM60 55h1v1h-1zM63 55h1v1h-1zM66 61h1v1h-1zM65 66h1v1h-1zM67 70h1v1h-1zM69 77h1v1h-1zM72 84h1v1h-1zM72 85h2v1h-2zM74 87h1v1h-1zM76 89h1v1h-1zM78 89h1v1h-1zM78 90h4v1h-4zM84 91h1v1h-1zM86 91h1v1h-1zM87 92h1v1h-1zM89 93h1v1h-1zM91 93h1v1h-1zM95 94h1v1h-1zM102 95h1v1h-1zM103 96h2v1h-2zM110 96h1v1h-1zM107 97h4v1h-4zM112 97h1v1h-1zM110 98h1v1h-1zM114 98h1v1h-1zM116 98h1v1h-1zM118 98h1v1h-1zM123 99h2v1h-2zM126 99h1v1h-1zM128 100h2v1h-2zM131 100h1v1h-1z"/>
<path fill="#4500ff" d="M21 52h1v1h-1zM26 52h1v1h-1zM42 52h2v1h-2zM45 52h1v1h-1zM48 52h1v1h-1zM51 52h2v1h-2zM57 52h1v1h-1zM36 53h1v1h-1zM42 53h1v1h-1zM46 53h1v1h-1zM48 53h1v1h-1zM52 53h1v1h-1zM55 53h1v1h-1zM57 53h1v1h-1zM59 53h1v1h-1zM61 53h2v1h-2zM66 67h1v1h-1zM65 68h2v1h-2zM67 71h1v1h-1zM68 75h1v1h-1zM71 82h1v1h-1zM71 83h1v1h-1zM74 86h1v1h-1zM75 88h1v1h-1zM83 91h1v1h-1zM89 92h1v1h-1zM92 93h2v1h-2zM96 93h1v1h-1zM93 94h1v1h-1zM100 95h2v1h-2zM103 95h1v1h-1zM105 96h1v1h-1zM108 96h1v1h-1zM113 96h1v1h-1zM113 97h1v1h-1zM115 97h1v1h-1zM119 98h1v1h-1zM121 98h2v1h-2zM124 98h1v1h-1zM129 98h1v1h-1zM125 99h1v1h-1zM127 99h1v1h-1zM130 99h1v1h-1zM132 100h1v1h-1z"/>
<path fill="#3a00ff" d="M18 50h1v1h-1zM23 50h1v1h-1zM26 50h1v1h-1zM33 50h1v1h-1zM35 50h2v1h-2zM38 50h1v1h-1zM44 50h1v1h-1zM25 51h1v1h-1zM39 51h1v1h-1zM41 51h2v1h-2zM45 51h1v1h-1zM50 51h2v1h-2zM67 63h1v1h-1zM66 66h1v1h-1zM67 67h1v1h-1zM67 69h1v1h-1zM68 73h1v1h-1zM69 78h1v1h-1zM69 79h1v1h-1zM70 82h1v1h-1zM75 87h1v1h-1zM77 87h1v1h-1zM76 88h3v1h-3zM79 89h2v1h-2zM82 89h1v1h-1zM82 90h2v1h-2zM85 90h1v1h-1zM85 91h1v1h-1zM87 91h2v1h-2zM94 93h2v1h-2zM98 94h3v1h-3zM103 94h2v1h-2zM104 95h2v1h-2zM108 95h1v1h-1zM110 95h1v1h-1zM109 96h1v1h-1zM114 97h1v1h-1zM117 97h2v1h-2zM122 97h1v1h-1zM120 98h1v1h-1zM123 98h1v1h-1zM125 98h2v1h-2zM128 99h2v1h-2zM132 99h1v1h-1z"/>
<path fill="#2f00ff" d="M10 48h1v1h-1zM21 48h2v1h-2zM25 48h1v1h-1zM29 48h2v1h-2zM35 48h1v1h-1zM17 49h2v1h-2zM26 49h2v1h-2zM30 49h1v1h-1zM36 49h1v1h-1zM66 55h1v1h-1zM65 60h1v1h-1zM68 68h1v1h-1zM68 69h1v1h-1zM68 70h1v1h-1zM68 72h1v1h-1zM67 73h1v1h-1zM68 76h1v1h-1zM70 78h1v1h-1zM70 81h2v1h-2zM72 82h1v1h-1zM72 83h1v1h-1zM79 88h1v1h-1zM81 89h1v1h-1zM84 90h1v1h-1zM87 90h1v1h-1zM90 91h1v1h-1zM91 92h2v1h-2zM97 93h1v1h-1zM101 94h1v1h-1zM105 94h1v1h-1zM106 95h2v1h-2zM109 95h1v1h-1zM111 95h1v1h-1zM116 95h1v1h-1zM111 96h2v1h-2zM114 96h1v1h-1zM116 96h1v1h-1zM116 97h1v1h-1zM119 97h3v1h-3zM123 97h1v1h-1zM127 98h1v1h-1zM130 98h2v1h-2zM131 99h1v1h-1z"/>
<path fill="#2400ff" d="M15 46h4v1h-4zM20 46h1v1h-1zM25 46h1v1h-1zM13 47h1v1h-1zM15 47h4v1h-4zM21 47h1v1h-1zM23 47h1v1h-1zM45 53h1v1h-1zM65 53h1v1h-1zM58 54h1v1h-1zM64 54h1v1h-1zM67 65h1v1h-1zM67 66h2v1h-2zM68 67h1v1h-1zM69 71h1v1h-1zM69 72h1v1h-1zM69 75h1v1h-1zM71 79h1v1h-1zM71 80h1v1h-1zM72 81h1v1h-1zM73 83h1v1h-1zM73 84h1v1h-1zM80 88h2v1h-2zM83 89h2v1h-2zM86 90h1v1h-1zM89 91h1v1h-1zM91 91h1v1h-1zM90 92h1v1h-1zM93 92h2v1h-2zM98 93h2v1h-2zM101 93h1v1h-1zM102 94h1v1h-1zM107 94h1v1h-1zM109 94h1v1h-1zM112 95h2v1h-2zM115 96h1v1h-1zM117 96h2v1h-2zM120 96h1v1h-1zM124 96h1v1h-1zM125 97h1v1h-1zM128 97h2v1h-2zM128 98h1v1h-1z"/>
<path fill="#1900ff" d="M13 44h1v1h-1zM17 44h1v1h-1zM23 44h1v1h-1zM25 44h1v1h-1zM30 44h1v1h-1zM17 45h3v1h-3zM23 45h2v1h-2zM26 45h1v1h-1zM36 51h1v1h-1zM43 51h1v1h-1zM48 51h1v1h-1zM33 52h1v1h-1zM41 52h1v1h-1zM44 52h1v1h-1zM50 52h1v1h-1zM58 52h3v1h-3zM62 52h1v1h-1zM66 57h1v1h-1zM67 62h1v1h-1zM69 74h1v1h-1zM70 77h1v1h-1zM71 78h1v1h-1zM74 84h1v1h-1zM74 85h1v1h-1zM75 86h2v1h-2zM76 87h1v1h-1zM78 87h2v1h-2zM84 88h1v1h-1zM85 89h1v1h-1zM88 90h3v1h-3zM92 91h1v1h-1zM95 91h1v1h-1zM95 92h3v1h-3zM100 93h1v1h-1zM102 93h1v1h-1zM106 94h1v1h-1zM108 94h1v1h-1zM110 94h1v1h-1zM114 95h2v1h-2zM117 95h1v1h-1zM119 95h1v1h-1zM119 96h1v1h-1zM121 96h3v1h-3zM125 96h1v1h-1zM124 97h1v1h-1zM126 97h2v1h-2zM130 97h1v1h-1zM132 97h1v1h-1zM132 98h1v1h-1z"/>
<path fill="#0e00ff" d="M11 42h1v1h-1zM18 42h1v1h-1zM22 42h1v1h-1zM29 42h1v1h-1zM13 43h1v1h-1zM28 43h1v1h-1zM29 49h1v1h-1zM31 49h2v1h-2zM37 49h1v1h-1zM20 50h1v1h-1zM29 50h1v1h-1zM31 50h1v1h-1zM34 50h1v1h-1zM39 50h2v1h-2zM47 50h1v1h-1zM66 54h1v1h-1zM64 55h1v1h-1zM66 58h1v1h-1zM67 59h1v1h-1zM66 60h2v1h-2zM67 61h1v1h-1zM67 64h2v1h-2zM69 69h1v1h-1zM69 73h1v1h-1zM70 75h1v1h-1zM70 76h2v1h-2zM71 77h1v1h-1zM72 78h1v1h-1zM72 80h1v1h-1zM75 85h1v1h-1zM77 86h2v1h-2zM80 87h1v1h-1zM82 88h2v1h-2zM86 89h4v1h-4zM91 90h3v1h-3zM93 91h2v1h-2zM98 92h4v1h-4zM103 93h3v1h-3zM108 93h1v1h-1zM111 94h3v1h-3zM115 94h1v1h-1zM118 95h1v1h-1zM120 95h1v1h-1zM122 95h1v1h-1zM126 96h6v1h-6zM131 97h1v1h-1z"/>
<path fill="#0400ff" d="M12 40h1v1h-1zM15 40h1v1h-1zM18 40h1v1h-1zM21 40h1v1h-1zM11 41h2v1h-2zM15 41h1v1h-1zM17 41h1v1h-1zM19 41h2v1h-2zM25 41h2v1h-2zM22 47h1v1h-1zM24 47h1v1h-1zM28 47h1v1h-1zM32 47h1v1h-1zM23 48h2v1h-2zM26 48h1v1h-1zM28 48h1v1h-1zM47 52h1v1h-1zM53 52h2v1h-2zM66 62h1v1h-1zM68 65h1v1h-1zM69 70h1v1h-1zM72 79h1v1h-1zM73 80h1v1h-1zM76 84h1v1h-1zM76 85h3v1h-3zM79 86h1v1h-1zM82 87h2v1h-2zM86 87h1v1h-1zM85 88h2v1h-2zM94 90h1v1h-1zM97 90h1v1h-1zM96 91h3v1h-3zM100 91h1v1h-1zM104 91h1v1h-1zM102 92h3v1h-3zM108 92h1v1h-1zM106 93h2v1h-2zM109 93h2v1h-2zM114 93h1v1h-1zM114 94h1v1h-1zM116 94h1v1h-1zM119 94h1v1h-1zM121 95h1v1h-1zM123 95h2v1h-2zM126 95h1v1h-1zM132 96h1v1h-1z"/>
<path fill="#0007ff" d="M10 38h2v1h-2zM15 38h2v1h-2zM18 38h1v1h-1zM20 38h1v1h-1zM23 38h1v1h-1zM28 38h1v1h-1zM13 39h1v1h-1zM16 39h1v1h-1zM19 39h1v1h-1zM23 39h1v1h-1zM25 39h2v1h-2zM29 39h1v1h-1zM22 45h1v1h-1zM25 45h1v1h-1zM27 45h1v1h-1zM33 45h1v1h-1zM23 46h1v1h-1zM26 46h2v1h-2zM34 46h1v1h-1zM37 50h1v1h-1zM28 51h1v1h-1zM44 51h1v1h-1zM47 51h1v1h-1zM54 51h1v1h-1zM59 51h1v1h-1zM60 53h1v1h-1zM64 53h1v1h-1zM66 59h1v1h-1zM70 73h1v1h-1zM72 75h1v1h-1zM72 77h1v1h-1zM74 80h1v1h-1zM73 81h1v1h-1zM73 82h1v1h-1zM74 83h1v1h-1zM75 84h1v1h-1zM78 84h1v1h-1zM79 85h1v1h-1zM81 85h2v1h-2zM80 86h4v1h-4zM81 87h1v1h-1zM84 87h1v1h-1zM87 87h1v1h-1zM87 88h3v1h-3zM91 88h2v1h-2zM90 89h5v1h-5zM95 90h2v1h-2zM98 90h2v1h-2zM99 91h1v1h-1zM101 91h3v1h-3zM105 92h3v1h-3zM110 92h1v1h-1zM111 93h3v1h-3zM116 93h2v1h-2zM121 93h1v1h-1zM117 94h2v1h-2zM120 94h2v1h-2zM124 94h1v1h-1zM125 95h1v1h-1zM127 95h2v1h-2zM131 95h1v1h-1z"/>
<path fill="#0012ff" d="M12 36h1v1h-1zM16 36h1v1h-1zM18 36h4v1h-4zM23 36h1v1h-1zM15 37h1v1h-1zM21 37h1v1h-1zM23 37h1v1h-1zM19 44h2v1h-2zM24 44h1v1h-1zM31 48h4v1h-4zM33 49h2v1h-2zM46 51h1v1h-1zM66 56h1v1h-1zM68 62h1v1h-1zM69 67h1v1h-1zM69 68h1v1h-1zM70 71h1v1h-1zM70 72h1v1h-1zM70 74h1v1h-1zM71 75h1v1h-1zM73 79h1v1h-1zM74 82h2v1h-2zM77 83h2v1h-2zM77 84h1v1h-1zM80 84h3v1h-3zM80 85h1v1h-1zM84 86h4v1h-4zM85 87h1v1h-1zM88 87h3v1h-3zM90 88h1v1h-1zM94 88h2v1h-2zM95 89h4v1h-4zM100 90h4v1h-4zM105 91h3v1h-3zM109 91h1v1h-1zM109 92h1v1h-1zM111 92h1v1h-1zM113 92h2v1h-2zM115 93h1v1h-1zM118 93h1v1h-1zM120 93h1v1h-1zM122 94h2v1h-2zM125 94h4v1h-4zM129 95h2v1h-2zM132 95h1v1h-1z"/>
<path fill="#001dff" d="M12 34h2v1h-2zM19 34h1v1h-1zM16 35h1v1h-1zM18 35h1v1h-1zM23 35h1v1h-1zM17 42h1v1h-1zM27 42h1v1h-1zM17 43h1v1h-1zM20 43h1v1h-1zM22 43h1v1h-1zM28 46h1v1h-1zM30 46h2v1h-2zM29 47h1v1h-1zM31 47h1v1h-1zM34 47h1v1h-1zM35 49h1v1h-1zM38 49h1v1h-1zM40 49h1v1h-1zM42 50h2v1h-2zM46 50h1v1h-1zM52 51h1v1h-1zM57 51h1v1h-1zM60 51h1v1h-1zM63 52h2v1h-2zM66 53h1v1h-1zM67 58h1v1h-1zM68 63h1v1h-1zM70 69h1v1h-1zM70 70h1v1h-1zM71 72h1v1h-1zM71 74h1v1h-1zM72 76h2v1h-2zM73 77h1v1h-1zM73 78h1v1h-1zM74 81h4v1h-4zM76 82h3v1h-3zM75 83h2v1h-2zM79 83h3v1h-3zM79 84h1v1h-1zM83 84h1v1h-1zM83 85h3v1h-3zM88 86h1v1h-1zM94 87h1v1h-1zM93 88h1v1h-1zM98 88h1v1h-1zM99 89h5v1h-5zM104 90h4v1h-4zM110 90h1v1h-1zM108 91h1v1h-1zM110 91h3v1h-3zM114 91h1v1h-1zM112 92h1v1h-1zM115 92h5v1h-5zM122 92h1v1h-1zM119 93h1v1h-1zM122 93h3v1h-3zM126 93h2v1h-2zM129 94h4v1h-4z"/>
<path fill="#0028ff" d="M11 32h2v1h-2zM18 32h1v1h-1zM20 32h1v1h-1zM24 32h1v1h-1zM13 33h1v1h-1zM15 33h2v1h-2zM22 33h2v1h-2zM17 40h1v1h-1zM23 40h3v1h-3zM28 40h1v1h-1zM30 41h1v1h-1zM26 44h1v1h-1zM28 44h2v1h-2zM29 45h1v1h-1zM33 47h1v1h-1zM35 47h1v1h-1zM27 48h1v1h-1zM36 48h1v1h-1zM48 50h1v1h-1zM51 50h2v1h-2zM61 52h1v1h-1zM67 56h1v1h-1zM68 58h1v1h-1zM68 61h1v1h-1zM69 63h1v1h-1zM69 65h1v1h-1zM69 66h1v1h-1zM70 67h1v1h-1zM71 70h1v1h-1zM71 71h1v1h-1zM71 73h1v1h-1zM72 74h1v1h-1zM73 75h1v1h-1zM74 79h1v1h-1zM75 80h1v1h-1zM79 81h1v1h-1zM79 82h3v1h-3zM83 82h1v1h-1zM82 83h1v1h-1zM85 84h1v1h-1zM89 84h1v1h-1zM86 85h4v1h-4zM89 86h2v1h-2zM92 86h3v1h-3zM91 87h3v1h-3zM95 87h3v1h-3zM96 88h2v1h-2zM99 88h3v1h-3zM104 89h2v1h-2zM107 89h2v1h-2zM108 90h2v1h-2zM111 90h4v1h-4zM113 91h1v1h-1zM115 91h4v1h-4zM120 92h2v1h-2zM123 92h1v1h-1zM125 93h1v1h-1zM128 93h4v1h-4z"/>
<path fill="#0033ff" d="M11 30h1v1h-1zM14 30h1v1h-1zM13 31h2v1h-2zM21 38h1v1h-1zM24 38h1v1h-1zM26 38h1v1h-1zM14 39h1v1h-1zM21 39h1v1h-1zM27 39h1v1h-1zM25 42h1v1h-1zM28 42h1v1h-1zM24 43h1v1h-1zM27 43h1v1h-1zM29 43h1v1h-1zM28 45h1v1h-1zM34 45h1v1h-1zM21 46h1v1h-1zM29 46h1v1h-1zM32 46h1v1h-1zM35 46h1v1h-1zM38 48h2v1h-2zM42 49h2v1h-2zM47 49h1v1h-1zM41 50h1v1h-1zM49 51h1v1h-1zM53 51h1v1h-1zM55 51h1v1h-1zM58 51h1v1h-1zM65 55h1v1h-1zM67 57h1v1h-1zM68 60h1v1h-1zM69 64h1v1h-1zM70 66h1v1h-1zM70 68h1v1h-1zM71 69h1v1h-1zM72 71h1v1h-1zM72 73h1v1h-1zM73 74h1v1h-1zM74 77h1v1h-1zM74 78h1v1h-1zM75 79h2v1h-2zM77 80h2v1h-2zM80 80h1v1h-1zM78 81h1v1h-1zM81 81h1v1h-1zM82 82h1v1h-1zM85 82h1v1h-1zM83 83h3v1h-3zM84 84h1v1h-1zM86 84h2v1h-2zM90 85h3v1h-3zM91 86h1v1h-1zM95 86h2v1h-2zM98 87h3v1h-3zM103 87h1v1h-1zM102 88h3v1h-3zM106 89h1v1h-1zM109 89h4v1h-4zM115 90h1v1h-1zM117 90h1v1h-1zM119 91h2v1h-2zM122 91h1v1h-1zM124 91h1v1h-1zM124 92h3v1h-3zM130 92h1v1h-1zM132 93h1v1h-1z"/>
<path fill="#003eff" d="M14 28h1v1h-1zM16 28h2v1h-2zM20 28h1v1h-1zM24 28h1v1h-1zM13 29h2v1h-2zM16 29h1v1h-1zM19 29h1v1h-1zM22 29h2v1h-2zM25 36h1v1h-1zM18 37h1v1h-1zM22 37h1v1h-1zM25 37h1v1h-1zM28 37h1v1h-1zM26 40h1v1h-1zM30 40h2v1h-2zM27 41h1v1h-1zM31 41h1v1h-1zM32 44h1v1h-1zM33 46h1v1h-1zM39 49h1v1h-1zM41 49h1v1h-1zM56 51h1v1h-1zM69 60h1v1h-1zM69 61h1v1h-1zM69 62h1v1h-1zM70 65h1v1h-1zM72 72h1v1h-1zM73 73h1v1h-1zM74 76h1v1h-1zM75 78h1v1h-1zM77 78h1v1h-1zM77 79h3v1h-3zM76 80h1v1h-1zM79 80h1v1h-1zM80 81h1v1h-1zM82 81h2v1h-2zM84 82h1v1h-1zM88 82h1v1h-1zM86 83h3v1h-3zM92 83h1v1h-1zM88 84h1v1h-1zM90 84h3v1h-3zM93 85h4v1h-4zM97 86h3v1h-3zM101 87h2v1h-2zM105 87h2v1h-2zM105 88h5v1h-5zM111 88h1v1h-1zM113 89h3v1h-3zM118 89h1v1h-1zM116 90h1v1h-1zM118 90h4v1h-4zM121 91h1v1h-1zM123 91h1v1h-1zM125 91h2v1h-2zM127 92h3v1h-3zM131 92h2v1h-2z"/>
<path fill="#0049ff" d="M13 27h3v1h-3zM19 27h1v1h-1zM21 27h1v1h-1zM27 27h1v1h-1zM25 34h1v1h-1zM24 35h1v1h-1zM27 35h1v1h-1zM22 39h1v1h-1zM24 39h1v1h-1zM23 41h1v1h-1zM26 42h1v1h-1zM30 42h1v1h-1zM27 44h1v1h-1zM33 44h1v1h-1zM31 45h1v1h-1zM37 48h1v1h-1zM43 48h1v1h-1zM45 49h2v1h-2zM45 50h1v1h-1zM49 50h1v1h-1zM53 50h1v1h-1zM61 51h1v1h-1zM65 52h1v1h-1zM67 55h1v1h-1zM68 59h1v1h-1zM70 60h1v1h-1zM70 64h2v1h-2zM71 66h1v1h-1zM71 68h1v1h-1zM72 70h1v1h-1zM74 75h1v1h-1zM77 77h1v1h-1zM76 78h1v1h-1zM78 78h1v1h-1zM80 79h1v1h-1zM81 80h2v1h-2zM84 80h1v1h-1zM84 81h2v1h-2zM86 82h2v1h-2zM90 82h1v1h-1zM89 83h2v1h-2zM94 83h1v1h-1zM93 84h3v1h-3zM97 85h1v1h-1zM100 86h2v1h-2zM103 86h1v1h-1zM105 86h2v1h-2zM104 87h1v1h-1zM107 87h1v1h-1zM110 88h1v1h-1zM112 88h2v1h-2zM115 88h1v1h-1zM116 89h2v1h-2zM119 89h1v1h-1zM122 90h4v1h-4zM127 91h5v1h-5z"/>
<path fill="#0053ff" d="M14 24h1v1h-1zM19 24h2v1h-2zM25 24h1v1h-1zM28 24h1v1h-1zM15 25h1v1h-1zM17 25h1v1h-1zM21 25h1v1h-1zM23 25h1v1h-1zM25 25h1v1h-1zM15 32h1v1h-1zM21 32h1v1h-1zM19 33h1v1h-1zM24 33h1v1h-1zM24 36h1v1h-1zM26 37h2v1h-2zM29 37h1v1h-1zM32 42h1v1h-1zM30 43h1v1h-1zM31 44h1v1h-1zM30 45h1v1h-1zM32 45h1v1h-1zM35 45h2v1h-2zM36 46h1v1h-1zM36 47h2v1h-2zM44 49h1v1h-1zM50 50h1v1h-1zM70 61h1v1h-1zM70 63h1v1h-1zM71 67h2v1h-2zM72 69h1v1h-1zM73 72h1v1h-1zM74 73h1v1h-1zM74 74h1v1h-1zM75 76h3v1h-3zM75 77h1v1h-1zM78 77h2v1h-2zM79 78h4v1h-4zM81 79h3v1h-3zM83 80h1v1h-1zM85 80h2v1h-2zM86 81h5v1h-5zM89 82h1v1h-1zM91 82h2v1h-2zM94 82h1v1h-1zM91 83h1v1h-1zM93 83h1v1h-1zM95 83h2v1h-2zM96 84h4v1h-4zM98 85h5v1h-5zM104 85h1v1h-1zM102 86h1v1h-1zM104 86h1v1h-1zM107 86h2v1h-2zM110 86h1v1h-1zM108 87h6v1h-6zM115 87h1v1h-1zM114 88h1v1h-1zM116 88h4v1h-4zM120 89h3v1h-3zM124 89h1v1h-1zM126 90h3v1h-3zM132 91h1v1h-1z"/>
<path fill="#005eff" d="M12 22h1v1h-1zM16 22h1v1h-1zM20 22h2v1h-2zM14 23h1v1h-1zM19 23h1v1h-1zM26 23h1v1h-1zM12 30h2v1h-2zM15 30h1v1h-1zM17 30h1v1h-1zM19 30h2v1h-2zM23 30h1v1h-1zM21 31h1v1h-1zM24 31h2v1h-2zM22 34h1v1h-1zM24 34h1v1h-1zM27 34h1v1h-1zM19 35h1v1h-1zM25 35h1v1h-1zM24 37h1v1h-1zM27 38h1v1h-1zM29 38h1v1h-1zM31 38h1v1h-1zM27 40h1v1h-1zM32 40h1v1h-1zM28 41h1v1h-1zM26 43h1v1h-1zM32 43h2v1h-2zM39 47h1v1h-1zM40 48h2v1h-2zM49 49h1v1h-1zM54 50h2v1h-2zM63 51h1v1h-1zM69 56h1v1h-1zM68 57h1v1h-1zM69 58h2v1h-2zM71 61h1v1h-1zM70 62h1v1h-1zM71 65h2v1h-2zM72 68h1v1h-1zM73 69h1v1h-1zM73 70h1v1h-1zM73 71h1v1h-1zM75 75h4v1h-4zM79 76h1v1h-1zM76 77h1v1h-1zM80 77h1v1h-1zM82 77h1v1h-1zM84 78h1v1h-1zM84 79h5v1h-5zM87 80h3v1h-3zM91 81h2v1h-2zM93 82h1v1h-1zM95 82h2v1h-2zM97 83h2v1h-2zM100 83h1v1h-1zM100 84h4v1h-4zM103 85h1v1h-1zM105 85h1v1h-1zM107 85h2v1h-2zM109 86h1v1h-1zM111 86h1v1h-1zM114 87h1v1h-1zM116 87h2v1h-2zM120 88h1v1h-1zM123 89h1v1h-1zM125 89h4v1h-4zM129 90h4v1h-4z"/>
<path fill="#0069ff" d="M12 20h6v1h-6zM20 20h2v1h-2zM24 20h1v1h-1zM13 21h1v1h-1zM17 21h2v1h-2zM30 28h1v1h-1zM15 29h1v1h-1zM27 29h1v1h-1zM19 32h1v1h-1zM22 32h1v1h-1zM26 32h1v1h-1zM21 33h1v1h-1zM26 33h1v1h-1zM29 35h1v1h-1zM30 36h1v1h-1zM28 39h1v1h-1zM29 41h1v1h-1zM32 41h1v1h-1zM33 42h1v1h-1zM36 44h1v1h-1zM43 47h1v1h-1zM42 48h1v1h-1zM45 48h1v1h-1zM48 49h1v1h-1zM67 53h1v1h-1zM69 57h1v1h-1zM69 59h1v1h-1zM71 62h1v1h-1zM71 63h1v1h-1zM72 66h1v1h-1zM73 68h1v1h-1zM74 71h1v1h-1zM74 72h1v1h-1zM75 74h4v1h-4zM80 75h1v1h-1zM78 76h1v1h-1zM80 76h3v1h-3zM81 77h1v1h-1zM83 77h2v1h-2zM83 78h1v1h-1zM85 78h3v1h-3zM89 79h2v1h-2zM90 80h5v1h-5zM93 81h3v1h-3zM97 82h2v1h-2zM99 83h1v1h-1zM101 83h1v1h-1zM103 83h1v1h-1zM104 84h4v1h-4zM106 85h1v1h-1zM109 85h2v1h-2zM112 85h1v1h-1zM112 86h5v1h-5zM118 87h4v1h-4zM121 88h6v1h-6zM129 89h1v1h-1z"/>
<path fill="#0074ff" d="M15 18h1v1h-1zM19 18h1v1h-1zM11 19h1v1h-1zM16 19h1v1h-1zM18 19h3v1h-3zM22 19h1v1h-1zM26 19h1v1h-1zM21 26h1v1h-1zM24 26h1v1h-1zM18 27h1v1h-1zM16 30h1v1h-1zM18 30h1v1h-1zM22 30h1v1h-1zM25 33h1v1h-1zM26 34h1v1h-1zM26 36h1v1h-1zM31 37h2v1h-2zM32 39h2v1h-2zM29 40h1v1h-1zM33 40h1v1h-1zM33 41h1v1h-1zM31 42h1v1h-1zM35 42h1v1h-1zM31 43h1v1h-1zM36 43h1v1h-1zM34 44h1v1h-1zM38 46h1v1h-1zM62 51h1v1h-1zM64 51h2v1h-2zM66 52h1v1h-1zM67 54h2v1h-2zM68 55h1v1h-1zM68 56h1v1h-1zM70 59h1v1h-1zM75 72h1v1h-1zM75 73h3v1h-3zM79 74h2v1h-2zM79 75h1v1h-1zM81 75h2v1h-2zM83 76h1v1h-1zM85 77h2v1h-2zM88 78h1v1h-1zM91 79h3v1h-3zM96 81h3v1h-3zM99 82h3v1h-3zM102 83h1v1h-1zM104 83h2v1h-2zM108 84h3v1h-3zM111 85h1v1h-1zM113 85h3v1h-3zM117 86h4v1h-4zM122 87h4v1h-4zM127 88h1v1h-1zM130 89h3v1h-3z"/>
<path fill="#007fff" d="M15 16h1v1h-1zM17 16h2v1h-2zM20 16h1v1h-1zM23 16h2v1h-2zM14 17h1v1h-1zM21 17h3v1h-3zM26 17h1v1h-1zM18 24h1v1h-1zM21 24h1v1h-1zM23 24h2v1h-2zM18 25h2v1h-2zM24 25h1v1h-1zM27 25h1v1h-1zM18 28h1v1h-1zM29 28h1v1h-1zM24 29h1v1h-1zM26 29h1v1h-1zM19 31h1v1h-1zM22 31h1v1h-1zM28 34h2v1h-2zM28 35h1v1h-1zM27 36h1v1h-1zM29 36h1v1h-1zM30 37h1v1h-1zM34 38h1v1h-1zM30 39h1v1h-1zM34 41h1v1h-1zM34 42h1v1h-1zM34 43h2v1h-2zM35 44h1v1h-1zM40 46h1v1h-1zM38 47h1v1h-1zM40 47h2v1h-2zM44 48h1v1h-1zM46 48h1v1h-1zM56 50h3v1h-3zM60 50h1v1h-1zM66 51h1v1h-1zM67 52h1v1h-1zM68 53h1v1h-1zM69 55h1v1h-1zM70 57h1v1h-1zM71 60h1v1h-1zM72 64h1v1h-1zM73 67h1v1h-1zM74 69h2v1h-2zM74 70h1v1h-1zM75 71h1v1h-1zM77 71h1v1h-1zM76 72h3v1h-3zM78 73h3v1h-3zM81 74h2v1h-2zM83 75h2v1h-2zM84 76h2v1h-2zM87 76h1v1h-1zM87 77h2v1h-2zM89 78h2v1h-2zM92 78h1v1h-1zM94 79h2v1h-2zM95 80h5v1h-5zM99 81h4v1h-4zM102 82h5v1h-5zM106 83h4v1h-4zM111 84h4v1h-4zM116 85h3v1h-3zM121 86h1v1h-1zM123 86h1v1h-1zM126 87h3v1h-3zM128 88h4v1h-4z"/>
<path fill="#008aff" d="M13 14h1v1h-1zM15 14h1v1h-1zM19 14h2v1h-2zM23 14h2v1h-2zM11 15h1v1h-1zM21 15h2v1h-2zM24 15h1v1h-1zM15 22h1v1h-1zM17 22h3v1h-3zM23 22h2v1h-2zM27 22h1v1h-1zM29 22h1v1h-1zM16 23h1v1h-1zM22 23h3v1h-3zM30 26h1v1h-1zM20 27h1v1h-1zM24 27h1v1h-1zM27 32h1v1h-1zM29 32h1v1h-1zM32 32h1v1h-1zM27 33h2v1h-2zM33 36h1v1h-1zM30 38h1v1h-1zM32 38h1v1h-1zM34 39h1v1h-1zM35 41h1v1h-1zM37 42h1v1h-1zM37 44h1v1h-1zM41 44h1v1h-1zM37 45h3v1h-3zM37 46h1v1h-1zM41 46h4v1h-4zM42 47h1v1h-1zM44 47h4v1h-4zM47 48h2v1h-2zM50 49h1v1h-1zM52 49h1v1h-1zM54 49h1v1h-1zM59 50h1v1h-1zM61 50h1v1h-1zM63 50h1v1h-1zM71 59h1v1h-1zM72 63h1v1h-1zM73 65h1v1h-1zM73 66h1v1h-1zM74 68h1v1h-1zM75 70h3v1h-3zM76 71h1v1h-1zM78 71h1v1h-1zM80 71h1v1h-1zM79 72h1v1h-1zM81 73h2v1h-2zM83 74h1v1h-1zM85 74h1v1h-1zM87 74h1v1h-1zM85 75h1v1h-1zM87 75h1v1h-1zM86 76h1v1h-1zM88 76h3v1h-3zM89 77h6v1h-6zM91 78h1v1h-1zM93 78h3v1h-3zM96 79h2v1h-2zM100 80h3v1h-3zM104 80h1v1h-1zM103 81h5v1h-5zM107 82h4v1h-4zM110 83h5v1h-5zM115 84h5v1h-5zM119 85h4v1h-4zM122 86h1v1h-1zM124 86h4v1h-4zM129 87h2v1h-2zM132 88h1v1h-1z"/>
<path fill="#0095ff" d="M16 13h1v1h-1zM19 13h1v1h-1zM21 13h3v1h-3zM18 20h1v1h-1zM26 20h1v1h-1zM14 21h1v1h-1zM21 21h1v1h-1zM29 24h1v1h-1zM20 25h1v1h-1zM22 25h1v1h-1zM22 28h1v1h-1zM30 29h1v1h-1zM21 30h1v1h-1zM24 30h2v1h-2zM30 34h1v1h-1zM26 35h1v1h-1zM31 35h2v1h-2zM31 36h1v1h-1zM34 36h1v1h-1zM34 37h1v1h-1zM33 38h1v1h-1zM31 39h1v1h-1zM35 40h1v1h-1zM38 40h1v1h-1zM36 41h1v1h-1zM40 42h1v1h-1zM37 43h3v1h-3zM41 43h1v1h-1zM43 45h1v1h-1zM39 46h1v1h-1zM48 47h1v1h-1zM49 48h1v1h-1zM53 48h1v1h-1zM51 49h1v1h-1zM53 49h1v1h-1zM55 49h2v1h-2zM70 56h1v1h-1zM72 62h1v1h-1zM73 64h1v1h-1zM74 66h1v1h-1zM74 67h1v1h-1zM75 68h1v1h-1zM76 69h3v1h-3zM78 70h1v1h-1zM79 71h1v1h-1zM81 71h1v1h-1zM80 72h5v1h-5zM83 73h2v1h-2zM86 73h1v1h-1zM84 74h1v1h-1zM86 74h1v1h-1zM88 74h1v1h-1zM86 75h1v1h-1zM88 75h4v1h-4zM91 76h3v1h-3zM95 77h3v1h-3zM96 78h4v1h-4zM98 79h5v1h-5zM103 80h1v1h-1zM105 80h3v1h-3zM108 81h1v1h-1zM111 82h4v1h-4zM115 83h3v1h-3zM119 83h1v1h-1zM120 84h2v1h-2zM123 85h3v1h-3zM128 86h3v1h-3zM131 87h2v1h-2z"/>
<path fill="#00a0ff" d="M11 11h1v1h-1zM15 11h1v1h-1zM19 11h1v1h-1zM22 11h1v1h-1zM24 11h1v1h-1zM11 12h2v1h-2zM16 12h1v1h-1zM18 12h1v1h-1zM21 12h1v1h-1zM24 12h1v1h-1zM26 12h1v1h-1zM12 18h2v1h-2zM16 18h1v1h-1zM22 18h1v1h-1zM24 18h2v1h-2zM24 19h1v1h-1zM27 23h1v1h-1zM29 23h1v1h-1zM27 26h1v1h-1zM25 27h1v1h-1zM28 27h2v1h-2zM23 28h1v1h-1zM25 28h1v1h-1zM27 28h1v1h-1zM28 29h2v1h-2zM31 29h1v1h-1zM27 31h1v1h-1zM30 31h1v1h-1zM33 31h1v1h-1zM30 32h1v1h-1zM32 33h1v1h-1zM31 34h1v1h-1zM34 34h1v1h-1zM30 35h1v1h-1zM33 37h1v1h-1zM36 38h1v1h-1zM35 39h2v1h-2zM34 40h1v1h-1zM36 42h1v1h-1zM40 43h1v1h-1zM40 45h2v1h-2zM45 45h1v1h-1zM45 46h3v1h-3zM49 47h1v1h-1zM50 48h1v1h-1zM52 48h1v1h-1zM57 49h2v1h-2zM62 50h1v1h-1zM68 52h1v1h-1zM69 54h1v1h-1zM70 55h1v1h-1zM71 58h1v1h-1zM72 59h1v1h-1zM72 60h1v1h-1zM72 61h2v1h-2zM73 62h1v1h-1zM73 63h1v1h-1zM74 65h1v1h-1zM75 67h2v1h-2zM76 68h3v1h-3zM79 69h2v1h-2zM79 70h5v1h-5zM82 71h3v1h-3zM85 72h2v1h-2zM85 73h1v1h-1zM87 73h2v1h-2zM90 73h1v1h-1zM89 74h4v1h-4zM92 75h2v1h-2zM94 76h3v1h-3zM98 77h1v1h-1zM100 78h4v1h-4zM103 79h4v1h-4zM108 80h1v1h-1zM110 80h2v1h-2zM109 81h5v1h-5zM115 82h3v1h-3zM118 83h1v1h-1zM120 83h3v1h-3zM122 84h4v1h-4zM126 85h4v1h-4zM131 86h1v1h-1z"/>
<path fill="#00aaff" d="M9 9h1v1h-1zM12 9h1v1h-1zM17 9h1v1h-1zM20 9h2v1h-2zM27 9h1v1h-1zM29 9h1v1h-1zM12 10h1v1h-1zM19 10h3v1h-3zM25 10h1v1h-1zM27 10h1v1h-1zM19 16h1v1h-1zM21 16h1v1h-1zM25 16h1v1h-1zM29 16h1v1h-1zM24 17h2v1h-2zM15 21h2v1h-2zM23 21h1v1h-1zM25 22h2v1h-2zM26 25h1v1h-1zM25 26h2v1h-2zM28 26h2v1h-2zM31 26h1v1h-1zM26 27h1v1h-1zM28 28h1v1h-1zM26 30h2v1h-2zM26 31h1v1h-1zM28 31h2v1h-2zM31 31h1v1h-1zM28 32h1v1h-1zM31 32h1v1h-1zM30 33h1v1h-1zM34 35h1v1h-1zM28 36h1v1h-1zM32 36h1v1h-1zM36 37h1v1h-1zM35 38h1v1h-1zM39 42h1v1h-1zM43 43h1v1h-1zM38 44h3v1h-3zM43 44h3v1h-3zM42 45h1v1h-1zM44 45h1v1h-1zM48 46h1v1h-1zM51 47h1v1h-1zM51 48h1v1h-1zM59 49h1v1h-1zM64 50h1v1h-1zM66 50h1v1h-1zM69 53h1v1h-1zM71 56h1v1h-1zM71 57h1v1h-1zM74 63h1v1h-1zM74 64h1v1h-1zM75 65h2v1h-2zM75 66h3v1h-3zM80 66h1v1h-1zM77 67h3v1h-3zM79 68h3v1h-3zM81 69h2v1h-2zM84 69h1v1h-1zM84 70h2v1h-2zM85 71h2v1h-2zM87 72h3v1h-3zM89 73h1v1h-1zM91 73h1v1h-1zM93 74h3v1h-3zM94 75h4v1h-4zM97 76h3v1h-3zM99 77h4v1h-4zM104 77h1v1h-1zM104 78h3v1h-3zM107 79h3v1h-3zM109 80h1v1h-1zM112 80h3v1h-3zM114 81h5v1h-5zM118 82h4v1h-4zM123 83h1v1h-1zM126 84h3v1h-3zM130 85h2v1h-2zM132 86h1v1h-1z"/>
<path fill="#00b5ff" d="M18 7h1v1h-1zM22 7h1v1h-1zM17 8h1v1h-1zM20 8h1v1h-1zM25 8h1v1h-1zM22 14h1v1h-1zM25 14h1v1h-1zM27 14h1v1h-1zM19 15h1v1h-1zM25 15h2v1h-2zM21 19h1v1h-1zM25 19h1v1h-1zM27 19h1v1h-1zM30 19h1v1h-1zM27 20h2v1h-2zM28 22h1v1h-1zM25 23h1v1h-1zM28 23h1v1h-1zM27 24h1v1h-1zM28 25h1v1h-1zM32 28h1v1h-1zM21 29h1v1h-1zM32 31h1v1h-1zM29 33h1v1h-1zM33 34h1v1h-1zM33 35h1v1h-1zM36 40h2v1h-2zM37 41h2v1h-2zM38 42h1v1h-1zM41 42h1v1h-1zM42 43h1v1h-1zM50 47h1v1h-1zM53 47h1v1h-1zM54 48h3v1h-3zM65 50h1v1h-1zM67 51h1v1h-1zM70 53h1v1h-1zM70 54h1v1h-1zM72 58h1v1h-1zM73 59h1v1h-1zM73 60h1v1h-1zM74 62h1v1h-1zM75 63h1v1h-1zM75 64h3v1h-3zM77 65h1v1h-1zM78 66h2v1h-2zM81 66h2v1h-2zM80 67h3v1h-3zM82 68h4v1h-4zM83 69h1v1h-1zM85 69h2v1h-2zM86 70h2v1h-2zM87 71h5v1h-5zM90 72h2v1h-2zM93 72h1v1h-1zM92 73h2v1h-2zM96 73h1v1h-1zM96 74h1v1h-1zM98 75h2v1h-2zM100 76h3v1h-3zM104 76h1v1h-1zM103 77h1v1h-1zM105 77h1v1h-1zM107 77h1v1h-1zM107 78h3v1h-3zM110 79h4v1h-4zM115 80h3v1h-3zM119 81h2v1h-2zM122 82h3v1h-3zM124 83h4v1h-4zM129 84h3v1h-3zM132 85h1v1h-1z"/>
<path fill="#00c0ff" d="M13 5h1v1h-1zM15 5h1v1h-1zM19 5h2v1h-2zM27 5h2v1h-2zM17 6h4v1h-4zM22 6h1v1h-1zM25 6h1v1h-1zM28 13h1v1h-1zM14 18h1v1h-1zM18 18h1v1h-1zM20 18h1v1h-1zM19 20h1v1h-1zM23 20h1v1h-1zM25 20h1v1h-1zM22 21h1v1h-1zM24 21h1v1h-1zM30 22h1v1h-1zM32 24h1v1h-1zM31 25h1v1h-1zM33 26h1v1h-1zM31 27h1v1h-1zM32 29h2v1h-2zM34 32h1v1h-1zM31 33h1v1h-1zM33 33h1v1h-1zM32 34h1v1h-1zM36 35h1v1h-1zM35 37h1v1h-1zM37 39h1v1h-1zM39 40h2v1h-2zM39 41h2v1h-2zM42 42h1v1h-1zM44 42h1v1h-1zM44 43h2v1h-2zM42 44h1v1h-1zM46 45h1v1h-1zM49 46h2v1h-2zM60 49h2v1h-2zM68 51h1v1h-1zM69 52h1v1h-1zM71 55h1v1h-1zM74 61h1v1h-1zM75 62h1v1h-1zM76 63h4v1h-4zM78 64h1v1h-1zM80 64h1v1h-1zM78 65h5v1h-5zM83 67h2v1h-2zM86 68h1v1h-1zM87 69h2v1h-2zM88 70h2v1h-2zM91 70h1v1h-1zM92 71h1v1h-1zM92 72h1v1h-1zM94 72h2v1h-2zM94 73h2v1h-2zM97 73h1v1h-1zM97 74h4v1h-4zM100 75h4v1h-4zM103 76h1v1h-1zM105 76h2v1h-2zM106 77h1v1h-1zM108 77h2v1h-2zM110 78h3v1h-3zM114 79h3v1h-3zM118 80h3v1h-3zM121 81h3v1h-3zM125 82h2v1h-2zM128 83h3v1h-3zM132 84h1v1h-1z"/>
<path fill="#00cbff" d="M14 3h1v1h-1zM17 3h2v1h-2zM21 3h1v1h-1zM25 3h1v1h-1zM17 4h1v1h-1zM21 4h2v1h-2zM25 4h2v1h-2zM30 4h1v1h-1zM28 10h1v1h-1zM18 11h1v1h-1zM26 11h1v1h-1zM27 15h1v1h-1zM22 16h1v1h-1zM26 16h1v1h-1zM17 18h1v1h-1zM31 19h1v1h-1zM29 20h1v1h-1zM25 21h1v1h-1zM28 21h1v1h-1zM30 23h1v1h-1zM31 24h1v1h-1zM30 25h1v1h-1zM30 27h1v1h-1zM31 28h1v1h-1zM30 30h1v1h-1zM34 31h1v1h-1zM34 33h2v1h-2zM35 34h1v1h-1zM35 35h1v1h-1zM35 36h2v1h-2zM38 39h2v1h-2zM42 40h1v1h-1zM46 44h2v1h-2zM47 45h2v1h-2zM51 46h2v1h-2zM52 47h1v1h-1zM54 47h2v1h-2zM57 48h1v1h-1zM62 49h2v1h-2zM67 50h1v1h-1zM71 54h1v1h-1zM72 56h1v1h-1zM72 57h1v1h-1zM73 58h1v1h-1zM74 59h1v1h-1zM74 60h3v1h-3zM75 61h3v1h-3zM76 62h3v1h-3zM80 63h1v1h-1zM79 64h1v1h-1zM81 64h2v1h-2zM83 65h1v1h-1zM85 65h1v1h-1zM83 66h3v1h-3zM85 67h2v1h-2zM87 68h2v1h-2zM90 68h1v1h-1zM89 69h2v1h-2zM90 70h1v1h-1zM92 70h1v1h-1zM93 71h4v1h-4zM96 72h3v1h-3zM98 73h3v1h-3zM101 74h3v1h-3zM104 75h4v1h-4zM107 76h3v1h-3zM110 77h3v1h-3zM113 78h4v1h-4zM117 79h3v1h-3zM121 80h3v1h-3zM124 81h3v1h-3zM127 82h3v1h-3zM131 83h2v1h-2z"/>
<path fill="#00d6ff" d="M11 1h1v1h-1zM20 1h1v1h-1zM22 1h1v1h-1zM25 1h1v1h-1zM27 1h1v1h-1zM15 2h1v1h-1zM17 2h1v1h-1zM20 2h1v1h-1zM25 2h1v1h-1zM29 2h1v1h-1zM18 8h1v1h-1zM22 8h1v1h-1zM24 9h2v1h-2zM26 13h1v1h-1zM29 17h2v1h-2zM21 18h1v1h-1zM29 19h1v1h-1zM30 20h1v1h-1zM31 23h2v1h-2zM33 24h1v1h-1zM29 25h1v1h-1zM32 27h1v1h-1zM33 28h1v1h-1zM29 30h1v1h-1zM31 30h1v1h-1zM33 32h1v1h-1zM36 34h1v1h-1zM37 35h2v1h-2zM38 37h2v1h-2zM37 38h1v1h-1zM39 38h2v1h-2zM41 40h1v1h-1zM41 41h4v1h-4zM43 42h1v1h-1zM46 43h1v1h-1zM48 44h1v1h-1zM49 45h1v1h-1zM54 46h1v1h-1zM58 48h1v1h-1zM64 49h1v1h-1zM66 49h1v1h-1zM70 52h1v1h-1zM71 53h1v1h-1zM72 55h1v1h-1zM73 56h1v1h-1zM74 58h2v1h-2zM76 59h1v1h-1zM77 60h2v1h-2zM78 61h2v1h-2zM79 62h4v1h-4zM81 63h2v1h-2zM83 64h1v1h-1zM84 65h1v1h-1zM86 66h1v1h-1zM87 67h3v1h-3zM89 68h1v1h-1zM91 68h1v1h-1zM91 69h3v1h-3zM93 70h3v1h-3zM97 71h2v1h-2zM99 72h1v1h-1zM101 72h1v1h-1zM101 73h3v1h-3zM104 74h2v1h-2zM107 74h2v1h-2zM108 75h3v1h-3zM110 76h3v1h-3zM113 77h3v1h-3zM117 78h3v1h-3zM120 79h2v1h-2zM124 80h1v1h-1zM127 81h2v1h-2zM130 82h3v1h-3z"/>
<path fill="#00e1ff" d="M9 0h1v1h-1zM19 0h1v1h-1zM22 0h2v1h-2zM25 0h2v1h-2zM23 6h1v1h-1zM27 6h2v1h-2zM30 6h1v1h-1zM28 7h1v1h-1zM23 11h1v1h-1zM28 11h1v1h-1zM30 11h1v1h-1zM26 14h1v1h-1zM30 15h1v1h-1zM28 16h1v1h-1zM28 17h1v1h-1zM23 18h1v1h-1zM26 21h1v1h-1zM30 24h1v1h-1zM32 25h1v1h-1zM32 26h1v1h-1zM34 27h1v1h-1zM34 28h1v1h-1zM35 29h1v1h-1zM28 30h1v1h-1zM35 31h1v1h-1zM37 36h4v1h-4zM37 37h1v1h-1zM38 38h1v1h-1zM40 39h3v1h-3zM44 39h1v1h-1zM43 40h1v1h-1zM45 42h1v1h-1zM53 46h1v1h-1zM56 47h1v1h-1zM59 48h1v1h-1zM65 49h1v1h-1zM68 50h2v1h-2zM69 51h1v1h-1zM71 52h1v1h-1zM72 54h1v1h-1zM73 55h1v1h-1zM74 56h2v1h-2zM73 57h5v1h-5zM76 58h3v1h-3zM75 59h1v1h-1zM77 59h3v1h-3zM79 60h3v1h-3zM80 61h2v1h-2zM83 62h1v1h-1zM83 63h2v1h-2zM84 64h3v1h-3zM86 65h3v1h-3zM87 66h4v1h-4zM90 67h3v1h-3zM92 68h2v1h-2zM94 69h3v1h-3zM96 70h3v1h-3zM99 71h3v1h-3zM100 72h1v1h-1zM102 72h3v1h-3zM104 73h3v1h-3zM106 74h1v1h-1zM109 74h1v1h-1zM111 75h2v1h-2zM113 76h4v1h-4zM116 77h3v1h-3zM120 78h2v1h-2zM122 79h4v1h-4zM125 80h4v1h-4zM129 81h3v1h-3z"/>
<path fill="#00ecff" d="M24 4h1v1h-1zM28 4h1v1h-1zM29 5h1v1h-1zM28 9h1v1h-1zM18 10h1v1h-1zM26 10h1v1h-1zM29 10h1v1h-1zM27 12h1v1h-1zM29 12h1v1h-1zM25 13h1v1h-1zM30 13h1v1h-1zM29 15h1v1h-1zM27 17h1v1h-1zM26 18h1v1h-1zM28 19h1v1h-1zM32 19h1v1h-1zM27 21h1v1h-1zM29 21h1v1h-1zM32 21h1v1h-1zM32 22h1v1h-1zM33 23h1v1h-1zM34 26h1v1h-1zM32 30h2v1h-2zM35 32h1v1h-1zM36 33h2v1h-2zM40 35h1v1h-1zM41 38h1v1h-1zM45 40h1v1h-1zM45 41h1v1h-1zM46 42h1v1h-1zM47 43h2v1h-2zM49 44h2v1h-2zM50 45h2v1h-2zM55 46h1v1h-1zM62 48h1v1h-1zM67 49h1v1h-1zM70 51h1v1h-1zM72 51h1v1h-1zM72 53h1v1h-1zM73 54h2v1h-2zM76 56h1v1h-1zM79 57h1v1h-1zM79 58h1v1h-1zM80 59h1v1h-1zM82 60h1v1h-1zM82 61h3v1h-3zM84 62h2v1h-2zM85 63h2v1h-2zM87 64h1v1h-1zM89 65h2v1h-2zM91 66h2v1h-2zM93 67h3v1h-3zM94 68h4v1h-4zM97 69h2v1h-2zM99 70h3v1h-3zM102 71h2v1h-2zM105 72h2v1h-2zM107 73h3v1h-3zM110 74h3v1h-3zM113 75h4v1h-4zM117 76h2v1h-2zM119 77h3v1h-3zM122 78h3v1h-3zM126 79h2v1h-2zM129 80h3v1h-3zM132 81h1v1h-1z"/>
<path fill="#00f6ff" d="M24 2h1v1h-1zM27 2h1v1h-1zM31 2h1v1h-1zM22 3h2v1h-2zM29 7h2v1h-2zM27 8h2v1h-2zM32 8h1v1h-1zM30 10h1v1h-1zM28 12h1v1h-1zM27 13h1v1h-1zM28 14h3v1h-3zM32 14h1v1h-1zM30 16h1v1h-1zM33 16h1v1h-1zM31 20h1v1h-1zM33 20h1v1h-1zM33 25h2v1h-2zM33 27h1v1h-1zM34 29h1v1h-1zM38 33h1v1h-1zM37 34h1v1h-1zM40 34h1v1h-1zM39 35h1v1h-1zM41 35h1v1h-1zM42 36h1v1h-1zM40 37h2v1h-2zM43 37h1v1h-1zM42 38h1v1h-1zM43 39h1v1h-1zM44 40h1v1h-1zM46 40h1v1h-1zM46 41h1v1h-1zM47 42h1v1h-1zM52 45h3v1h-3zM58 46h1v1h-1zM57 47h2v1h-2zM60 48h2v1h-2zM64 48h1v1h-1zM71 51h1v1h-1zM72 52h1v1h-1zM73 53h3v1h-3zM75 54h1v1h-1zM74 55h4v1h-4zM77 56h2v1h-2zM78 57h1v1h-1zM80 58h2v1h-2zM81 59h3v1h-3zM83 60h2v1h-2zM85 61h1v1h-1zM86 62h2v1h-2zM87 63h2v1h-2zM88 64h4v1h-4zM91 65h3v1h-3zM93 66h3v1h-3zM96 67h2v1h-2zM98 68h2v1h-2zM99 69h2v1h-2zM102 69h1v1h-1zM102 70h4v1h-4zM104 71h3v1h-3zM107 72h3v1h-3zM110 73h3v1h-3zM113 74h3v1h-3zM117 75h2v1h-2zM119 76h3v1h-3zM122 77h2v1h-2zM125 78h2v1h-2zM128 79h3v1h-3zM132 80h1v1h-1z"/>
<path fill="#00fffd" d="M22 5h1v1h-1zM26 8h1v1h-1zM26 9h1v1h-1zM30 9h1v1h-1zM27 11h1v1h-1zM32 12h1v1h-1zM29 13h1v1h-1zM32 13h1v1h-1zM28 15h1v1h-1zM32 16h1v1h-1zM32 17h1v1h-1zM32 20h1v1h-1zM31 22h1v1h-1zM35 27h1v1h-1zM36 29h1v1h-1zM34 30h1v1h-1zM36 31h1v1h-1zM36 32h3v1h-3zM43 33h1v1h-1zM41 34h1v1h-1zM41 36h1v1h-1zM42 37h1v1h-1zM44 37h1v1h-1zM44 38h1v1h-1zM45 39h1v1h-1zM47 40h1v1h-1zM49 40h1v1h-1zM47 41h1v1h-1zM48 42h1v1h-1zM49 43h2v1h-2zM52 43h1v1h-1zM51 44h2v1h-2zM54 44h1v1h-1zM55 45h1v1h-1zM56 46h1v1h-1zM63 48h1v1h-1zM65 48h2v1h-2zM68 49h2v1h-2zM70 50h2v1h-2zM73 52h2v1h-2zM76 53h1v1h-1zM76 54h3v1h-3zM78 55h2v1h-2zM79 56h3v1h-3zM80 57h2v1h-2zM82 58h1v1h-1zM84 59h2v1h-2zM85 60h1v1h-1zM86 61h2v1h-2zM88 62h2v1h-2zM89 63h2v1h-2zM92 64h2v1h-2zM94 65h1v1h-1zM96 66h1v1h-1zM98 67h1v1h-1zM100 68h2v1h-2zM101 69h1v1h-1zM103 69h2v1h-2zM106 70h1v1h-1zM107 71h3v1h-3zM110 72h3v1h-3zM113 73h3v1h-3zM116 74h3v1h-3zM119 75h2v1h-2zM122 76h2v1h-2zM124 77h3v1h-3zM127 78h3v1h-3zM131 79h2v1h-2z"/>
<path fill="#00fff2" d="M12 0h1v1h-1zM20 0h2v1h-2zM27 3h2v1h-2zM33 3h1v1h-1zM29 6h1v1h-1zM31 6h1v1h-1zM31 7h1v1h-1zM33 9h1v1h-1zM31 15h1v1h-1zM31 17h1v1h-1zM27 18h1v1h-1zM33 19h1v1h-1zM34 20h1v1h-1zM36 20h1v1h-1zM30 21h2v1h-2zM35 21h1v1h-1zM34 22h1v1h-1zM34 23h1v1h-1zM34 24h1v1h-1zM35 25h2v1h-2zM35 26h2v1h-2zM36 27h1v1h-1zM35 28h1v1h-1zM37 28h1v1h-1zM37 29h2v1h-2zM35 30h1v1h-1zM37 31h1v1h-1zM39 31h1v1h-1zM41 31h1v1h-1zM43 31h1v1h-1zM39 32h2v1h-2zM39 33h1v1h-1zM41 33h1v1h-1zM38 34h2v1h-2zM43 34h1v1h-1zM42 35h3v1h-3zM43 36h1v1h-1zM43 38h1v1h-1zM45 38h2v1h-2zM46 39h1v1h-1zM48 39h1v1h-1zM50 41h1v1h-1zM49 42h3v1h-3zM51 43h1v1h-1zM53 43h2v1h-2zM53 44h1v1h-1zM55 44h2v1h-2zM56 45h2v1h-2zM57 46h1v1h-1zM59 46h1v1h-1zM59 47h6v1h-6zM66 47h1v1h-1zM67 48h2v1h-2zM72 50h1v1h-1zM73 51h2v1h-2zM75 52h2v1h-2zM77 53h1v1h-1zM82 57h1v1h-1zM83 58h2v1h-2zM86 59h1v1h-1zM86 60h2v1h-2zM88 61h2v1h-2zM90 62h2v1h-2zM91 63h2v1h-2zM94 64h1v1h-1zM95 65h2v1h-2zM97 66h3v1h-3zM99 67h2v1h-2zM102 68h2v1h-2zM105 69h3v1h-3zM107 70h3v1h-3zM110 71h2v1h-2zM113 72h2v1h-2zM116 73h2v1h-2zM119 74h3v1h-3zM121 75h3v1h-3zM124 76h3v1h-3zM127 77h3v1h-3zM130 78h3v1h-3z"/>
<path fill="#00ffe7" d="M34 1h1v1h-1zM26 2h1v1h-1zM33 2h1v1h-1zM27 4h1v1h-1zM25 7h1v1h-1zM34 7h1v1h-1zM31 9h1v1h-1zM31 10h3v1h-3zM31 13h1v1h-1zM33 13h1v1h-1zM31 14h1v1h-1zM33 14h2v1h-2zM32 15h2v1h-2zM35 15h1v1h-1zM31 16h1v1h-1zM33 22h1v1h-1zM35 22h1v1h-1zM37 22h1v1h-1zM35 23h2v1h-2zM35 24h2v1h-2zM41 26h1v1h-1zM37 27h1v1h-1zM36 28h1v1h-1zM38 28h3v1h-3zM39 29h4v1h-4zM38 31h1v1h-1zM40 31h1v1h-1zM42 31h1v1h-1zM41 32h2v1h-2zM44 32h1v1h-1zM40 33h1v1h-1zM42 33h1v1h-1zM44 33h1v1h-1zM42 34h1v1h-1zM44 34h1v1h-1zM45 35h2v1h-2zM44 36h3v1h-3zM45 37h3v1h-3zM47 38h2v1h-2zM47 39h1v1h-1zM49 39h1v1h-1zM48 40h1v1h-1zM50 40h2v1h-2zM48 41h2v1h-2zM52 42h1v1h-1zM55 43h1v1h-1zM57 44h1v1h-1zM58 45h3v1h-3zM60 46h3v1h-3zM64 46h1v1h-1zM65 47h1v1h-1zM67 47h2v1h-2zM69 48h2v1h-2zM70 49h3v1h-3zM73 50h2v1h-2zM75 51h1v1h-1zM78 53h1v1h-1zM79 54h1v1h-1zM80 55h2v1h-2zM82 56h1v1h-1zM83 57h2v1h-2zM85 58h1v1h-1zM88 60h1v1h-1zM90 61h2v1h-2zM92 62h1v1h-1zM93 63h2v1h-2zM95 64h2v1h-2zM97 65h2v1h-2zM100 66h2v1h-2zM101 67h3v1h-3zM104 68h3v1h-3zM108 69h2v1h-2zM110 70h3v1h-3zM112 71h3v1h-3zM115 72h3v1h-3zM118 73h3v1h-3zM122 74h1v1h-1zM124 75h3v1h-3zM127 76h4v1h-4zM130 77h3v1h-3z"/>
<path fill="#00ffdc" d="M27 0h1v1h-1zM28 2h1v1h-1zM36 2h1v1h-1zM26 3h1v1h-1zM31 3h1v1h-1zM35 3h1v1h-1zM32 5h1v1h-1zM27 7h1v1h-1zM35 11h1v1h-1zM31 12h1v1h-1zM34 12h1v1h-1zM38 12h1v1h-1zM34 13h1v1h-1zM35 14h1v1h-1zM34 15h1v1h-1zM33 17h1v1h-1zM35 17h1v1h-1zM40 17h1v1h-1zM28 18h3v1h-3zM35 19h1v1h-1zM39 19h1v1h-1zM39 20h1v1h-1zM36 22h1v1h-1zM37 23h2v1h-2zM42 24h1v1h-1zM37 25h1v1h-1zM39 25h3v1h-3zM37 26h3v1h-3zM38 27h4v1h-4zM41 28h1v1h-1zM43 29h1v1h-1zM36 30h1v1h-1zM45 31h1v1h-1zM43 32h1v1h-1zM45 32h1v1h-1zM45 33h1v1h-1zM47 33h1v1h-1zM45 34h3v1h-3zM47 35h1v1h-1zM48 36h1v1h-1zM48 37h2v1h-2zM49 38h2v1h-2zM50 39h3v1h-3zM54 40h1v1h-1zM51 41h4v1h-4zM53 42h4v1h-4zM56 43h2v1h-2zM58 44h2v1h-2zM61 45h1v1h-1zM63 45h1v1h-1zM63 46h1v1h-1zM65 46h2v1h-2zM69 47h2v1h-2zM71 48h2v1h-2zM73 49h1v1h-1zM76 51h2v1h-2zM77 52h2v1h-2zM79 53h1v1h-1zM80 54h1v1h-1zM82 55h1v1h-1zM83 56h1v1h-1zM85 57h1v1h-1zM86 58h1v1h-1zM87 59h2v1h-2zM89 60h3v1h-3zM92 61h1v1h-1zM93 62h2v1h-2zM95 63h2v1h-2zM97 64h2v1h-2zM99 65h2v1h-2zM102 66h2v1h-2zM104 67h3v1h-3zM107 68h2v1h-2zM110 69h2v1h-2zM113 70h3v1h-3zM115 71h3v1h-3zM118 72h3v1h-3zM121 73h3v1h-3zM123 74h4v1h-4zM127 75h3v1h-3zM131 76h2v1h-2z"/>
<path fill="#00ffd2" d="M28 0h1v1h-1zM34 0h1v1h-1zM30 1h2v1h-2zM29 3h1v1h-1zM29 4h1v1h-1zM31 5h1v1h-1zM34 6h1v1h-1zM31 8h1v1h-1zM32 9h1v1h-1zM29 11h1v1h-1zM31 11h1v1h-1zM34 11h1v1h-1zM30 12h1v1h-1zM33 12h1v1h-1zM36 12h1v1h-1zM36 13h1v1h-1zM36 14h1v1h-1zM35 16h1v1h-1zM37 16h2v1h-2zM34 17h1v1h-1zM38 17h1v1h-1zM34 19h1v1h-1zM36 19h1v1h-1zM35 20h1v1h-1zM37 20h1v1h-1zM33 21h2v1h-2zM38 22h2v1h-2zM41 22h1v1h-1zM38 24h4v1h-4zM38 25h1v1h-1zM40 26h1v1h-1zM42 26h2v1h-2zM42 27h2v1h-2zM42 28h1v1h-1zM44 28h1v1h-1zM44 29h2v1h-2zM37 30h1v1h-1zM39 30h1v1h-1zM44 31h1v1h-1zM46 31h1v1h-1zM46 33h1v1h-1zM48 33h1v1h-1zM48 35h1v1h-1zM47 36h1v1h-1zM49 36h1v1h-1zM50 37h1v1h-1zM51 38h1v1h-1zM52 40h2v1h-2zM55 40h1v1h-1zM56 41h1v1h-1zM57 42h3v1h-3zM58 43h1v1h-1zM60 43h1v1h-1zM60 44h2v1h-2zM63 44h2v1h-2zM62 45h1v1h-1zM64 45h4v1h-4zM67 46h4v1h-4zM71 47h1v1h-1zM74 49h2v1h-2zM75 50h1v1h-1zM78 51h1v1h-1zM79 52h1v1h-1zM80 53h1v1h-1zM81 54h2v1h-2zM83 55h1v1h-1zM84 56h2v1h-2zM86 57h1v1h-1zM87 58h2v1h-2zM89 59h1v1h-1zM92 60h1v1h-1zM93 61h2v1h-2zM95 62h2v1h-2zM97 63h2v1h-2zM99 64h2v1h-2zM101 65h3v1h-3zM104 66h3v1h-3zM107 67h2v1h-2zM109 68h3v1h-3zM112 69h3v1h-3zM116 70h1v1h-1zM118 71h3v1h-3zM121 72h3v1h-3zM124 73h4v1h-4zM127 74h4v1h-4zM130 75h3v1h-3z"/>
<path fill="#00ffc7" d="M28 1h1v1h-1zM30 2h1v1h-1zM30 3h1v1h-1zM32 3h1v1h-1zM34 3h1v1h-1zM31 4h1v1h-1zM32 7h1v1h-1zM29 8h2v1h-2zM33 8h1v1h-1zM37 8h2v1h-2zM34 9h2v1h-2zM37 9h1v1h-1zM35 10h1v1h-1zM32 11h1v1h-1zM35 13h1v1h-1zM36 15h1v1h-1zM39 15h1v1h-1zM36 16h1v1h-1zM36 17h1v1h-1zM39 17h1v1h-1zM31 18h2v1h-2zM37 19h2v1h-2zM41 19h1v1h-1zM37 21h1v1h-1zM40 22h1v1h-1zM40 23h1v1h-1zM37 24h1v1h-1zM42 25h2v1h-2zM44 26h1v1h-1zM44 27h1v1h-1zM43 28h1v1h-1zM45 28h1v1h-1zM47 29h1v1h-1zM38 30h1v1h-1zM40 30h3v1h-3zM46 32h1v1h-1zM48 32h2v1h-2zM48 34h1v1h-1zM49 35h2v1h-2zM50 36h2v1h-2zM51 37h2v1h-2zM52 38h2v1h-2zM53 39h2v1h-2zM56 40h1v1h-1zM55 41h1v1h-1zM57 41h1v1h-1zM59 43h1v1h-1zM61 43h3v1h-3zM62 44h1v1h-1zM66 44h1v1h-1zM68 45h2v1h-2zM71 46h1v1h-1zM72 47h2v1h-2zM73 48h2v1h-2zM76 49h1v1h-1zM76 50h2v1h-2zM80 52h1v1h-1zM81 53h1v1h-1zM83 54h1v1h-1zM84 55h2v1h-2zM87 57h2v1h-2zM89 58h2v1h-2zM90 59h3v1h-3zM93 60h2v1h-2zM95 61h2v1h-2zM97 62h2v1h-2zM99 63h3v1h-3zM101 64h3v1h-3zM104 65h2v1h-2zM107 66h2v1h-2zM109 67h3v1h-3zM112 68h2v1h-2zM115 69h3v1h-3zM117 70h4v1h-4zM121 71h3v1h-3zM124 72h3v1h-3zM128 73h2v1h-2zM131 74h2v1h-2z"/>
<path fill="#00ffbc" d="M30 0h1v1h-1zM29 1h1v1h-1zM33 1h1v1h-1zM34 2h1v1h-1zM34 4h1v1h-1zM30 5h1v1h-1zM33 5h1v1h-1zM35 5h1v1h-1zM36 6h1v1h-1zM35 7h1v1h-1zM38 7h1v1h-1zM34 8h1v1h-1zM34 10h1v1h-1zM36 10h1v1h-1zM38 10h1v1h-1zM33 11h1v1h-1zM36 11h1v1h-1zM39 14h1v1h-1zM37 15h1v1h-1zM41 15h1v1h-1zM34 16h1v1h-1zM37 17h1v1h-1zM40 19h1v1h-1zM38 20h1v1h-1zM40 20h2v1h-2zM36 21h1v1h-1zM39 23h1v1h-1zM41 23h2v1h-2zM44 23h1v1h-1zM43 24h1v1h-1zM45 25h1v1h-1zM45 26h1v1h-1zM45 27h2v1h-2zM46 28h1v1h-1zM46 29h1v1h-1zM43 30h2v1h-2zM46 30h1v1h-1zM47 31h2v1h-2zM47 32h1v1h-1zM49 34h2v1h-2zM52 35h1v1h-1zM52 36h2v1h-2zM53 37h1v1h-1zM55 37h1v1h-1zM54 38h1v1h-1zM55 39h2v1h-2zM57 40h1v1h-1zM58 41h1v1h-1zM60 42h1v1h-1zM64 43h3v1h-3zM65 44h1v1h-1zM67 44h3v1h-3zM70 45h2v1h-2zM72 46h2v1h-2zM75 48h1v1h-1zM77 49h1v1h-1zM78 50h1v1h-1zM79 51h2v1h-2zM81 52h1v1h-1zM82 53h2v1h-2zM84 54h1v1h-1zM86 55h1v1h-1zM86 56h2v1h-2zM89 57h1v1h-1zM91 58h2v1h-2zM93 59h2v1h-2zM95 60h2v1h-2zM97 61h2v1h-2zM99 62h2v1h-2zM102 63h2v1h-2zM104 64h3v1h-3zM106 65h3v1h-3zM109 66h3v1h-3zM112 67h2v1h-2zM114 68h4v1h-4zM118 69h4v1h-4zM121 70h3v1h-3zM124 71h3v1h-3zM127 72h3v1h-3zM130 73h3v1h-3z"/>
<path fill="#00ffb1" d="M31 0h2v1h-2zM36 0h1v1h-1zM32 4h2v1h-2zM35 4h2v1h-2zM34 5h1v1h-1zM32 6h1v1h-1zM40 6h1v1h-1zM36 7h1v1h-1zM36 9h1v1h-1zM37 11h1v1h-1zM35 12h1v1h-1zM40 12h1v1h-1zM37 13h1v1h-1zM42 13h1v1h-1zM37 14h2v1h-2zM40 14h2v1h-2zM38 15h1v1h-1zM39 16h2v1h-2zM42 17h1v1h-1zM34 18h1v1h-1zM42 19h3v1h-3zM42 20h2v1h-2zM38 21h2v1h-2zM42 21h1v1h-1zM44 24h2v1h-2zM44 25h1v1h-1zM47 28h1v1h-1zM45 30h1v1h-1zM47 30h1v1h-1zM50 32h1v1h-1zM49 33h2v1h-2zM51 34h2v1h-2zM51 35h1v1h-1zM53 35h1v1h-1zM54 37h1v1h-1zM56 37h1v1h-1zM55 38h2v1h-2zM57 39h1v1h-1zM58 40h1v1h-1zM59 41h1v1h-1zM61 42h5v1h-5zM67 43h1v1h-1zM70 44h1v1h-1zM72 45h1v1h-1zM74 47h2v1h-2zM76 48h2v1h-2zM78 49h1v1h-1zM79 50h1v1h-1zM81 51h1v1h-1zM82 52h2v1h-2zM84 53h1v1h-1zM85 54h2v1h-2zM87 55h2v1h-2zM88 56h3v1h-3zM90 57h2v1h-2zM93 58h2v1h-2zM95 59h1v1h-1zM97 60h2v1h-2zM99 61h2v1h-2zM101 62h2v1h-2zM104 63h2v1h-2zM107 64h2v1h-2zM109 65h3v1h-3zM112 66h2v1h-2zM114 67h4v1h-4zM118 68h3v1h-3zM122 69h2v1h-2zM124 70h3v1h-3zM127 71h3v1h-3zM130 72h3v1h-3z"/>
<path fill="#00ffa7" d="M32 1h1v1h-1zM35 1h1v1h-1zM32 2h1v1h-1zM36 5h1v1h-1zM33 6h1v1h-1zM38 6h1v1h-1zM33 7h1v1h-1zM37 7h1v1h-1zM35 8h1v1h-1zM41 8h1v1h-1zM38 9h1v1h-1zM37 10h1v1h-1zM38 11h2v1h-2zM37 12h1v1h-1zM39 12h1v1h-1zM39 13h1v1h-1zM40 15h1v1h-1zM41 16h1v1h-1zM41 17h1v1h-1zM43 17h1v1h-1zM33 18h1v1h-1zM44 20h1v1h-1zM40 21h2v1h-2zM42 22h5v1h-5zM43 23h1v1h-1zM45 23h2v1h-2zM46 25h1v1h-1zM46 26h1v1h-1zM47 27h1v1h-1zM48 29h3v1h-3zM49 31h2v1h-2zM51 32h1v1h-1zM51 33h2v1h-2zM53 34h1v1h-1zM54 35h1v1h-1zM54 36h2v1h-2zM57 38h1v1h-1zM58 39h1v1h-1zM59 40h3v1h-3zM60 41h6v1h-6zM66 42h2v1h-2zM68 43h3v1h-3zM71 44h1v1h-1zM73 45h1v1h-1zM74 46h1v1h-1zM76 47h1v1h-1zM79 49h1v1h-1zM80 50h2v1h-2zM82 51h1v1h-1zM85 53h1v1h-1zM87 54h1v1h-1zM89 55h1v1h-1zM91 56h1v1h-1zM92 57h2v1h-2zM95 58h1v1h-1zM96 59h2v1h-2zM99 60h2v1h-2zM101 61h3v1h-3zM103 62h3v1h-3zM106 63h3v1h-3zM109 64h2v1h-2zM112 65h2v1h-2zM114 66h3v1h-3zM118 67h3v1h-3zM121 68h3v1h-3zM124 69h3v1h-3zM127 70h3v1h-3zM130 71h3v1h-3z"/>
<path fill="#00ff9c" d="M35 0h1v1h-1zM37 0h1v1h-1zM35 2h1v1h-1zM37 2h1v1h-1zM39 3h1v1h-1zM37 4h2v1h-2zM35 6h1v1h-1zM37 6h1v1h-1zM40 7h1v1h-1zM39 9h2v1h-2zM42 11h1v1h-1zM38 13h1v1h-1zM40 13h2v1h-2zM42 14h1v1h-1zM44 15h1v1h-1zM42 16h2v1h-2zM44 17h1v1h-1zM35 18h1v1h-1zM45 19h1v1h-1zM45 20h1v1h-1zM43 21h1v1h-1zM46 24h2v1h-2zM47 25h2v1h-2zM47 26h2v1h-2zM48 27h1v1h-1zM48 28h2v1h-2zM48 30h2v1h-2zM51 31h1v1h-1zM52 32h2v1h-2zM53 33h1v1h-1zM54 34h1v1h-1zM55 35h1v1h-1zM56 36h1v1h-1zM57 37h1v1h-1zM58 38h1v1h-1zM59 39h1v1h-1zM62 40h2v1h-2zM66 41h2v1h-2zM68 42h2v1h-2zM71 43h1v1h-1zM72 44h1v1h-1zM74 45h1v1h-1zM75 46h1v1h-1zM77 47h1v1h-1zM78 48h2v1h-2zM80 49h1v1h-1zM83 51h1v1h-1zM84 52h2v1h-2zM86 53h2v1h-2zM88 54h2v1h-2zM90 55h2v1h-2zM92 56h2v1h-2zM94 57h2v1h-2zM96 58h2v1h-2zM98 59h2v1h-2zM101 60h2v1h-2zM104 61h2v1h-2zM106 62h2v1h-2zM109 63h2v1h-2zM111 64h3v1h-3zM114 65h3v1h-3zM117 66h4v1h-4zM121 67h3v1h-3zM124 68h3v1h-3zM127 69h3v1h-3zM130 70h3v1h-3z"/>
<path fill="#00ff91" d="M38 1h1v1h-1zM36 3h3v1h-3zM40 4h1v1h-1zM39 5h1v1h-1zM39 7h1v1h-1zM36 8h1v1h-1zM39 8h1v1h-1zM42 8h1v1h-1zM42 9h1v1h-1zM39 10h2v1h-2zM40 11h2v1h-2zM43 11h1v1h-1zM41 12h1v1h-1zM43 13h1v1h-1zM43 14h1v1h-1zM42 15h1v1h-1zM44 16h2v1h-2zM45 17h1v1h-1zM36 18h1v1h-1zM44 21h2v1h-2zM47 22h1v1h-1zM47 23h1v1h-1zM48 24h1v1h-1zM49 26h2v1h-2zM49 27h1v1h-1zM50 28h2v1h-2zM50 30h2v1h-2zM52 31h1v1h-1zM54 32h1v1h-1zM54 33h1v1h-1zM55 34h2v1h-2zM56 35h1v1h-1zM57 36h1v1h-1zM58 37h1v1h-1zM59 38h1v1h-1zM60 39h3v1h-3zM64 40h3v1h-3zM68 41h2v1h-2zM70 42h2v1h-2zM72 43h1v1h-1zM73 44h1v1h-1zM75 45h1v1h-1zM76 46h2v1h-2zM78 47h1v1h-1zM80 48h1v1h-1zM81 49h2v1h-2zM82 50h2v1h-2zM84 51h2v1h-2zM86 52h2v1h-2zM88 53h2v1h-2zM90 54h1v1h-1zM92 55h2v1h-2zM94 56h2v1h-2zM96 57h2v1h-2zM98 58h2v1h-2zM100 59h3v1h-3zM103 60h3v1h-3zM106 61h3v1h-3zM108 62h3v1h-3zM111 63h3v1h-3zM114 64h4v1h-4zM117 65h4v1h-4zM121 66h3v1h-3zM124 67h3v1h-3zM127 68h3v1h-3zM130 69h3v1h-3z"/>
<path fill="#00ff86" d="M33 0h1v1h-1zM38 0h1v1h-1zM36 1h2v1h-2zM38 2h1v1h-1zM41 4h1v1h-1zM37 5h2v1h-2zM40 5h2v1h-2zM39 6h1v1h-1zM41 6h2v1h-2zM42 7h1v1h-1zM40 8h1v1h-1zM41 10h1v1h-1zM43 10h2v1h-2zM42 12h4v1h-4zM44 13h2v1h-2zM44 14h2v1h-2zM43 15h1v1h-1zM45 15h1v1h-1zM46 16h1v1h-1zM46 17h1v1h-1zM37 18h1v1h-1zM40 18h1v1h-1zM46 20h2v1h-2zM48 22h1v1h-1zM48 23h1v1h-1zM50 25h1v1h-1zM50 27h2v1h-2zM51 29h2v1h-2zM53 31h2v1h-2zM55 33h1v1h-1zM57 35h1v1h-1zM58 36h1v1h-1zM59 37h1v1h-1zM60 38h4v1h-4zM63 39h3v1h-3zM67 39h1v1h-1zM67 40h2v1h-2zM70 41h1v1h-1zM72 42h1v1h-1zM73 43h1v1h-1zM74 44h2v1h-2zM76 45h1v1h-1zM78 46h1v1h-1zM79 47h2v1h-2zM81 48h1v1h-1zM83 49h1v1h-1zM84 50h1v1h-1zM86 51h1v1h-1zM88 52h2v1h-2zM90 53h2v1h-2zM91 54h3v1h-3zM94 55h2v1h-2zM96 56h2v1h-2zM98 57h3v1h-3zM100 58h3v1h-3zM103 59h3v1h-3zM106 60h2v1h-2zM109 61h2v1h-2zM111 62h3v1h-3zM114 63h3v1h-3zM118 64h3v1h-3zM121 65h3v1h-3zM124 66h3v1h-3zM127 67h3v1h-3zM130 68h3v1h-3z"/>
<path fill="#00ff7c" d="M40 0h1v1h-1zM39 1h1v1h-1zM39 2h1v1h-1zM40 3h1v1h-1zM42 3h1v1h-1zM43 5h1v1h-1zM41 7h1v1h-1zM44 7h1v1h-1zM43 8h1v1h-1zM41 9h1v1h-1zM44 9h1v1h-1zM42 10h1v1h-1zM44 11h1v1h-1zM46 13h1v1h-1zM46 15h1v1h-1zM47 17h1v1h-1zM38 18h1v1h-1zM46 19h2v1h-2zM48 20h1v1h-1zM46 21h2v1h-2zM49 22h1v1h-1zM49 23h1v1h-1zM51 23h1v1h-1zM49 24h1v1h-1zM49 25h1v1h-1zM51 25h2v1h-2zM51 26h2v1h-2zM52 27h2v1h-2zM52 28h1v1h-1zM53 29h1v1h-1zM52 30h1v1h-1zM55 31h1v1h-1zM57 31h1v1h-1zM55 32h3v1h-3zM56 33h1v1h-1zM57 34h2v1h-2zM59 35h1v1h-1zM59 36h4v1h-4zM60 37h1v1h-1zM62 37h4v1h-4zM64 38h2v1h-2zM67 38h1v1h-1zM66 39h1v1h-1zM68 39h2v1h-2zM69 40h2v1h-2zM71 41h1v1h-1zM73 42h1v1h-1zM74 43h2v1h-2zM76 44h2v1h-2zM77 45h2v1h-2zM79 46h1v1h-1zM81 47h2v1h-2zM82 48h2v1h-2zM84 49h1v1h-1zM85 50h2v1h-2zM87 51h2v1h-2zM90 52h2v1h-2zM92 53h1v1h-1zM94 54h2v1h-2zM96 55h2v1h-2zM98 56h2v1h-2zM101 57h2v1h-2zM103 58h2v1h-2zM106 59h2v1h-2zM108 60h3v1h-3zM111 61h2v1h-2zM114 62h3v1h-3zM117 63h3v1h-3zM121 64h2v1h-2zM124 65h3v1h-3zM127 66h4v1h-4zM130 67h3v1h-3z"/>
<path fill="#00ff71" d="M39 0h1v1h-1zM41 0h1v1h-1zM41 1h2v1h-2zM40 2h2v1h-2zM43 3h1v1h-1zM39 4h1v1h-1zM42 4h1v1h-1zM43 7h1v1h-1zM46 7h1v1h-1zM43 9h1v1h-1zM45 9h1v1h-1zM45 10h1v1h-1zM47 16h2v1h-2zM48 17h1v1h-1zM39 18h1v1h-1zM48 19h1v1h-1zM50 19h1v1h-1zM49 20h1v1h-1zM50 22h1v1h-1zM50 23h1v1h-1zM50 24h2v1h-2zM53 25h2v1h-2zM53 26h1v1h-1zM53 28h2v1h-2zM54 29h2v1h-2zM53 30h2v1h-2zM56 31h1v1h-1zM58 32h2v1h-2zM57 33h2v1h-2zM59 34h3v1h-3zM58 35h1v1h-1zM60 35h5v1h-5zM63 36h3v1h-3zM61 37h1v1h-1zM66 37h3v1h-3zM66 38h1v1h-1zM68 38h2v1h-2zM70 39h1v1h-1zM71 40h1v1h-1zM72 41h2v1h-2zM74 42h1v1h-1zM76 43h1v1h-1zM78 44h1v1h-1zM79 45h1v1h-1zM80 46h2v1h-2zM83 47h1v1h-1zM84 48h1v1h-1zM85 49h2v1h-2zM87 50h2v1h-2zM89 51h2v1h-2zM92 52h2v1h-2zM93 53h3v1h-3zM96 54h2v1h-2zM98 55h2v1h-2zM100 56h3v1h-3zM103 57h3v1h-3zM105 58h4v1h-4zM108 59h3v1h-3zM111 60h3v1h-3zM113 61h5v1h-5zM117 62h4v1h-4zM120 63h4v1h-4zM123 64h5v1h-5zM127 65h4v1h-4zM131 66h2v1h-2z"/>
<path fill="#00ff66" d="M40 1h1v1h-1zM41 3h1v1h-1zM42 5h1v1h-1zM43 6h1v1h-1zM45 6h1v1h-1zM44 8h1v1h-1zM46 8h1v1h-1zM45 11h2v1h-2zM46 12h1v1h-1zM46 14h2v1h-2zM47 15h3v1h-3zM49 16h1v1h-1zM49 17h2v1h-2zM41 18h2v1h-2zM49 19h1v1h-1zM51 19h1v1h-1zM50 20h3v1h-3zM48 21h1v1h-1zM51 22h3v1h-3zM52 23h3v1h-3zM52 24h3v1h-3zM55 25h1v1h-1zM54 26h3v1h-3zM54 27h3v1h-3zM55 28h3v1h-3zM56 29h2v1h-2zM55 30h3v1h-3zM58 31h3v1h-3zM60 32h1v1h-1zM62 32h1v1h-1zM59 33h5v1h-5zM62 34h3v1h-3zM65 35h2v1h-2zM66 36h3v1h-3zM69 37h1v1h-1zM70 38h2v1h-2zM71 39h2v1h-2zM72 40h2v1h-2zM74 41h1v1h-1zM75 42h2v1h-2zM77 43h2v1h-2zM79 44h2v1h-2zM80 45h2v1h-2zM82 46h2v1h-2zM84 47h1v1h-1zM85 48h2v1h-2zM87 49h2v1h-2zM89 50h3v1h-3zM91 51h3v1h-3zM94 52h2v1h-2zM96 53h2v1h-2zM98 54h3v1h-3zM100 55h4v1h-4zM103 56h3v1h-3zM106 57h3v1h-3zM109 58h2v1h-2zM111 59h3v1h-3zM114 60h3v1h-3zM118 61h3v1h-3zM121 62h4v1h-4zM124 63h4v1h-4zM128 64h4v1h-4zM131 65h2v1h-2z"/>
<path fill="#00ff5b" d="M43 0h1v1h-1zM43 1h2v1h-2zM42 2h1v1h-1zM44 3h1v1h-1zM44 4h1v1h-1zM44 5h2v1h-2zM44 6h1v1h-1zM45 7h1v1h-1zM45 8h1v1h-1zM46 9h1v1h-1zM47 10h1v1h-1zM47 11h2v1h-2zM47 12h1v1h-1zM49 12h1v1h-1zM47 13h3v1h-3zM48 14h2v1h-2zM51 15h1v1h-1zM43 18h2v1h-2zM52 19h1v1h-1zM53 20h1v1h-1zM49 21h2v1h-2zM52 21h1v1h-1zM54 22h2v1h-2zM56 23h1v1h-1zM55 24h3v1h-3zM57 26h1v1h-1zM57 27h2v1h-2zM58 28h2v1h-2zM58 29h1v1h-1zM58 30h2v1h-2zM61 31h4v1h-4zM61 32h1v1h-1zM63 32h2v1h-2zM64 33h4v1h-4zM65 34h4v1h-4zM67 35h3v1h-3zM69 36h1v1h-1zM70 37h2v1h-2zM72 38h1v1h-1zM73 39h1v1h-1zM74 40h1v1h-1zM75 41h2v1h-2zM77 42h2v1h-2zM79 43h1v1h-1zM81 44h1v1h-1zM82 45h1v1h-1zM84 46h1v1h-1zM85 47h2v1h-2zM87 48h2v1h-2zM89 49h3v1h-3zM92 50h2v1h-2zM94 51h2v1h-2zM96 52h2v1h-2zM98 53h3v1h-3zM101 54h2v1h-2zM104 55h2v1h-2zM106 56h3v1h-3zM109 57h3v1h-3zM111 58h4v1h-4zM114 59h4v1h-4zM117 60h5v1h-5zM121 61h4v1h-4zM125 62h3v1h-3zM128 63h4v1h-4zM132 64h1v1h-1z"/>
<path fill="#00ff51" d="M42 0h1v1h-1zM44 2h1v1h-1zM45 3h2v1h-2zM43 4h1v1h-1zM45 4h2v1h-2zM46 6h1v1h-1zM48 6h1v1h-1zM47 7h1v1h-1zM48 8h1v1h-1zM47 9h2v1h-2zM46 10h1v1h-1zM48 10h2v1h-2zM49 11h1v1h-1zM48 12h1v1h-1zM51 12h1v1h-1zM50 14h1v1h-1zM50 15h1v1h-1zM50 16h3v1h-3zM51 17h3v1h-3zM45 18h1v1h-1zM53 19h3v1h-3zM54 20h1v1h-1zM51 21h1v1h-1zM53 21h2v1h-2zM56 22h1v1h-1zM55 23h1v1h-1zM57 23h1v1h-1zM56 25h3v1h-3zM58 26h2v1h-2zM59 27h2v1h-2zM60 28h1v1h-1zM62 28h1v1h-1zM59 29h5v1h-5zM60 30h4v1h-4zM65 30h1v1h-1zM65 31h1v1h-1zM65 32h2v1h-2zM68 33h1v1h-1zM69 34h1v1h-1zM70 35h1v1h-1zM70 36h2v1h-2zM72 37h1v1h-1zM73 38h1v1h-1zM74 39h2v1h-2zM75 40h2v1h-2zM77 41h2v1h-2zM79 42h2v1h-2zM80 43h2v1h-2zM82 44h2v1h-2zM83 45h2v1h-2zM85 46h2v1h-2zM87 47h2v1h-2zM89 48h2v1h-2zM92 49h2v1h-2zM94 50h2v1h-2zM96 51h2v1h-2zM98 52h3v1h-3zM101 53h3v1h-3zM103 54h3v1h-3zM106 55h3v1h-3zM109 56h2v1h-2zM112 57h3v1h-3zM115 58h3v1h-3zM118 59h4v1h-4zM122 60h4v1h-4zM125 61h5v1h-5zM128 62h4v1h-4zM132 63h1v1h-1z"/>
<path fill="#00ff46" d="M44 0h1v1h-1zM45 1h1v1h-1zM43 2h1v1h-1zM46 2h2v1h-2zM48 3h1v1h-1zM47 4h1v1h-1zM46 5h3v1h-3zM47 6h1v1h-1zM49 6h1v1h-1zM48 7h2v1h-2zM47 8h1v1h-1zM49 9h1v1h-1zM50 11h2v1h-2zM50 12h1v1h-1zM51 13h1v1h-1zM51 14h2v1h-2zM52 15h2v1h-2zM53 16h2v1h-2zM54 17h2v1h-2zM56 19h1v1h-1zM55 20h2v1h-2zM55 21h2v1h-2zM57 22h2v1h-2zM58 23h1v1h-1zM58 24h1v1h-1zM60 24h1v1h-1zM59 25h2v1h-2zM60 26h3v1h-3zM61 27h3v1h-3zM61 28h1v1h-1zM63 28h2v1h-2zM64 29h2v1h-2zM64 30h1v1h-1zM66 30h2v1h-2zM66 31h3v1h-3zM67 32h2v1h-2zM69 33h1v1h-1zM70 34h2v1h-2zM71 35h1v1h-1zM72 36h1v1h-1zM73 37h1v1h-1zM74 38h1v1h-1zM76 39h1v1h-1zM77 40h2v1h-2zM79 41h1v1h-1zM81 42h1v1h-1zM82 43h1v1h-1zM84 44h1v1h-1zM85 45h2v1h-2zM87 46h2v1h-2zM89 47h2v1h-2zM91 48h3v1h-3zM94 49h2v1h-2zM96 50h2v1h-2zM98 51h3v1h-3zM101 52h2v1h-2zM104 53h2v1h-2zM106 54h3v1h-3zM109 55h3v1h-3zM111 56h4v1h-4zM115 57h4v1h-4zM118 58h4v1h-4zM122 59h4v1h-4zM126 60h3v1h-3zM130 61h3v1h-3zM132 62h1v1h-1z"/>
<path fill="#00ff3b" d="M45 0h3v1h-3zM46 1h2v1h-2zM45 2h1v1h-1zM48 2h1v1h-1zM47 3h1v1h-1zM49 5h1v1h-1zM50 7h1v1h-1zM49 8h3v1h-3zM50 9h3v1h-3zM50 10h3v1h-3zM52 11h2v1h-2zM52 12h3v1h-3zM50 13h1v1h-1zM52 13h4v1h-4zM53 14h2v1h-2zM54 15h3v1h-3zM55 16h2v1h-2zM56 17h2v1h-2zM46 18h1v1h-1zM57 19h1v1h-1zM57 20h1v1h-1zM57 21h1v1h-1zM59 22h1v1h-1zM59 23h2v1h-2zM59 24h1v1h-1zM61 24h1v1h-1zM61 25h2v1h-2zM63 26h2v1h-2zM64 27h2v1h-2zM65 28h2v1h-2zM66 29h2v1h-2zM69 31h1v1h-1zM69 32h1v1h-1zM70 33h2v1h-2zM72 34h1v1h-1zM72 35h2v1h-2zM73 36h1v1h-1zM74 37h1v1h-1zM75 38h2v1h-2zM77 39h1v1h-1zM79 40h1v1h-1zM80 41h2v1h-2zM82 42h2v1h-2zM83 43h2v1h-2zM85 44h2v1h-2zM87 45h2v1h-2zM89 46h2v1h-2zM91 47h2v1h-2zM94 48h2v1h-2zM96 49h3v1h-3zM98 50h3v1h-3zM101 51h3v1h-3zM103 52h3v1h-3zM106 53h3v1h-3zM109 54h3v1h-3zM112 55h4v1h-4zM115 56h4v1h-4zM119 57h4v1h-4zM122 58h4v1h-4zM126 59h4v1h-4zM129 60h4v1h-4z"/>
<path fill="#00ff30" d="M48 1h1v1h-1zM50 1h1v1h-1zM49 2h2v1h-2zM49 3h1v1h-1zM48 4h2v1h-2zM51 4h1v1h-1zM51 5h1v1h-1zM50 6h2v1h-2zM51 7h1v1h-1zM52 8h2v1h-2zM53 9h1v1h-1zM53 10h2v1h-2zM54 11h1v1h-1zM56 11h1v1h-1zM56 12h1v1h-1zM55 14h2v1h-2zM57 16h1v1h-1zM58 17h1v1h-1zM47 18h1v1h-1zM58 19h2v1h-2zM58 20h2v1h-2zM58 21h3v1h-3zM60 22h2v1h-2zM61 23h3v1h-3zM62 24h2v1h-2zM63 25h3v1h-3zM65 26h2v1h-2zM66 27h2v1h-2zM67 28h1v1h-1zM68 29h1v1h-1zM68 30h2v1h-2zM70 31h1v1h-1zM70 32h2v1h-2zM74 36h2v1h-2zM75 37h2v1h-2zM77 38h1v1h-1zM78 39h3v1h-3zM80 40h2v1h-2zM82 41h1v1h-1zM84 42h1v1h-1zM85 43h2v1h-2zM87 44h2v1h-2zM89 45h2v1h-2zM91 46h3v1h-3zM93 47h3v1h-3zM96 48h2v1h-2zM99 49h2v1h-2zM101 50h3v1h-3zM104 51h3v1h-3zM106 52h3v1h-3zM109 53h3v1h-3zM112 54h4v1h-4zM116 55h3v1h-3zM119 56h4v1h-4zM123 57h4v1h-4zM126 58h5v1h-5zM130 59h3v1h-3z"/>
<path fill="#00ff26" d="M48 0h2v1h-2zM49 1h1v1h-1zM51 2h1v1h-1zM50 3h1v1h-1zM50 4h1v1h-1zM50 5h1v1h-1zM53 5h1v1h-1zM52 6h2v1h-2zM52 7h3v1h-3zM54 8h1v1h-1zM54 9h1v1h-1zM55 10h1v1h-1zM55 11h1v1h-1zM55 12h1v1h-1zM56 13h1v1h-1zM57 14h1v1h-1zM57 15h2v1h-2zM58 16h2v1h-2zM59 17h1v1h-1zM48 18h1v1h-1zM60 19h2v1h-2zM60 20h3v1h-3zM61 21h1v1h-1zM62 22h2v1h-2zM64 23h2v1h-2zM64 24h2v1h-2zM66 25h1v1h-1zM67 26h1v1h-1zM68 27h1v1h-1zM68 28h1v1h-1zM69 29h1v1h-1zM70 30h1v1h-1zM71 31h1v1h-1zM72 32h1v1h-1zM72 33h1v1h-1zM73 34h1v1h-1zM74 35h2v1h-2zM76 36h1v1h-1zM77 37h1v1h-1zM78 38h2v1h-2zM82 40h1v1h-1zM83 41h2v1h-2zM85 42h2v1h-2zM87 43h1v1h-1zM89 44h2v1h-2zM91 45h3v1h-3zM94 46h2v1h-2zM96 47h3v1h-3zM98 48h4v1h-4zM101 49h3v1h-3zM104 50h3v1h-3zM107 51h2v1h-2zM109 52h3v1h-3zM112 53h4v1h-4zM116 54h4v1h-4zM119 55h4v1h-4zM123 56h4v1h-4zM127 57h4v1h-4zM131 58h2v1h-2z"/>
<path fill="#00ff1b" d="M51 1h1v1h-1zM52 2h1v1h-1zM51 3h1v1h-1zM52 4h2v1h-2zM52 5h1v1h-1zM54 5h2v1h-2zM54 6h1v1h-1zM55 7h1v1h-1zM55 8h2v1h-2zM55 9h2v1h-2zM56 10h1v1h-1zM57 11h1v1h-1zM57 12h1v1h-1zM57 13h2v1h-2zM58 14h1v1h-1zM59 15h1v1h-1zM60 16h1v1h-1zM60 17h1v1h-1zM49 18h3v1h-3zM62 19h2v1h-2zM63 20h2v1h-2zM62 21h4v1h-4zM64 22h3v1h-3zM66 23h1v1h-1zM66 24h2v1h-2zM67 25h1v1h-1zM68 26h1v1h-1zM69 28h1v1h-1zM70 29h1v1h-1zM71 30h1v1h-1zM72 31h1v1h-1zM73 32h1v1h-1zM73 33h1v1h-1zM74 34h1v1h-1zM76 35h1v1h-1zM77 36h2v1h-2zM78 37h2v1h-2zM80 38h2v1h-2zM81 39h2v1h-2zM83 40h2v1h-2zM85 41h1v1h-1zM87 42h2v1h-2zM88 43h3v1h-3zM91 44h2v1h-2zM94 45h2v1h-2zM96 46h3v1h-3zM99 47h2v1h-2zM102 48h2v1h-2zM104 49h3v1h-3zM107 50h3v1h-3zM109 51h3v1h-3zM112 52h4v1h-4zM116 53h4v1h-4zM120 54h4v1h-4zM123 55h4v1h-4zM127 56h5v1h-5zM131 57h2v1h-2z"/>
<path fill="#00ff10" d="M50 0h4v1h-4zM52 1h2v1h-2zM53 2h2v1h-2zM52 3h3v1h-3zM54 4h1v1h-1zM55 6h2v1h-2zM56 7h1v1h-1zM57 9h1v1h-1zM57 10h2v1h-2zM58 11h1v1h-1zM58 12h2v1h-2zM59 13h2v1h-2zM59 14h2v1h-2zM62 14h1v1h-1zM60 15h2v1h-2zM61 16h1v1h-1zM61 17h2v1h-2zM52 18h2v1h-2zM64 19h2v1h-2zM65 20h1v1h-1zM67 23h1v1h-1zM68 24h1v1h-1zM68 25h1v1h-1zM69 26h1v1h-1zM69 27h1v1h-1zM70 28h1v1h-1zM71 29h1v1h-1zM72 30h1v1h-1zM73 31h1v1h-1zM74 33h1v1h-1zM75 34h2v1h-2zM77 35h2v1h-2zM79 36h1v1h-1zM80 37h2v1h-2zM82 38h1v1h-1zM83 39h2v1h-2zM85 40h1v1h-1zM86 41h2v1h-2zM89 42h2v1h-2zM91 43h3v1h-3zM93 44h3v1h-3zM96 45h3v1h-3zM99 46h2v1h-2zM101 47h3v1h-3zM104 48h3v1h-3zM107 49h3v1h-3zM110 50h2v1h-2zM112 51h4v1h-4zM116 52h4v1h-4zM120 53h4v1h-4zM124 54h4v1h-4zM127 55h5v1h-5zM132 56h1v1h-1z"/>
<path fill="#00ff05" d="M54 0h1v1h-1zM54 1h2v1h-2zM55 3h1v1h-1zM55 4h1v1h-1zM56 5h1v1h-1zM57 6h1v1h-1zM57 7h1v1h-1zM57 8h2v1h-2zM58 9h2v1h-2zM59 10h1v1h-1zM59 11h2v1h-2zM60 12h1v1h-1zM61 14h1v1h-1zM62 15h1v1h-1zM64 15h1v1h-1zM62 16h3v1h-3zM63 17h2v1h-2zM54 18h1v1h-1zM66 19h1v1h-1zM66 20h1v1h-1zM66 21h2v1h-2zM67 22h1v1h-1zM68 23h1v1h-1zM69 25h1v1h-1zM70 26h1v1h-1zM70 27h1v1h-1zM71 28h1v1h-1zM72 29h1v1h-1zM73 30h1v1h-1zM74 32h2v1h-2zM75 33h2v1h-2zM77 34h2v1h-2zM79 35h1v1h-1zM80 36h2v1h-2zM82 37h1v1h-1zM83 38h2v1h-2zM85 39h1v1h-1zM86 40h2v1h-2zM88 41h3v1h-3zM91 42h2v1h-2zM94 43h2v1h-2zM96 44h3v1h-3zM99 45h2v1h-2zM101 46h3v1h-3zM104 47h3v1h-3zM107 48h3v1h-3zM110 49h3v1h-3zM112 50h4v1h-4zM116 51h5v1h-5zM120 52h5v1h-5zM124 53h5v1h-5zM128 54h4v1h-4zM132 55h1v1h-1z"/>
<path fill="#05ff00" d="M55 0h1v1h-1zM56 1h1v1h-1zM55 2h2v1h-2zM56 3h1v1h-1zM56 4h2v1h-2zM57 5h1v1h-1zM59 5h1v1h-1zM58 6h1v1h-1zM58 7h1v1h-1zM59 8h1v1h-1zM60 10h2v1h-2zM61 11h1v1h-1zM61 12h1v1h-1zM61 13h2v1h-2zM63 14h1v1h-1zM63 15h1v1h-1zM65 16h1v1h-1zM65 17h2v1h-2zM55 18h2v1h-2zM67 19h1v1h-1zM67 20h1v1h-1zM68 21h1v1h-1zM68 22h1v1h-1zM69 24h2v1h-2zM70 25h1v1h-1zM71 26h1v1h-1zM71 27h2v1h-2zM72 28h2v1h-2zM73 29h1v1h-1zM74 30h2v1h-2zM74 31h2v1h-2zM76 32h2v1h-2zM77 33h3v1h-3zM79 34h2v1h-2zM80 35h3v1h-3zM82 36h2v1h-2zM83 37h3v1h-3zM85 38h2v1h-2zM86 39h3v1h-3zM88 40h4v1h-4zM91 41h3v1h-3zM93 42h4v1h-4zM96 43h4v1h-4zM99 44h3v1h-3zM101 45h4v1h-4zM104 46h4v1h-4zM107 47h4v1h-4zM110 48h4v1h-4zM113 49h5v1h-5zM116 50h6v1h-6zM121 51h4v1h-4zM125 52h4v1h-4zM129 53h4v1h-4zM132 54h1v1h-1z"/>
<path fill="#10ff00" d="M56 0h2v1h-2zM57 1h1v1h-1zM57 2h2v1h-2zM57 3h1v1h-1zM58 4h3v1h-3zM58 5h1v1h-1zM60 5h1v1h-1zM59 6h1v1h-1zM59 7h3v1h-3zM60 8h2v1h-2zM60 9h3v1h-3zM62 10h2v1h-2zM62 11h2v1h-2zM62 12h4v1h-4zM63 13h3v1h-3zM64 14h3v1h-3zM65 15h2v1h-2zM66 16h2v1h-2zM67 17h1v1h-1zM57 18h2v1h-2zM68 19h1v1h-1zM68 20h2v1h-2zM69 21h2v1h-2zM69 22h2v1h-2zM69 23h3v1h-3zM71 24h2v1h-2zM71 25h3v1h-3zM72 26h3v1h-3zM73 27h2v1h-2zM74 28h2v1h-2zM74 29h3v1h-3zM76 30h3v1h-3zM76 31h4v1h-4zM78 32h3v1h-3zM80 33h2v1h-2zM81 34h4v1h-4zM83 35h3v1h-3zM84 36h3v1h-3zM86 37h3v1h-3zM87 38h5v1h-5zM89 39h4v1h-4zM92 40h4v1h-4zM94 41h5v1h-5zM97 42h4v1h-4zM100 43h4v1h-4zM102 44h4v1h-4zM105 45h4v1h-4zM108 46h3v1h-3zM111 47h4v1h-4zM114 48h5v1h-5zM118 49h4v1h-4zM122 50h4v1h-4zM125 51h5v1h-5zM129 52h4v1h-4z"/>
<path fill="#1bff00" d="M58 1h2v1h-2zM59 2h1v1h-1zM58 3h3v1h-3zM61 4h1v1h-1zM60 6h3v1h-3zM62 7h1v1h-1zM62 8h2v1h-2zM65 8h1v1h-1zM63 9h1v1h-1zM64 10h2v1h-2zM64 11h3v1h-3zM66 12h1v1h-1zM66 13h2v1h-2zM67 14h1v1h-1zM67 15h2v1h-2zM68 16h1v1h-1zM68 17h2v1h-2zM59 18h1v1h-1zM69 19h2v1h-2zM70 20h2v1h-2zM71 21h2v1h-2zM71 22h2v1h-2zM72 23h2v1h-2zM73 24h2v1h-2zM74 25h1v1h-1zM75 26h2v1h-2zM75 27h3v1h-3zM76 28h4v1h-4zM77 29h4v1h-4zM79 30h3v1h-3zM80 31h3v1h-3zM81 32h3v1h-3zM82 33h3v1h-3zM85 34h2v1h-2zM86 35h2v1h-2zM87 36h3v1h-3zM89 37h4v1h-4zM92 38h3v1h-3zM93 39h4v1h-4zM96 40h3v1h-3zM99 41h3v1h-3zM101 42h3v1h-3zM104 43h3v1h-3zM106 44h4v1h-4zM109 45h3v1h-3zM111 46h5v1h-5zM115 47h5v1h-5zM119 48h5v1h-5zM122 49h5v1h-5zM126 50h5v1h-5zM130 51h3v1h-3z"/>
<path fill="#26ff00" d="M58 0h2v1h-2zM60 1h1v1h-1zM60 2h1v1h-1zM61 3h1v1h-1zM62 4h1v1h-1zM61 5h3v1h-3zM63 6h1v1h-1zM63 7h3v1h-3zM64 8h1v1h-1zM66 8h1v1h-1zM64 9h2v1h-2zM66 10h1v1h-1zM67 11h1v1h-1zM67 12h1v1h-1zM68 13h1v1h-1zM68 14h2v1h-2zM69 15h1v1h-1zM69 16h2v1h-2zM70 17h1v1h-1zM60 18h2v1h-2zM71 19h2v1h-2zM72 20h2v1h-2zM73 21h1v1h-1zM73 22h2v1h-2zM74 23h2v1h-2zM75 24h3v1h-3zM75 25h3v1h-3zM77 26h3v1h-3zM78 27h3v1h-3zM80 28h2v1h-2zM81 29h2v1h-2zM82 30h2v1h-2zM83 31h2v1h-2zM84 32h3v1h-3zM85 33h3v1h-3zM87 34h3v1h-3zM88 35h4v1h-4zM90 36h4v1h-4zM93 37h3v1h-3zM95 38h3v1h-3zM97 39h3v1h-3zM99 40h4v1h-4zM102 41h3v1h-3zM104 42h4v1h-4zM107 43h3v1h-3zM110 44h3v1h-3zM112 45h5v1h-5zM116 46h5v1h-5zM120 47h5v1h-5zM124 48h4v1h-4zM127 49h5v1h-5zM131 50h2v1h-2z"/>
<path fill="#31ff00" d="M60 0h2v1h-2zM61 1h3v1h-3zM61 2h3v1h-3zM62 3h3v1h-3zM63 4h2v1h-2zM64 5h2v1h-2zM64 6h2v1h-2zM66 7h2v1h-2zM68 8h1v1h-1zM66 9h2v1h-2zM67 10h2v1h-2zM68 11h2v1h-2zM68 12h2v1h-2zM69 13h2v1h-2zM70 14h2v1h-2zM70 15h2v1h-2zM71 16h2v1h-2zM71 17h3v1h-3zM62 18h2v1h-2zM73 19h2v1h-2zM74 20h2v1h-2zM74 21h3v1h-3zM75 22h2v1h-2zM76 23h3v1h-3zM78 24h2v1h-2zM78 25h3v1h-3zM80 26h2v1h-2zM81 27h2v1h-2zM82 28h2v1h-2zM83 29h2v1h-2zM84 30h3v1h-3zM85 31h2v1h-2zM87 32h2v1h-2zM88 33h3v1h-3zM90 34h3v1h-3zM92 35h3v1h-3zM94 36h3v1h-3zM96 37h3v1h-3zM98 38h3v1h-3zM100 39h4v1h-4zM103 40h3v1h-3zM105 41h4v1h-4zM108 42h3v1h-3zM110 43h4v1h-4zM113 44h5v1h-5zM117 45h5v1h-5zM121 46h4v1h-4zM125 47h4v1h-4zM128 48h5v1h-5zM132 49h1v1h-1z"/>
<path fill="#3bff00" d="M62 0h1v1h-1zM64 1h2v1h-2zM64 2h1v1h-1zM65 3h2v1h-2zM65 4h2v1h-2zM66 5h2v1h-2zM66 6h2v1h-2zM67 8h1v1h-1zM68 9h1v1h-1zM69 10h1v1h-1zM70 11h1v1h-1zM70 12h2v1h-2zM71 13h2v1h-2zM72 14h1v1h-1zM72 15h2v1h-2zM73 16h2v1h-2zM74 17h1v1h-1zM64 18h1v1h-1zM75 19h3v1h-3zM76 20h2v1h-2zM77 21h2v1h-2zM77 22h3v1h-3zM79 23h2v1h-2zM80 24h2v1h-2zM81 25h2v1h-2zM82 26h2v1h-2zM83 27h2v1h-2zM84 28h2v1h-2zM85 29h2v1h-2zM87 30h2v1h-2zM87 31h4v1h-4zM89 32h4v1h-4zM91 33h4v1h-4zM93 34h3v1h-3zM95 35h3v1h-3zM97 36h3v1h-3zM99 37h3v1h-3zM101 38h4v1h-4zM104 39h3v1h-3zM106 40h4v1h-4zM109 41h3v1h-3zM111 42h5v1h-5zM114 43h5v1h-5zM118 44h5v1h-5zM122 45h4v1h-4zM125 46h5v1h-5zM129 47h4v1h-4z"/>
<path fill="#46ff00" d="M63 0h4v1h-4zM66 1h1v1h-1zM65 2h2v1h-2zM67 3h1v1h-1zM67 4h1v1h-1zM68 5h1v1h-1zM68 6h2v1h-2zM68 7h2v1h-2zM69 8h3v1h-3zM69 9h3v1h-3zM70 10h2v1h-2zM71 11h2v1h-2zM72 12h2v1h-2zM73 13h1v1h-1zM73 14h2v1h-2zM74 15h2v1h-2zM75 16h2v1h-2zM75 17h3v1h-3zM65 18h2v1h-2zM78 19h2v1h-2zM78 20h2v1h-2zM79 21h2v1h-2zM80 22h2v1h-2zM81 23h2v1h-2zM82 24h2v1h-2zM83 25h2v1h-2zM84 26h2v1h-2zM85 27h2v1h-2zM86 28h3v1h-3zM87 29h3v1h-3zM89 30h3v1h-3zM91 31h3v1h-3zM93 32h3v1h-3zM95 33h2v1h-2zM96 34h3v1h-3zM98 35h3v1h-3zM100 36h3v1h-3zM102 37h3v1h-3zM105 38h3v1h-3zM107 39h3v1h-3zM110 40h3v1h-3zM112 41h5v1h-5zM116 42h4v1h-4zM119 43h5v1h-5zM123 44h4v1h-4zM126 45h5v1h-5zM130 46h3v1h-3z"/>
<path fill="#51ff00" d="M67 0h1v1h-1zM67 1h1v1h-1zM67 2h2v1h-2zM68 3h1v1h-1zM68 4h2v1h-2zM69 5h2v1h-2zM70 6h1v1h-1zM70 7h1v1h-1zM72 8h1v1h-1zM72 9h1v1h-1zM72 10h2v1h-2zM73 11h1v1h-1zM74 12h2v1h-2zM74 13h3v1h-3zM75 14h3v1h-3zM76 15h2v1h-2zM77 16h2v1h-2zM78 17h2v1h-2zM67 18h1v1h-1zM80 19h2v1h-2zM80 20h2v1h-2zM81 21h2v1h-2zM82 22h2v1h-2zM83 23h2v1h-2zM84 24h2v1h-2zM85 25h2v1h-2zM86 26h2v1h-2zM87 27h3v1h-3zM89 28h2v1h-2zM90 29h3v1h-3zM92 30h3v1h-3zM94 31h2v1h-2zM96 32h2v1h-2zM97 33h3v1h-3zM99 34h3v1h-3zM101 35h3v1h-3zM103 36h3v1h-3zM105 37h4v1h-4zM108 38h3v1h-3zM110 39h4v1h-4zM113 40h5v1h-5zM117 41h4v1h-4zM120 42h5v1h-5zM124 43h4v1h-4zM127 44h4v1h-4zM131 45h2v1h-2z"/>
<path fill="#5cff00" d="M68 0h1v1h-1zM68 1h1v1h-1zM69 2h2v1h-2zM69 3h2v1h-2zM70 4h1v1h-1zM71 5h1v1h-1zM71 6h2v1h-2zM71 7h3v1h-3zM73 8h2v1h-2zM73 9h2v1h-2zM74 10h2v1h-2zM74 11h2v1h-2zM76 12h2v1h-2zM77 13h2v1h-2zM78 14h1v1h-1zM78 15h2v1h-2zM79 16h2v1h-2zM80 17h2v1h-2zM68 18h2v1h-2zM82 19h1v1h-1zM82 20h2v1h-2zM83 21h2v1h-2zM84 22h2v1h-2zM85 23h2v1h-2zM86 24h2v1h-2zM87 25h2v1h-2zM88 26h3v1h-3zM90 27h2v1h-2zM91 28h3v1h-3zM93 29h2v1h-2zM95 30h2v1h-2zM96 31h3v1h-3zM98 32h2v1h-2zM100 33h3v1h-3zM102 34h3v1h-3zM104 35h3v1h-3zM106 36h3v1h-3zM109 37h3v1h-3zM111 38h4v1h-4zM114 39h5v1h-5zM118 40h4v1h-4zM121 41h4v1h-4zM125 42h4v1h-4zM128 43h4v1h-4zM131 44h2v1h-2z"/>
<path fill="#67ff00" d="M69 0h2v1h-2zM69 1h3v1h-3zM71 2h1v1h-1zM71 3h2v1h-2zM71 4h3v1h-3zM72 5h3v1h-3zM73 6h2v1h-2zM74 7h2v1h-2zM75 8h1v1h-1zM75 9h2v1h-2zM76 10h2v1h-2zM76 11h3v1h-3zM78 12h2v1h-2zM79 13h1v1h-1zM79 14h2v1h-2zM80 15h2v1h-2zM81 16h2v1h-2zM82 17h2v1h-2zM70 18h1v1h-1zM83 19h2v1h-2zM84 20h2v1h-2zM85 21h2v1h-2zM86 22h2v1h-2zM87 23h2v1h-2zM88 24h2v1h-2zM89 25h3v1h-3zM91 26h3v1h-3zM92 27h3v1h-3zM94 28h3v1h-3zM95 29h3v1h-3zM97 30h2v1h-2zM99 31h2v1h-2zM100 32h4v1h-4zM103 33h3v1h-3zM105 34h3v1h-3zM107 35h3v1h-3zM109 36h4v1h-4zM112 37h4v1h-4zM115 38h5v1h-5zM119 39h4v1h-4zM122 40h4v1h-4zM125 41h5v1h-5zM129 42h4v1h-4zM132 43h1v1h-1z"/>
<path fill="#72ff00" d="M71 0h1v1h-1zM72 1h1v1h-1zM72 2h2v1h-2zM73 3h2v1h-2zM74 4h1v1h-1zM75 5h1v1h-1zM75 6h1v1h-1zM76 7h1v1h-1zM76 8h3v1h-3zM77 9h2v1h-2zM78 10h1v1h-1zM79 11h2v1h-2zM80 12h1v1h-1zM80 13h2v1h-2zM81 14h2v1h-2zM82 15h2v1h-2zM83 16h1v1h-1zM84 17h1v1h-1zM71 18h2v1h-2zM85 19h2v1h-2zM86 20h1v1h-1zM87 21h2v1h-2zM88 22h2v1h-2zM89 23h2v1h-2zM90 24h3v1h-3zM92 25h3v1h-3zM94 26h2v1h-2zM95 27h2v1h-2zM97 28h2v1h-2zM98 29h2v1h-2zM99 30h3v1h-3zM101 31h3v1h-3zM104 32h3v1h-3zM106 33h3v1h-3zM108 34h3v1h-3zM110 35h4v1h-4zM113 36h4v1h-4zM116 37h4v1h-4zM120 38h4v1h-4zM123 39h4v1h-4zM126 40h4v1h-4zM130 41h3v1h-3z"/>
<path fill="#7cff00" d="M72 0h3v1h-3zM73 1h2v1h-2zM74 2h2v1h-2zM75 3h1v1h-1zM75 4h2v1h-2zM76 5h1v1h-1zM76 6h2v1h-2zM77 7h2v1h-2zM79 8h1v1h-1zM79 9h2v1h-2zM79 10h3v1h-3zM81 11h1v1h-1zM81 12h2v1h-2zM82 13h2v1h-2zM83 14h1v1h-1zM84 15h1v1h-1zM84 16h2v1h-2zM85 17h2v1h-2zM73 18h3v1h-3zM87 19h1v1h-1zM87 20h3v1h-3zM89 21h2v1h-2zM90 22h2v1h-2zM91 23h3v1h-3zM93 24h2v1h-2zM95 25h1v1h-1zM96 26h2v1h-2zM97 27h2v1h-2zM99 28h2v1h-2zM100 29h3v1h-3zM102 30h3v1h-3zM104 31h3v1h-3zM107 32h3v1h-3zM109 33h3v1h-3zM111 34h4v1h-4zM114 35h4v1h-4zM117 36h4v1h-4zM120 37h5v1h-5zM124 38h4v1h-4zM127 39h4v1h-4zM130 40h3v1h-3z"/>
<path fill="#87ff00" d="M75 0h1v1h-1zM75 1h1v1h-1zM76 2h1v1h-1zM76 3h1v1h-1zM77 4h2v1h-2zM77 5h2v1h-2zM78 6h2v1h-2zM79 7h2v1h-2zM80 8h2v1h-2zM81 9h1v1h-1zM82 10h1v1h-1zM82 11h2v1h-2zM83 12h1v1h-1zM84 13h1v1h-1zM84 14h2v1h-2zM85 15h1v1h-1zM86 16h1v1h-1zM87 17h1v1h-1zM76 18h2v1h-2zM88 19h3v1h-3zM90 20h2v1h-2zM91 21h2v1h-2zM92 22h3v1h-3zM94 23h2v1h-2zM95 24h2v1h-2zM96 25h3v1h-3zM98 26h2v1h-2zM99 27h3v1h-3zM101 28h3v1h-3zM103 29h3v1h-3zM105 30h4v1h-4zM107 31h3v1h-3zM110 32h2v1h-2zM112 33h4v1h-4zM115 34h4v1h-4zM118 35h4v1h-4zM121 36h4v1h-4zM125 37h3v1h-3zM128 38h4v1h-4zM131 39h2v1h-2z"/>
<path fill="#92ff00" d="M76 0h2v1h-2zM76 1h2v1h-2zM77 2h2v1h-2zM77 3h3v1h-3zM79 4h1v1h-1zM79 5h2v1h-2zM80 6h2v1h-2zM81 7h1v1h-1zM82 8h1v1h-1zM82 9h2v1h-2zM83 10h2v1h-2zM84 11h1v1h-1zM84 12h2v1h-2zM85 13h2v1h-2zM86 14h1v1h-1zM86 15h3v1h-3zM87 16h2v1h-2zM88 17h3v1h-3zM78 18h2v1h-2zM91 19h2v1h-2zM92 20h3v1h-3zM93 21h3v1h-3zM95 22h2v1h-2zM96 23h2v1h-2zM97 24h2v1h-2zM99 25h2v1h-2zM100 26h3v1h-3zM102 27h3v1h-3zM104 28h3v1h-3zM106 29h3v1h-3zM109 30h2v1h-2zM110 31h4v1h-4zM112 32h5v1h-5zM116 33h4v1h-4zM119 34h4v1h-4zM122 35h4v1h-4zM125 36h4v1h-4zM128 37h4v1h-4zM132 38h1v1h-1z"/>
<path fill="#9dff00" d="M78 0h1v1h-1zM78 1h2v1h-2zM79 2h2v1h-2zM80 3h1v1h-1zM80 4h2v1h-2zM81 5h2v1h-2zM82 6h1v1h-1zM82 7h2v1h-2zM83 8h2v1h-2zM84 9h2v1h-2zM85 10h1v1h-1zM85 11h2v1h-2zM86 12h2v1h-2zM87 13h1v1h-1zM87 14h3v1h-3zM89 15h2v1h-2zM89 16h3v1h-3zM91 17h2v1h-2zM80 18h2v1h-2zM93 19h2v1h-2zM95 20h1v1h-1zM96 21h2v1h-2zM97 22h2v1h-2zM98 23h2v1h-2zM99 24h3v1h-3zM101 25h3v1h-3zM103 26h3v1h-3zM105 27h3v1h-3zM107 28h3v1h-3zM109 29h3v1h-3zM111 30h4v1h-4zM114 31h4v1h-4zM117 32h4v1h-4zM120 33h4v1h-4zM123 34h4v1h-4zM126 35h4v1h-4zM129 36h4v1h-4zM132 37h1v1h-1z"/>
<path fill="#a8ff00" d="M79 0h2v1h-2zM80 1h1v1h-1zM81 2h1v1h-1zM81 3h2v1h-2zM82 4h2v1h-2zM83 5h1v1h-1zM83 6h2v1h-2zM84 7h2v1h-2zM85 8h1v1h-1zM86 9h1v1h-1zM86 10h1v1h-1zM87 11h2v1h-2zM88 12h2v1h-2zM88 13h3v1h-3zM90 14h2v1h-2zM91 15h2v1h-2zM92 16h2v1h-2zM93 17h2v1h-2zM82 18h2v1h-2zM95 19h2v1h-2zM96 20h2v1h-2zM98 21h1v1h-1zM99 22h2v1h-2zM100 23h3v1h-3zM102 24h3v1h-3zM104 25h3v1h-3zM106 26h3v1h-3zM108 27h3v1h-3zM110 28h3v1h-3zM112 29h4v1h-4zM115 30h4v1h-4zM118 31h3v1h-3zM121 32h3v1h-3zM124 33h4v1h-4zM127 34h4v1h-4zM130 35h3v1h-3z"/>
<path fill="#b2ff00" d="M81 0h1v1h-1zM81 1h2v1h-2zM82 2h2v1h-2zM83 3h1v1h-1zM84 4h1v1h-1zM84 5h2v1h-2zM85 6h1v1h-1zM86 7h1v1h-1zM86 8h2v1h-2zM87 9h2v1h-2zM87 10h3v1h-3zM89 11h2v1h-2zM90 12h2v1h-2zM91 13h2v1h-2zM92 14h2v1h-2zM93 15h2v1h-2zM94 16h2v1h-2zM95 17h2v1h-2zM84 18h1v1h-1zM97 19h2v1h-2zM98 20h2v1h-2zM99 21h3v1h-3zM101 22h3v1h-3zM103 23h3v1h-3zM105 24h3v1h-3zM107 25h3v1h-3zM109 26h2v1h-2zM111 27h3v1h-3zM113 28h4v1h-4zM116 29h3v1h-3zM119 30h3v1h-3zM121 31h4v1h-4zM124 32h4v1h-4zM128 33h3v1h-3zM131 34h2v1h-2z"/>
<path fill="#bdff00" d="M82 0h2v1h-2zM83 1h1v1h-1zM84 2h1v1h-1zM84 3h2v1h-2zM85 4h1v1h-1zM86 5h1v1h-1zM86 6h2v1h-2zM87 7h2v1h-2zM88 8h2v1h-2zM89 9h2v1h-2zM90 10h1v1h-1zM91 11h2v1h-2zM92 12h2v1h-2zM93 13h2v1h-2zM94 14h1v1h-1zM95 15h2v1h-2zM96 16h2v1h-2zM97 17h2v1h-2zM85 18h2v1h-2zM99 19h2v1h-2zM100 20h3v1h-3zM102 21h3v1h-3zM104 22h2v1h-2zM106 23h2v1h-2zM108 24h2v1h-2zM110 25h2v1h-2zM111 26h4v1h-4zM114 27h4v1h-4zM117 28h3v1h-3zM119 29h4v1h-4zM122 30h4v1h-4zM125 31h4v1h-4zM128 32h4v1h-4zM131 33h2v1h-2z"/>
<path fill="#c8ff00" d="M84 0h1v1h-1zM84 1h2v1h-2zM85 2h1v1h-1zM86 3h1v1h-1zM86 4h2v1h-2zM87 5h2v1h-2zM88 6h2v1h-2zM89 7h2v1h-2zM90 8h2v1h-2zM91 9h1v1h-1zM91 10h3v1h-3zM93 11h1v1h-1zM94 12h1v1h-1zM95 13h1v1h-1zM95 14h2v1h-2zM97 15h1v1h-1zM98 16h1v1h-1zM99 17h1v1h-1zM87 18h2v1h-2zM101 19h3v1h-3zM103 20h3v1h-3zM105 21h2v1h-2zM106 22h3v1h-3zM108 23h3v1h-3zM110 24h3v1h-3zM112 25h4v1h-4zM115 26h3v1h-3zM118 27h3v1h-3zM120 28h4v1h-4zM123 29h4v1h-4zM126 30h4v1h-4zM129 31h4v1h-4zM132 32h1v1h-1z"/>
<path fill="#d3ff00" d="M85 0h1v1h-1zM86 1h1v1h-1zM86 2h2v1h-2zM87 3h2v1h-2zM88 4h2v1h-2zM89 5h2v1h-2zM90 6h1v1h-1zM91 7h1v1h-1zM92 8h1v1h-1zM92 9h2v1h-2zM94 10h1v1h-1zM94 11h2v1h-2zM95 12h2v1h-2zM96 13h2v1h-2zM97 14h2v1h-2zM98 15h2v1h-2zM99 16h2v1h-2zM100 17h3v1h-3zM89 18h2v1h-2zM104 19h2v1h-2zM106 20h2v1h-2zM107 21h3v1h-3zM109 22h3v1h-3zM111 23h3v1h-3zM113 24h4v1h-4zM116 25h3v1h-3zM118 26h4v1h-4zM121 27h4v1h-4zM124 28h4v1h-4zM127 29h4v1h-4zM130 30h3v1h-3z"/>
<path fill="#deff00" d="M86 0h2v1h-2zM87 1h2v1h-2zM88 2h2v1h-2zM89 3h2v1h-2zM90 4h2v1h-2zM91 5h1v1h-1zM91 6h2v1h-2zM92 7h2v1h-2zM93 8h2v1h-2zM94 9h2v1h-2zM95 10h2v1h-2zM96 11h1v1h-1zM97 12h1v1h-1zM98 13h1v1h-1zM99 14h1v1h-1zM100 15h2v1h-2zM101 16h3v1h-3zM103 17h2v1h-2zM91 18h2v1h-2zM106 19h3v1h-3zM108 20h2v1h-2zM110 21h2v1h-2zM112 22h3v1h-3zM114 23h3v1h-3zM117 24h3v1h-3zM119 25h3v1h-3zM122 26h3v1h-3zM125 27h3v1h-3zM128 28h4v1h-4zM131 29h2v1h-2z"/>
<path fill="#e8ff00" d="M88 0h2v1h-2zM89 1h2v1h-2zM90 2h1v1h-1zM91 3h1v1h-1zM92 4h1v1h-1zM92 5h2v1h-2zM93 6h2v1h-2zM94 7h1v1h-1zM95 8h1v1h-1zM96 9h1v1h-1zM97 10h1v1h-1zM97 11h2v1h-2zM98 12h2v1h-2zM99 13h2v1h-2zM100 14h2v1h-2zM102 15h2v1h-2zM104 16h2v1h-2zM105 17h3v1h-3zM93 18h2v1h-2zM109 19h2v1h-2zM110 20h3v1h-3zM112 21h4v1h-4zM115 22h3v1h-3zM117 23h4v1h-4zM120 24h3v1h-3zM122 25h4v1h-4zM125 26h4v1h-4zM128 27h4v1h-4zM132 28h1v1h-1z"/>
<path fill="#f3ff00" d="M90 0h1v1h-1zM91 1h1v1h-1zM91 2h2v1h-2zM92 3h2v1h-2zM93 4h1v1h-1zM94 5h1v1h-1zM95 6h1v1h-1zM95 7h2v1h-2zM96 8h2v1h-2zM97 9h2v1h-2zM98 10h1v1h-1zM99 11h1v1h-1zM100 12h2v1h-2zM101 13h2v1h-2zM102 14h3v1h-3zM104 15h3v1h-3zM106 16h3v1h-3zM108 17h2v1h-2zM95 18h2v1h-2zM111 19h3v1h-3zM113 20h4v1h-4zM116 21h3v1h-3zM118 22h3v1h-3zM121 23h3v1h-3zM123 24h4v1h-4zM126 25h4v1h-4zM129 26h4v1h-4zM132 27h1v1h-1z"/>
<path fill="#feff00" d="M91 0h2v1h-2zM92 1h2v1h-2zM93 2h1v1h-1zM94 3h1v1h-1zM94 4h2v1h-2zM95 5h2v1h-2zM96 6h1v1h-1zM97 7h1v1h-1zM98 8h1v1h-1zM99 9h1v1h-1zM99 10h2v1h-2zM100 11h3v1h-3zM102 12h2v1h-2zM103 13h3v1h-3zM105 14h2v1h-2zM107 15h2v1h-2zM109 16h2v1h-2zM110 17h3v1h-3zM97 18h2v1h-2zM114 19h3v1h-3zM117 20h2v1h-2zM119 21h3v1h-3zM121 22h3v1h-3zM124 23h3v1h-3zM127 24h4v1h-4zM130 25h3v1h-3z"/>
<path fill="#fff500" d="M93 0h2v1h-2zM94 1h1v1h-1zM94 2h2v1h-2zM95 3h2v1h-2zM96 4h2v1h-2zM97 5h1v1h-1zM97 6h2v1h-2zM98 7h2v1h-2zM99 8h2v1h-2zM100 9h3v1h-3zM101 10h3v1h-3zM103 11h3v1h-3zM104 12h3v1h-3zM106 13h3v1h-3zM107 14h4v1h-4zM109 15h3v1h-3zM111 16h3v1h-3zM113 17h3v1h-3zM99 18h2v1h-2zM117 19h4v1h-4zM119 20h4v1h-4zM122 21h3v1h-3zM124 22h4v1h-4zM127 23h4v1h-4zM131 24h2v1h-2z"/>
<path fill="#ffea00" d="M95 0h1v1h-1zM95 1h2v1h-2zM96 2h2v1h-2zM97 3h2v1h-2zM98 4h1v1h-1zM98 5h2v1h-2zM99 6h3v1h-3zM100 7h3v1h-3zM101 8h4v1h-4zM103 9h3v1h-3zM104 10h3v1h-3zM106 11h3v1h-3zM107 12h4v1h-4zM109 13h3v1h-3zM111 14h3v1h-3zM112 15h4v1h-4zM114 16h4v1h-4zM116 17h4v1h-4zM101 18h2v1h-2zM121 19h3v1h-3zM123 20h3v1h-3zM125 21h4v1h-4zM128 22h4v1h-4zM131 23h2v1h-2z"/>
<path fill="#ffe000" d="M96 0h2v1h-2zM97 1h2v1h-2zM98 2h2v1h-2zM99 3h1v1h-1zM99 4h3v1h-3zM100 5h3v1h-3zM102 6h3v1h-3zM103 7h3v1h-3zM105 8h3v1h-3zM106 9h3v1h-3zM107 10h3v1h-3zM109 11h3v1h-3zM111 12h2v1h-2zM112 13h3v1h-3zM114 14h3v1h-3zM116 15h3v1h-3zM118 16h3v1h-3zM120 17h3v1h-3zM103 18h3v1h-3zM124 19h3v1h-3zM126 20h4v1h-4zM129 21h3v1h-3zM132 22h1v1h-1z"/>
<path fill="#ffd500" d="M98 0h2v1h-2zM99 1h2v1h-2zM100 2h2v1h-2zM100 3h4v1h-4zM102 4h3v1h-3zM103 5h3v1h-3zM105 6h3v1h-3zM106 7h3v1h-3zM108 8h2v1h-2zM109 9h3v1h-3zM110 10h3v1h-3zM112 11h3v1h-3zM113 12h3v1h-3zM115 13h3v1h-3zM117 14h3v1h-3zM119 15h3v1h-3zM121 16h3v1h-3zM123 17h3v1h-3zM106 18h3v1h-3zM127 19h3v1h-3zM130 20h2v1h-2zM132 21h1v1h-1z"/>
<path fill="#ffca00" d="M100 0h3v1h-3zM101 1h3v1h-3zM102 2h3v1h-3zM104 3h2v1h-2zM105 4h2v1h-2zM106 5h3v1h-3zM108 6h2v1h-2zM109 7h2v1h-2zM110 8h2v1h-2zM112 9h2v1h-2zM113 10h3v1h-3zM115 11h3v1h-3zM116 12h3v1h-3zM118 13h3v1h-3zM120 14h3v1h-3zM122 15h3v1h-3zM124 16h3v1h-3zM126 17h3v1h-3zM109 18h2v1h-2zM130 19h2v1h-2zM132 20h1v1h-1z"/>
<path fill="#ffbf00" d="M103 0h2v1h-2zM104 1h2v1h-2zM105 2h2v1h-2zM106 3h3v1h-3zM107 4h3v1h-3zM109 5h2v1h-2zM110 6h2v1h-2zM111 7h3v1h-3zM112 8h3v1h-3zM114 9h3v1h-3zM116 10h3v1h-3zM118 11h2v1h-2zM119 12h3v1h-3zM121 13h3v1h-3zM123 14h2v1h-2zM125 15h2v1h-2zM127 16h2v1h-2zM129 17h2v1h-2zM111 18h3v1h-3zM132 19h1v1h-1z"/>
<path fill="#ffb400" d="M105 0h2v1h-2zM106 1h3v1h-3zM107 2h3v1h-3zM109 3h2v1h-2zM110 4h2v1h-2zM111 5h2v1h-2zM112 6h3v1h-3zM114 7h3v1h-3zM115 8h3v1h-3zM117 9h3v1h-3zM119 10h2v1h-2zM120 11h3v1h-3zM122 12h2v1h-2zM124 13h2v1h-2zM125 14h3v1h-3zM127 15h2v1h-2zM129 16h2v1h-2zM131 17h2v1h-2zM114 18h3v1h-3z"/>
<path fill="#ffa900" d="M107 0h3v1h-3zM109 1h2v1h-2zM110 2h2v1h-2zM111 3h2v1h-2zM112 4h3v1h-3zM113 5h3v1h-3zM115 6h3v1h-3zM117 7h2v1h-2zM118 8h2v1h-2zM120 9h2v1h-2zM121 10h2v1h-2zM123 11h2v1h-2zM124 12h3v1h-3zM126 13h2v1h-2zM128 14h2v1h-2zM129 15h2v1h-2zM131 16h2v1h-2zM117 18h4v1h-4z"/>
<path fill="#ff9f00" d="M110 0h2v1h-2zM111 1h2v1h-2zM112 2h2v1h-2zM113 3h2v1h-2zM115 4h2v1h-2zM116 5h2v1h-2zM118 6h2v1h-2zM119 7h2v1h-2zM120 8h3v1h-3zM122 9h2v1h-2zM123 10h3v1h-3zM125 11h2v1h-2zM127 12h2v1h-2zM128 13h2v1h-2zM130 14h2v1h-2zM131 15h2v1h-2zM121 18h3v1h-3z"/>
<path fill="#ff9400" d="M112 0h2v1h-2zM113 1h2v1h-2zM114 2h3v1h-3zM115 3h3v1h-3zM117 4h2v1h-2zM118 5h3v1h-3zM120 6h2v1h-2zM121 7h2v1h-2zM123 8h2v1h-2zM124 9h2v1h-2zM126 10h2v1h-2zM127 11h2v1h-2zM129 12h1v1h-1zM130 13h2v1h-2zM132 14h1v1h-1zM124 18h3v1h-3z"/>
<path fill="#ff8900" d="M114 0h2v1h-2zM115 1h2v1h-2zM117 2h2v1h-2zM118 3h2v1h-2zM119 4h2v1h-2zM121 5h2v1h-2zM122 6h2v1h-2zM123 7h2v1h-2zM125 8h2v1h-2zM126 9h2v1h-2zM128 10h1v1h-1zM129 11h2v1h-2zM130 12h2v1h-2zM132 13h1v1h-1zM127 18h3v1h-3z"/>
<path fill="#ff7e00" d="M116 0h2v1h-2zM117 1h3v1h-3zM119 2h2v1h-2zM120 3h2v1h-2zM121 4h3v1h-3zM123 5h2v1h-2zM124 6h2v1h-2zM125 7h2v1h-2zM127 8h2v1h-2zM128 9h2v1h-2zM129 10h2v1h-2zM131 11h1v1h-1zM132 12h1v1h-1zM130 18h2v1h-2z"/>
<path fill="#ff7300" d="M118 0h4v1h-4zM120 1h3v1h-3zM121 2h4v1h-4zM122 3h4v1h-4zM124 4h3v1h-3zM125 5h3v1h-3zM126 6h4v1h-4zM127 7h4v1h-4zM129 8h3v1h-3zM130 9h3v1h-3zM131 10h2v1h-2zM132 11h1v1h-1zM132 18h1v1h-1z"/>
<path fill="#ff6900" d="M122 0h4v1h-4zM123 1h4v1h-4zM125 2h3v1h-3zM126 3h3v1h-3zM127 4h4v1h-4zM128 5h4v1h-4zM130 6h3v1h-3zM131 7h2v1h-2zM132 8h1v1h-1z"/>
<path fill="#ff5e00" d="M126 0h3v1h-3zM127 1h3v1h-3zM128 2h4v1h-4zM129 3h4v1h-4zM131 4h2v1h-2zM132 5h1v1h-1z"/>
<path fill="#ff5300" d="M129 0h4v1h-4zM130 1h3v1h-3zM132 2h1v1h-1z"/>
</g></g>
<path d="M724.80 372.20v-4.2M746.59 372.20v-2.1M759.34 372.20v-2.1M768.39 372.20v-2.1M775.41 372.20v-2.1M781.14 372.20v-2.1M785.99 372.20v-2.1M790.18 372.20v-2.1M793.89 372.20v-2.1M797.20 372.20v-4.2M818.99 372.20v-2.1M831.74 372.20v-2.1M840.79 372.20v-2.1M847.81 372.20v-2.1M853.54 372.20v-2.1M858.39 372.20v-2.1M862.58 372.20v-2.1M866.29 372.20v-2.1M869.60 372.20v-4.2M891.39 372.20v-2.1M904.14 372.20v-2.1M913.19 372.20v-2.1M920.21 372.20v-2.1M925.94 372.20v-2.1M930.79 372.20v-2.1M934.98 372.20v-2.1M938.69 372.20v-2.1M942.00 372.20v-4.2M963.79 372.20v-2.1M976.54 372.20v-2.1M985.59 372.20v-2.1M992.61 372.20v-2.1M998.34 372.20v-2.1M1003.19 372.20v-2.1M1007.38 372.20v-2.1M1011.09 372.20v-2.1M1014.40 372.20v-4.2M1036.19 372.20v-2.1M1048.94 372.20v-2.1M1057.99 372.20v-2.1M1065.01 372.20v-2.1M1070.74 372.20v-2.1M1075.59 372.20v-2.1M1079.78 372.20v-2.1M1083.49 372.20v-2.1M1086.80 372.20v-4.2M1108.59 372.20v-2.1M724.80 372.20h4.2M724.80 350.63h2.1M724.80 338.02h2.1M724.80 329.07h2.1M724.80 322.13h2.1M724.80 316.45h2.1M724.80 311.66h2.1M724.80 307.50h2.1M724.80 303.84h2.1M724.80 300.56h4.2M724.80 278.99h2.1M724.80 266.38h2.1M724.80 257.43h2.1M724.80 250.49h2.1M724.80 244.81h2.1M724.80 240.02h2.1M724.80 235.86h2.1M724.80 232.20h2.1M724.80 228.92h4.2M724.80 207.35h2.1M724.80 194.74h2.1M724.80 185.79h2.1M724.80 178.85h2.1M724.80 173.17h2.1M724.80 168.38h2.1M724.80 164.22h2.1M724.80 160.56h2.1M724.80 157.28h4.2M724.80 135.71h2.1M724.80 123.10h2.1M724.80 114.15h2.1M724.80 107.21h2.1M724.80 101.53h2.1M724.80 96.74h2.1M724.80 92.58h2.1M724.80 88.92h2.1M724.80 85.64h4.2M724.80 64.07h2.1M724.80 51.46h2.1M724.80 42.51h2.1M724.80 35.57h2.1M724.80 29.89h2.1M724.80 25.10h2.1M724.80 20.94h2.1M724.80 17.28h2.1" stroke="#111" stroke-width="0.98" fill="none"/>
<rect x="724.80" y="14.00" width="384.20" height="358.20" fill="none" stroke="#000" stroke-width="1.30"/>
<text x="719.6" y="381.0" font-size="19.6" text-anchor="end"><tspan letter-spacing="-0.5">10</tspan><tspan dy="-12.2" font-size="13.3" letter-spacing="0.6">−1</tspan></text>
<text x="719.6" y="309.4" font-size="19.6" text-anchor="end"><tspan letter-spacing="-0.5">10</tspan><tspan dy="-12.2" font-size="13.3">0</tspan></text>
<text x="719.6" y="237.7" font-size="19.6" text-anchor="end"><tspan letter-spacing="-0.5">10</tspan><tspan dy="-12.2" font-size="13.3">1</tspan></text>
<text x="719.6" y="166.1" font-size="19.6" text-anchor="end"><tspan letter-spacing="-0.5">10</tspan><tspan dy="-12.2" font-size="13.3">2</tspan></text>
<text x="719.6" y="94.4" font-size="19.6" text-anchor="end"><tspan letter-spacing="-0.5">10</tspan><tspan dy="-12.2" font-size="13.3">3</tspan></text>
<text x="719.6" y="22.8" font-size="19.6" text-anchor="end"><tspan letter-spacing="-0.5">10</tspan><tspan dy="-12.2" font-size="13.3">4</tspan></text>
<text x="724.3" y="394.7" font-size="19.6" text-anchor="middle"><tspan letter-spacing="-0.5">10</tspan><tspan dy="-12.2" font-size="13.3">0</tspan></text>
<text x="796.7" y="394.7" font-size="19.6" text-anchor="middle"><tspan letter-spacing="-0.5">10</tspan><tspan dy="-12.2" font-size="13.3">1</tspan></text>
<text x="869.1" y="394.7" font-size="19.6" text-anchor="middle"><tspan letter-spacing="-0.5">10</tspan><tspan dy="-12.2" font-size="13.3">2</tspan></text>
<text x="941.5" y="394.7" font-size="19.6" text-anchor="middle"><tspan letter-spacing="-0.5">10</tspan><tspan dy="-12.2" font-size="13.3">3</tspan></text>
<text x="1013.9" y="394.7" font-size="19.6" text-anchor="middle"><tspan letter-spacing="-0.5">10</tspan><tspan dy="-12.2" font-size="13.3">4</tspan></text>
<text x="1086.3" y="394.7" font-size="19.6" text-anchor="middle"><tspan letter-spacing="-0.5">10</tspan><tspan dy="-12.2" font-size="13.3">5</tspan></text>
<linearGradient id="cb1" x1="0" y1="0" x2="0" y2="1"><stop offset="0.0000" stop-color="#ff0029"/><stop offset="0.0156" stop-color="#ff0019"/><stop offset="0.0312" stop-color="#ff0003"/><stop offset="0.0469" stop-color="#ff1200"/><stop offset="0.0625" stop-color="#ff2800"/><stop offset="0.0781" stop-color="#ff3d00"/><stop offset="0.0938" stop-color="#ff5300"/><stop offset="0.1094" stop-color="#ff6900"/><stop offset="0.1250" stop-color="#ff7e00"/><stop offset="0.1406" stop-color="#ff9400"/><stop offset="0.1562" stop-color="#ffa900"/><stop offset="0.1719" stop-color="#ffbf00"/><stop offset="0.1875" stop-color="#ffd500"/><stop offset="0.2031" stop-color="#ffea00"/><stop offset="0.2188" stop-color="#feff00"/><stop offset="0.2344" stop-color="#e8ff00"/><stop offset="0.2500" stop-color="#d3ff00"/><stop offset="0.2656" stop-color="#bdff00"/><stop offset="0.2812" stop-color="#a8ff00"/><stop offset="0.2969" stop-color="#92ff00"/><stop offset="0.3125" stop-color="#7cff00"/><stop offset="0.3281" stop-color="#67ff00"/><stop offset="0.3438" stop-color="#51ff00"/><stop offset="0.3594" stop-color="#3bff00"/><stop offset="0.3750" stop-color="#26ff00"/><stop offset="0.3906" stop-color="#10ff00"/><stop offset="0.4062" stop-color="#00ff05"/><stop offset="0.4219" stop-color="#00ff1b"/><stop offset="0.4375" stop-color="#00ff30"/><stop offset="0.4531" stop-color="#00ff46"/><stop offset="0.4688" stop-color="#00ff5b"/><stop offset="0.4844" stop-color="#00ff71"/><stop offset="0.5000" stop-color="#00ff86"/><stop offset="0.5156" stop-color="#00ff9c"/><stop offset="0.5312" stop-color="#00ffb1"/><stop offset="0.5469" stop-color="#00ffc7"/><stop offset="0.5625" stop-color="#00ffdc"/><stop offset="0.5781" stop-color="#00fff2"/><stop offset="0.5938" stop-color="#00f6ff"/><stop offset="0.6094" stop-color="#00e1ff"/><stop offset="0.6250" stop-color="#00cbff"/><stop offset="0.6406" stop-color="#00b5ff"/><stop offset="0.6562" stop-color="#00a0ff"/><stop offset="0.6719" stop-color="#008aff"/><stop offset="0.6875" stop-color="#0074ff"/><stop offset="0.7031" stop-color="#005eff"/><stop offset="0.7188" stop-color="#0049ff"/><stop offset="0.7344" stop-color="#0033ff"/><stop offset="0.7500" stop-color="#001dff"/><stop offset="0.7656" stop-color="#0007ff"/><stop offset="0.7812" stop-color="#0e00ff"/><stop offset="0.7969" stop-color="#2400ff"/><stop offset="0.8125" stop-color="#3a00ff"/><stop offset="0.8281" stop-color="#5000ff"/><stop offset="0.8438" stop-color="#6500ff"/><stop offset="0.8594" stop-color="#7b00ff"/><stop offset="0.8750" stop-color="#9100ff"/><stop offset="0.8906" stop-color="#a700ff"/><stop offset="0.9062" stop-color="#bc00ff"/><stop offset="0.9219" stop-color="#d200ff"/><stop offset="0.9375" stop-color="#e800ff"/><stop offset="0.9531" stop-color="#fe00ff"/><stop offset="0.9688" stop-color="#ff00eb"/><stop offset="0.9844" stop-color="#ff00d5"/><stop offset="1.0000" stop-color="#ff00bf"/></linearGradient>
<rect x="1131.60" y="14.00" width="18.30" height="358.20" fill="url(#cb1)" stroke="#000" stroke-width="1.30"/>
<text x="1154.2" y="380.2" font-size="19.6" text-anchor="start"><tspan letter-spacing="-0.5">10</tspan><tspan dy="-12.2" font-size="13.3" letter-spacing="0.6">−6</tspan></text>
<text x="1154.2" y="308.6" font-size="19.6" text-anchor="start"><tspan letter-spacing="-0.5">10</tspan><tspan dy="-12.2" font-size="13.3" letter-spacing="0.6">−4</tspan></text>
<text x="1154.2" y="236.9" font-size="19.6" text-anchor="start"><tspan letter-spacing="-0.5">10</tspan><tspan dy="-12.2" font-size="13.3" letter-spacing="0.6">−2</tspan></text>
<text x="1154.2" y="165.3" font-size="19.6" text-anchor="start"><tspan letter-spacing="-0.5">10</tspan><tspan dy="-12.2" font-size="13.3">0</tspan></text>
<text x="1154.2" y="93.6" font-size="19.6" text-anchor="start"><tspan letter-spacing="-0.5">10</tspan><tspan dy="-12.2" font-size="13.3">2</tspan></text>
<text x="1154.2" y="22.0" font-size="19.6" text-anchor="start"><tspan letter-spacing="-0.5">10</tspan><tspan dy="-12.2" font-size="13.3">4</tspan></text>
<path d="M1149.90 300.56h-4M1149.90 228.92h-4M1149.90 157.28h-4M1149.90 85.64h-4" stroke="#000" stroke-width="1.04" fill="none"/>
<text x="916.9" y="426.6" font-size="25.6" text-anchor="middle"><tspan font-style="italic">E</tspan><tspan dy="3.3" font-size="17.4" font-style="normal">α</tspan><tspan dy="-3.3"> [MeV nuc</tspan><tspan dy="-9.5" font-size="18.4" letter-spacing="1.2">−1</tspan><tspan dy="9.5">]</tspan></text>
<text transform="translate(671.8 191.9) rotate(-90)" font-size="25.6" text-anchor="middle"><tspan font-style="italic">E</tspan><tspan dy="3.3" font-size="17.4" font-style="italic">γ</tspan><tspan dy="-3.3"> [MeV]</tspan></text>
<text transform="translate(735.2 63.0) scale(1 1.05)" font-size="28.0" font-weight="bold">QGSP_BIC</text>
<text transform="translate(1209.0 192.1) rotate(-90)" font-size="19.4" text-anchor="middle"><tspan font-weight="bold" font-style="italic">Y</tspan><tspan dy="2.9" font-size="13.6" font-weight="normal" font-style="italic">α</tspan><tspan dy="-2.9">(</tspan><tspan font-weight="bold" font-style="italic">E</tspan><tspan dy="2.9" font-size="13.6" font-weight="normal" font-style="italic">γ</tspan><tspan dy="-2.9">|</tspan><tspan font-weight="bold" font-style="italic">E</tspan><tspan dy="2.9" font-size="13.6" font-weight="normal" font-style="normal">α</tspan><tspan dy="-2.9">) [ph MeV</tspan><tspan dy="-6.6" font-size="14.0" letter-spacing="1.0">−1</tspan><tspan dy="6.6"> alpha</tspan><tspan dy="-6.6" font-size="14.0" letter-spacing="1.0">−1</tspan><tspan dy="6.6">]</tspan></text>
</svg>
</body></html>
